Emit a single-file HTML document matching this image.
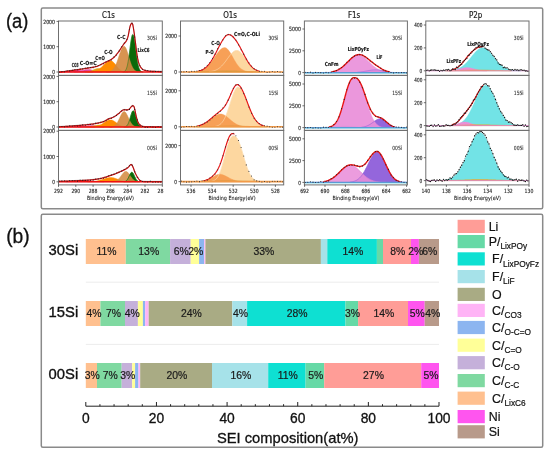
<!DOCTYPE html><html><head><meta charset="utf-8"><title>SEI XPS figure</title><style>html,body{margin:0;padding:0;background:#fff;width:550px;height:455px;overflow:hidden}svg{display:block;filter:blur(0.3px)}</style></head><body><svg width="550" height="455" viewBox="0 0 550 455"><defs><clipPath id="clip00"><rect x="58.5" y="21.0" width="103.8" height="54.4"/></clipPath><clipPath id="clip01"><rect x="58.5" y="75.4" width="103.8" height="55"/></clipPath><clipPath id="clip02"><rect x="58.5" y="130.4" width="103.8" height="54.5"/></clipPath><clipPath id="clip10"><rect x="180.5" y="21.0" width="103.2" height="54.4"/></clipPath><clipPath id="clip11"><rect x="180.5" y="75.4" width="103.2" height="55"/></clipPath><clipPath id="clip12"><rect x="180.5" y="130.4" width="103.2" height="54.5"/></clipPath><clipPath id="clip20"><rect x="304.4" y="21.0" width="103" height="54.4"/></clipPath><clipPath id="clip21"><rect x="304.4" y="75.4" width="103" height="55"/></clipPath><clipPath id="clip22"><rect x="304.4" y="130.4" width="103" height="54.5"/></clipPath><clipPath id="clip30"><rect x="425.8" y="21.0" width="103.2" height="54.4"/></clipPath><clipPath id="clip31"><rect x="425.8" y="75.4" width="103.2" height="55"/></clipPath><clipPath id="clip32"><rect x="425.8" y="130.4" width="103.2" height="54.5"/></clipPath></defs><rect width="550" height="455" fill="#fff"/><rect x="41.3" y="7.9" width="501.4" height="200.9" rx="1.5" fill="none" stroke="#8a8a8a" stroke-width="1.5"/>
<rect x="41.3" y="214.3" width="501.4" height="233" rx="1.5" fill="none" stroke="#8a8a8a" stroke-width="1.5"/>
<text x="5.9" y="27.9" font-family="Liberation Sans, DejaVu Sans, sans-serif" font-size="19.5" fill="#111" stroke="#111" stroke-width="0.3" textLength="22.4" lengthAdjust="spacingAndGlyphs">(a)</text>
<text x="6.2" y="243.4" font-family="Liberation Sans, DejaVu Sans, sans-serif" font-size="19.5" fill="#111" stroke="#111" stroke-width="0.3" textLength="23.5" lengthAdjust="spacingAndGlyphs">(b)</text>
<text x="108.5" y="17.8" text-anchor="middle" font-family="DejaVu Sans, Liberation Sans, sans-serif" font-size="8.0" fill="#1a1a1a" stroke="#1a1a1a" stroke-width="0.2" textLength="12.8" lengthAdjust="spacingAndGlyphs">C1s</text>
<g clip-path="url(#clip00)">
<path d="M61.01,72 L61.01,71.94 L61.51,71.93 L62.01,71.91 L62.51,71.89 L63.01,71.87 L63.51,71.84 L64.02,71.81 L64.52,71.77 L65.02,71.73 L65.52,71.68 L66.02,71.62 L66.52,71.56 L67.02,71.5 L67.53,71.43 L68.03,71.35 L68.53,71.26 L69.03,71.17 L69.53,71.08 L70.03,70.98 L70.53,70.88 L71.04,70.78 L71.54,70.68 L72.04,70.58 L72.54,70.48 L73.04,70.39 L73.54,70.31 L74.04,70.23 L74.55,70.16 L75.05,70.1 L75.55,70.06 L76.05,70.02 L76.55,70.01 L77.05,70 L77.56,70.01 L78.06,70.03 L78.56,70.07 L79.06,70.11 L79.56,70.17 L80.06,70.24 L80.56,70.32 L81.07,70.41 L81.57,70.5 L82.07,70.6 L82.57,70.7 L83.07,70.8 L83.57,70.9 L84.07,71 L84.58,71.1 L85.08,71.19 L85.58,71.28 L86.08,71.36 L86.58,71.44 L87.08,71.51 L87.58,71.58 L88.09,71.64 L88.59,71.69 L89.09,71.74 L89.59,71.78 L90.09,71.81 L90.59,71.85 L91.09,71.87 L91.6,71.9 L92.1,71.92 L92.6,71.93 L93.1,71.95 L93.1,72 Z" fill="#e0479e" fill-opacity="1" stroke="#e0479e" stroke-width="0.4"/>
<path d="M74.04,72 L74.04,71.95 L74.55,71.93 L75.05,71.91 L75.55,71.88 L76.05,71.85 L76.55,71.81 L77.05,71.76 L77.56,71.71 L78.06,71.64 L78.56,71.56 L79.06,71.47 L79.56,71.37 L80.06,71.26 L80.56,71.14 L81.07,71.01 L81.57,70.86 L82.07,70.71 L82.57,70.56 L83.07,70.4 L83.57,70.24 L84.07,70.09 L84.58,69.94 L85.08,69.81 L85.58,69.69 L86.08,69.58 L86.58,69.5 L87.08,69.44 L87.58,69.41 L88.09,69.4 L88.59,69.42 L89.09,69.46 L89.59,69.53 L90.09,69.62 L90.59,69.73 L91.09,69.85 L91.6,69.99 L92.1,70.14 L92.6,70.3 L93.1,70.45 L93.6,70.61 L94.1,70.77 L94.6,70.91 L95.11,71.05 L95.61,71.18 L96.11,71.3 L96.61,71.41 L97.11,71.51 L97.61,71.59 L98.11,71.66 L98.62,71.73 L99.12,71.78 L99.62,71.83 L100.12,71.86 L100.62,71.89 L101.12,71.92 L101.62,71.94 L101.62,72 Z" fill="#e0479e" fill-opacity="1" stroke="#e0479e" stroke-width="0.4"/>
<path d="M85.08,72 L85.08,71.94 L85.58,71.92 L86.08,71.9 L86.58,71.86 L87.08,71.82 L87.58,71.76 L88.09,71.69 L88.59,71.61 L89.09,71.51 L89.59,71.39 L90.09,71.25 L90.59,71.1 L91.09,70.92 L91.6,70.73 L92.1,70.52 L92.6,70.3 L93.1,70.07 L93.6,69.83 L94.1,69.59 L94.6,69.37 L95.11,69.15 L95.61,68.96 L96.11,68.8 L96.61,68.66 L97.11,68.57 L97.61,68.51 L98.11,68.5 L98.62,68.53 L99.12,68.61 L99.62,68.72 L100.12,68.87 L100.62,69.05 L101.12,69.25 L101.62,69.47 L102.13,69.7 L102.63,69.94 L103.13,70.17 L103.63,70.4 L104.13,70.62 L104.63,70.82 L105.13,71 L105.64,71.17 L106.14,71.32 L106.64,71.45 L107.14,71.56 L107.64,71.65 L108.14,71.72 L108.64,71.79 L109.15,71.84 L109.65,71.88 L110.15,71.91 L110.65,71.93 L110.65,72 Z" fill="#d9a21a" fill-opacity="1" stroke="#d9a21a" stroke-width="0.4"/>
<path d="M87.58,72 L87.58,71.95 L88.09,71.93 L88.59,71.92 L89.09,71.89 L89.59,71.87 L90.09,71.84 L90.59,71.8 L91.09,71.76 L91.6,71.71 L92.1,71.64 L92.6,71.57 L93.1,71.49 L93.6,71.39 L94.1,71.27 L94.6,71.14 L95.11,70.99 L95.61,70.82 L96.11,70.63 L96.61,70.42 L97.11,70.19 L97.61,69.92 L98.11,69.64 L98.62,69.33 L99.12,68.99 L99.62,68.62 L100.12,68.24 L100.62,67.83 L101.12,67.39 L101.62,66.94 L102.13,66.48 L102.63,66 L103.13,65.51 L103.63,65.02 L104.13,64.53 L104.63,64.05 L105.13,63.58 L105.64,63.12 L106.14,62.69 L106.64,62.29 L107.14,61.93 L107.64,61.6 L108.14,61.32 L108.64,61.09 L109.15,60.91 L109.65,60.78 L110.15,60.71 L110.65,60.7 L111.15,60.78 L111.65,60.95 L112.16,61.22 L112.66,61.57 L113.16,61.99 L113.66,62.48 L114.16,63.02 L114.66,63.6 L115.16,64.22 L115.67,64.85 L116.17,65.48 L116.67,66.11 L117.17,66.73 L117.67,67.32 L118.17,67.88 L118.67,68.41 L119.18,68.89 L119.68,69.33 L120.18,69.73 L120.68,70.09 L121.18,70.4 L121.68,70.68 L122.18,70.91 L122.69,71.11 L123.19,71.28 L123.69,71.43 L124.19,71.55 L124.69,71.64 L125.19,71.72 L125.69,71.78 L126.2,71.83 L126.7,71.87 L127.2,71.91 L127.7,71.93 L128.2,71.95 L128.2,72 Z" fill="#ff8c00" fill-opacity="1" stroke="#ff8c00" stroke-width="0.4"/>
<path d="M122.69,72 L122.69,71.91 L123.19,71.85 L123.69,71.73 L124.19,71.54 L124.69,71.25 L125.19,70.8 L125.69,70.14 L126.2,69.2 L126.7,67.9 L127.2,66.19 L127.7,64.01 L128.2,61.33 L128.7,58.18 L129.2,54.61 L129.71,50.78 L130.21,46.85 L130.71,43.09 L131.21,39.73 L131.71,37.05 L132.21,35.26 L132.71,34.52 L133.22,34.88 L133.72,36.33 L134.22,38.73 L134.72,41.88 L135.22,45.54 L135.72,49.44 L136.22,53.33 L136.73,57 L137.23,60.31 L137.73,63.15 L138.23,65.5 L138.73,67.37 L139.23,68.8 L139.73,69.85 L140.24,70.6 L140.74,71.11 L141.24,71.46 L141.74,71.68 L142.24,71.81 L142.74,71.9 L143.24,71.94 L143.24,72 Z" fill="#0a6a0a" fill-opacity="1" stroke="#0a6a0a" stroke-width="0.4"/>
<path d="M106.14,72 L106.14,71.93 L106.64,71.91 L107.14,71.87 L107.64,71.83 L108.14,71.77 L108.64,71.69 L109.15,71.59 L109.65,71.46 L110.15,71.3 L110.65,71.09 L111.15,70.84 L111.65,70.53 L112.16,70.16 L112.66,69.72 L113.16,69.19 L113.66,68.58 L114.16,67.86 L114.66,67.05 L115.16,66.13 L115.67,65.1 L116.17,63.97 L116.67,62.74 L117.17,61.43 L117.67,60.03 L118.17,58.58 L118.67,57.09 L119.18,55.59 L119.68,54.1 L120.18,52.66 L120.68,51.3 L121.18,50.05 L121.68,48.93 L122.18,47.99 L122.69,47.23 L123.19,46.69 L123.69,46.38 L124.19,46.3 L124.69,46.51 L125.19,47.02 L125.69,47.8 L126.2,48.83 L126.7,50.09 L127.2,51.52 L127.7,53.08 L128.2,54.73 L128.7,56.42 L129.2,58.11 L129.71,59.77 L130.21,61.35 L130.71,62.84 L131.21,64.22 L131.71,65.46 L132.21,66.57 L132.71,67.55 L133.22,68.39 L133.72,69.11 L134.22,69.71 L134.72,70.21 L135.22,70.62 L135.72,70.94 L136.22,71.2 L136.73,71.41 L137.23,71.56 L137.73,71.68 L138.23,71.77 L138.73,71.84 L139.23,71.89 L139.73,71.92 L140.24,71.95 L140.24,72 Z" fill="#d4883e" fill-opacity="0.9" stroke="#d4883e" stroke-width="0.4"/>
<path d="M124.19,71.54 L124.69,71.25 L125.19,70.8 L125.69,70.14 L126.2,69.2 L126.7,67.9 L127.2,66.19 L127.7,64.01 L128.2,61.33 L128.7,58.18 L129.2,54.61 L129.71,50.78 L130.21,46.85 L130.71,43.09 L131.21,39.73 L131.71,37.05 L132.21,35.26 L132.71,34.52 L133.22,34.88 L133.72,36.33 L134.22,38.73 L134.72,41.88 L135.22,45.54 L135.72,49.44 L136.22,53.33 L136.73,57 L137.23,60.31 L137.73,63.15 L138.23,65.5 L138.73,67.37 L139.23,68.8 L139.73,69.85 L140.24,70.6 L140.74,71.11 L141.24,71.46 L141.74,71.68" fill="none" stroke="#1a7a1a" stroke-width="0.6" stroke-opacity="0.8"/>
<path d="M58.5,72.5 L59,72.43 L59.5,72.35 L60,72.28 L60.51,72.2 L61.01,72.13 L61.51,72.05 L62.01,71.98 L62.51,71.9 L63.01,71.83 L63.51,71.75 L64.02,71.68 L64.52,71.61 L65.02,71.53 L65.52,71.46 L66.02,71.38 L66.52,71.31 L67.02,71.23 L67.53,71.16 L68.03,71.09 L68.53,71.01 L69.03,70.94 L69.53,70.87 L70.03,70.8 L70.53,70.72 L71.04,70.65 L71.54,70.58 L72.04,70.51 L72.54,70.44 L73.04,70.37 L73.54,70.31 L74.04,70.24 L74.55,70.17 L75.05,70.1 L75.55,70.03 L76.05,69.96 L76.55,69.89 L77.05,69.82 L77.56,69.75 L78.06,69.68 L78.56,69.61 L79.06,69.54 L79.56,69.47 L80.06,69.39 L80.56,69.32 L81.07,69.24 L81.57,69.16 L82.07,69.09 L82.57,69.01 L83.07,68.93 L83.57,68.86 L84.07,68.78 L84.58,68.7 L85.08,68.62 L85.58,68.54 L86.08,68.46 L86.58,68.38 L87.08,68.3 L87.58,68.21 L88.09,68.13 L88.59,68.04 L89.09,67.96 L89.59,67.87 L90.09,67.78 L90.59,67.7 L91.09,67.62 L91.6,67.54 L92.1,67.46 L92.6,67.38 L93.1,67.29 L93.6,67.2 L94.1,67.11 L94.6,67.01 L95.11,66.91 L95.61,66.79 L96.11,66.66 L96.61,66.52 L97.11,66.36 L97.61,66.18 L98.11,65.98 L98.62,65.75 L99.12,65.5 L99.62,65.25 L100.12,64.98 L100.62,64.71 L101.12,64.45 L101.62,64.19 L102.13,63.94 L102.63,63.69 L103.13,63.44 L103.63,63.18 L104.13,62.93 L104.63,62.67 L105.13,62.42 L105.64,62.17 L106.14,61.94 L106.64,61.71 L107.14,61.5 L107.64,61.29 L108.14,61.08 L108.64,60.87 L109.15,60.64 L109.65,60.39 L110.15,60.12 L110.65,59.82 L111.15,59.5 L111.65,59.17 L112.16,58.82 L112.66,58.45 L113.16,58.07 L113.66,57.67 L114.16,57.22 L114.66,56.71 L115.16,56.16 L115.67,55.57 L116.17,54.97 L116.67,54.37 L117.17,53.74 L117.67,53.11 L118.17,52.45 L118.67,51.77 L119.18,51.07 L119.68,50.33 L120.18,49.57 L120.68,48.79 L121.18,48.01 L121.68,47.24 L122.18,46.47 L122.69,45.72 L123.19,44.98 L123.69,44.26 L124.19,43.58 L124.69,43.01 L125.19,42.49 L125.69,41.91 L126.2,41.18 L126.7,40.22 L127.2,39.06 L127.7,37.66 L128.2,35.91 L128.7,33.35 L129.2,30.59 L129.71,27.82 L130.21,25.92 L130.71,24.59 L131.21,23.7 L131.71,23.31 L132.21,23.5 L132.71,24.44 L133.22,27 L133.72,30.02 L134.22,33.33 L134.72,37.11 L135.22,41.01 L135.72,44.92 L136.22,48.95 L136.73,52.9 L137.23,56.14 L137.73,58.95 L138.23,61.13 L138.73,62.92 L139.23,64.39 L139.73,65.57 L140.24,66.53 L140.74,67.34 L141.24,68.01 L141.74,68.57 L142.24,69.04 L142.74,69.42 L143.24,69.73 L143.75,69.99 L144.25,70.2 L144.75,70.38 L145.25,70.54 L145.75,70.69 L146.25,70.82 L146.76,70.94 L147.26,71.03 L147.76,71.11 L148.26,71.17 L148.76,71.22 L149.26,71.26 L149.76,71.29 L150.27,71.31 L150.77,71.34 L151.27,71.36 L151.77,71.38 L152.27,71.4 L152.77,71.42 L153.27,71.43 L153.78,71.45 L154.28,71.46 L154.78,71.47 L155.28,71.48 L155.78,71.49 L156.28,71.5 L156.78,71.51 L157.29,71.51 L157.79,71.52 L158.29,71.53 L158.79,71.54 L159.29,71.54 L159.79,71.55 L160.29,71.56 L160.8,71.57 L161.3,71.58 L161.8,71.59 L162.3,71.6" fill="none" stroke="#e81414" stroke-width="1.2" stroke-linejoin="round" stroke-linecap="round"/>
<line x1="58.5" y1="72" x2="162.3" y2="72" stroke="#ee1111" stroke-width="1.6"/>
<path d="M58.5,72.15 L59,72.08 L59.5,72 L60,71.93 L60.51,71.85 L61.01,71.78 L61.51,71.7 L62.01,71.63 L62.51,71.55 L63.01,71.48 L63.51,71.4 L64.02,71.33 L64.52,71.26 L65.02,71.18 L65.52,71.11 L66.02,71.03 L66.52,70.96 L67.02,70.88 L67.53,70.81 L68.03,70.74 L68.53,70.66 L69.03,70.59 L69.53,70.52 L70.03,70.45 L70.53,70.37 L71.04,70.3 L71.54,70.23 L72.04,70.16 L72.54,70.09 L73.04,70.02 L73.54,69.96 L74.04,69.89 L74.55,69.82 L75.05,69.75 L75.55,69.68 L76.05,69.61 L76.55,69.54 L77.05,69.47 L77.56,69.4 L78.06,69.33 L78.56,69.26 L79.06,69.19 L79.56,69.12 L80.06,69.04 L80.56,68.97 L81.07,68.89 L81.57,68.81 L82.07,68.74 L82.57,68.66 L83.07,68.58 L83.57,68.51 L84.07,68.43 L84.58,68.35 L85.08,68.27 L85.58,68.19 L86.08,68.11 L86.58,68.03 L87.08,67.95 L87.58,67.86 L88.09,67.78 L88.59,67.69 L89.09,67.61 L89.59,67.52 L90.09,67.43 L90.59,67.35 L91.09,67.27 L91.6,67.19 L92.1,67.11 L92.6,67.03 L93.1,66.94 L93.6,66.85 L94.1,66.76 L94.6,66.66 L95.11,66.56 L95.61,66.44 L96.11,66.31 L96.61,66.17 L97.11,66.01 L97.61,65.83 L98.11,65.63 L98.62,65.4 L99.12,65.15 L99.62,64.9 L100.12,64.63 L100.62,64.36 L101.12,64.1 L101.62,63.84 L102.13,63.59 L102.63,63.34 L103.13,63.09 L103.63,62.83 L104.13,62.58 L104.63,62.32 L105.13,62.07 L105.64,61.82 L106.14,61.59 L106.64,61.36 L107.14,61.15 L107.64,60.94 L108.14,60.73 L108.64,60.52 L109.15,60.29 L109.65,60.04 L110.15,59.77 L110.65,59.47 L111.15,59.15 L111.65,58.82 L112.16,58.47 L112.66,58.1 L113.16,57.72 L113.66,57.32 L114.16,56.87 L114.66,56.36 L115.16,55.81 L115.67,55.22 L116.17,54.62 L116.67,54.02 L117.17,53.39 L117.67,52.76 L118.17,52.1 L118.67,51.42 L119.18,50.72 L119.68,49.98 L120.18,49.22 L120.68,48.44 L121.18,47.66 L121.68,46.89 L122.18,46.12 L122.69,45.37 L123.19,44.63 L123.69,43.91 L124.19,43.23 L124.69,42.66 L125.19,42.14 L125.69,41.56 L126.2,40.83 L126.7,39.87 L127.2,38.71 L127.7,37.31 L128.2,35.56 L128.7,33 L129.2,30.24 L129.71,27.47 L130.21,25.57 L130.71,24.24 L131.21,23.35 L131.71,22.96 L132.21,23.15 L132.71,24.09 L133.22,26.65 L133.72,29.67 L134.22,32.98 L134.72,36.76 L135.22,40.66 L135.72,44.57 L136.22,48.6 L136.73,52.55 L137.23,55.79 L137.73,58.6 L138.23,60.78 L138.73,62.57 L139.23,64.04 L139.73,65.22 L140.24,66.18 L140.74,66.99 L141.24,67.66 L141.74,68.22 L142.24,68.69 L142.74,69.07 L143.24,69.38 L143.75,69.64 L144.25,69.85 L144.75,70.03 L145.25,70.19 L145.75,70.34 L146.25,70.47 L146.76,70.59 L147.26,70.68 L147.76,70.76 L148.26,70.82 L148.76,70.87 L149.26,70.91 L149.76,70.94 L150.27,70.96 L150.77,70.99 L151.27,71.01 L151.77,71.03 L152.27,71.05 L152.77,71.07 L153.27,71.08 L153.78,71.1 L154.28,71.11 L154.78,71.12 L155.28,71.13 L155.78,71.14 L156.28,71.15 L156.78,71.16 L157.29,71.16 L157.79,71.17 L158.29,71.18 L158.79,71.19 L159.29,71.19 L159.79,71.2 L160.29,71.21 L160.8,71.22 L161.3,71.23 L161.8,71.24 L162.3,71.25" fill="none" stroke="#3a0a0a" stroke-width="0.5" stroke-opacity="0.7"/>
<g fill="#222"><circle cx="59.3" cy="72.17" r="0.55"/><circle cx="61.9" cy="71.58" r="0.55"/><circle cx="64.5" cy="71.79" r="0.55"/><circle cx="67.1" cy="70.71" r="0.55"/><circle cx="69.7" cy="70.89" r="0.55"/><circle cx="72.3" cy="70.32" r="0.55"/><circle cx="74.9" cy="69.59" r="0.55"/><circle cx="77.5" cy="69.77" r="0.55"/><circle cx="80.1" cy="68.83" r="0.55"/><circle cx="82.7" cy="68.91" r="0.55"/><circle cx="85.3" cy="68.07" r="0.55"/><circle cx="87.9" cy="67.67" r="0.55"/><circle cx="90.5" cy="67.62" r="0.55"/><circle cx="93.1" cy="67.68" r="0.55"/><circle cx="95.7" cy="66.31" r="0.55"/><circle cx="98.3" cy="65.56" r="0.55"/><circle cx="100.9" cy="64.72" r="0.55"/><circle cx="103.5" cy="63.78" r="0.55"/><circle cx="106.1" cy="62.05" r="0.55"/><circle cx="108.7" cy="60.72" r="0.55"/><circle cx="111.3" cy="59.98" r="0.55"/><circle cx="113.9" cy="56.92" r="0.55"/><circle cx="116.5" cy="55" r="0.55"/><circle cx="119.1" cy="50.92" r="0.55"/><circle cx="121.7" cy="46.78" r="0.55"/><circle cx="124.3" cy="42.99" r="0.55"/><circle cx="126.9" cy="39.55" r="0.55"/><circle cx="129.5" cy="29.26" r="0.55"/><circle cx="132.1" cy="23.02" r="0.55"/><circle cx="134.7" cy="37.05" r="0.55"/><circle cx="137.3" cy="56.74" r="0.55"/><circle cx="139.9" cy="65.75" r="0.55"/><circle cx="142.5" cy="69.3" r="0.55"/><circle cx="145.1" cy="69.97" r="0.55"/><circle cx="147.7" cy="70.57" r="0.55"/><circle cx="150.3" cy="70.96" r="0.55"/><circle cx="152.9" cy="71.64" r="0.55"/><circle cx="155.5" cy="71.4" r="0.55"/><circle cx="158.1" cy="71.3" r="0.55"/><circle cx="160.7" cy="71.67" r="0.55"/></g>
</g>
<rect x="58.5" y="21.0" width="103.8" height="54.4" fill="none" stroke="#6f6f6f" stroke-width="1"/>
<line x1="56.5" y1="72" x2="58.5" y2="72" stroke="#333" stroke-width="0.7"/>
<text x="55" y="74.1" text-anchor="end" font-family="DejaVu Sans, Liberation Sans, sans-serif" font-size="5.7" fill="#2a2a2a" stroke="#2a2a2a" stroke-width="0.18" textLength="2.7" lengthAdjust="spacingAndGlyphs">0</text>
<line x1="56.5" y1="46.7" x2="58.5" y2="46.7" stroke="#333" stroke-width="0.7"/>
<text x="55" y="48.8" text-anchor="end" font-family="DejaVu Sans, Liberation Sans, sans-serif" font-size="5.7" fill="#2a2a2a" stroke="#2a2a2a" stroke-width="0.18" textLength="11.8" lengthAdjust="spacingAndGlyphs">1000</text>
<line x1="56.5" y1="21.4" x2="58.5" y2="21.4" stroke="#333" stroke-width="0.7"/>
<text x="55" y="23.5" text-anchor="end" font-family="DejaVu Sans, Liberation Sans, sans-serif" font-size="5.7" fill="#2a2a2a" stroke="#2a2a2a" stroke-width="0.18" textLength="11.8" lengthAdjust="spacingAndGlyphs">2000</text>
<text x="152" y="40.2" text-anchor="middle" font-family="DejaVu Sans, Liberation Sans, sans-serif" font-size="5.8" fill="#333" stroke="#333" stroke-width="0.12" textLength="9.8" lengthAdjust="spacingAndGlyphs">30Si</text>
<g clip-path="url(#clip01)">
<path d="M65.02,127 L65.02,126.95 L65.52,126.93 L66.02,126.92 L66.52,126.9 L67.02,126.88 L67.53,126.86 L68.03,126.84 L68.53,126.81 L69.03,126.77 L69.53,126.74 L70.03,126.7 L70.53,126.65 L71.04,126.61 L71.54,126.56 L72.04,126.5 L72.54,126.45 L73.04,126.39 L73.54,126.33 L74.04,126.27 L74.55,126.21 L75.05,126.15 L75.55,126.09 L76.05,126.03 L76.55,125.98 L77.05,125.94 L77.56,125.9 L78.06,125.86 L78.56,125.83 L79.06,125.81 L79.56,125.8 L80.06,125.8 L80.56,125.81 L81.07,125.82 L81.57,125.84 L82.07,125.87 L82.57,125.91 L83.07,125.95 L83.57,125.99 L84.07,126.05 L84.58,126.1 L85.08,126.16 L85.58,126.22 L86.08,126.28 L86.58,126.34 L87.08,126.4 L87.58,126.46 L88.09,126.52 L88.59,126.57 L89.09,126.62 L89.59,126.67 L90.09,126.71 L90.59,126.75 L91.09,126.78 L91.6,126.81 L92.1,126.84 L92.6,126.87 L93.1,126.89 L93.6,126.91 L94.1,126.92 L94.6,126.94 L95.11,126.95 L95.11,127 Z" fill="#e0479e" fill-opacity="1" stroke="#e0479e" stroke-width="0.4"/>
<path d="M78.06,127 L78.06,126.94 L78.56,126.93 L79.06,126.91 L79.56,126.88 L80.06,126.85 L80.56,126.82 L81.07,126.78 L81.57,126.73 L82.07,126.68 L82.57,126.61 L83.07,126.54 L83.57,126.47 L84.07,126.39 L84.58,126.3 L85.08,126.21 L85.58,126.11 L86.08,126.01 L86.58,125.92 L87.08,125.82 L87.58,125.73 L88.09,125.65 L88.59,125.58 L89.09,125.51 L89.59,125.46 L90.09,125.43 L90.59,125.41 L91.09,125.4 L91.6,125.41 L92.1,125.44 L92.6,125.48 L93.1,125.54 L93.6,125.6 L94.1,125.68 L94.6,125.77 L95.11,125.86 L95.61,125.95 L96.11,126.05 L96.61,126.15 L97.11,126.24 L97.61,126.33 L98.11,126.42 L98.62,126.5 L99.12,126.57 L99.62,126.64 L100.12,126.7 L100.62,126.75 L101.12,126.79 L101.62,126.83 L102.13,126.87 L102.63,126.89 L103.13,126.92 L103.63,126.93 L104.13,126.95 L104.13,127 Z" fill="#e0479e" fill-opacity="1" stroke="#e0479e" stroke-width="0.4"/>
<path d="M85.58,127 L85.58,126.95 L86.08,126.93 L86.58,126.91 L87.08,126.88 L87.58,126.85 L88.09,126.82 L88.59,126.77 L89.09,126.72 L89.59,126.66 L90.09,126.59 L90.59,126.51 L91.09,126.43 L91.6,126.33 L92.1,126.23 L92.6,126.12 L93.1,126 L93.6,125.88 L94.1,125.76 L94.6,125.64 L95.11,125.52 L95.61,125.41 L96.11,125.31 L96.61,125.22 L97.11,125.14 L97.61,125.08 L98.11,125.03 L98.62,125.01 L99.12,125 L99.62,125.02 L100.12,125.05 L100.62,125.1 L101.12,125.17 L101.62,125.26 L102.13,125.36 L102.63,125.46 L103.13,125.58 L103.63,125.7 L104.13,125.82 L104.63,125.94 L105.13,126.06 L105.64,126.17 L106.14,126.28 L106.64,126.38 L107.14,126.47 L107.64,126.55 L108.14,126.62 L108.64,126.69 L109.15,126.74 L109.65,126.79 L110.15,126.83 L110.65,126.87 L111.15,126.9 L111.65,126.92 L112.16,126.94 L112.16,127 Z" fill="#d9a21a" fill-opacity="1" stroke="#d9a21a" stroke-width="0.4"/>
<path d="M90.09,127 L90.09,126.95 L90.59,126.93 L91.09,126.92 L91.6,126.9 L92.1,126.87 L92.6,126.84 L93.1,126.8 L93.6,126.76 L94.1,126.71 L94.6,126.64 L95.11,126.57 L95.61,126.49 L96.11,126.39 L96.61,126.28 L97.11,126.15 L97.61,126.01 L98.11,125.84 L98.62,125.67 L99.12,125.47 L99.62,125.25 L100.12,125.02 L100.62,124.76 L101.12,124.49 L101.62,124.2 L102.13,123.9 L102.63,123.59 L103.13,123.27 L103.63,122.94 L104.13,122.61 L104.63,122.28 L105.13,121.95 L105.64,121.63 L106.14,121.33 L106.64,121.05 L107.14,120.79 L107.64,120.55 L108.14,120.35 L108.64,120.18 L109.15,120.05 L109.65,119.96 L110.15,119.91 L110.65,119.9 L111.15,119.94 L111.65,120.04 L112.16,120.18 L112.66,120.37 L113.16,120.61 L113.66,120.88 L114.16,121.18 L114.66,121.51 L115.16,121.86 L115.67,122.22 L116.17,122.59 L116.67,122.97 L117.17,123.33 L117.67,123.69 L118.17,124.04 L118.67,124.37 L119.18,124.68 L119.68,124.97 L120.18,125.24 L120.68,125.48 L121.18,125.7 L121.68,125.89 L122.18,126.07 L122.69,126.22 L123.19,126.35 L123.69,126.46 L124.19,126.56 L124.69,126.64 L125.19,126.71 L125.69,126.77 L126.2,126.82 L126.7,126.86 L127.2,126.89 L127.7,126.91 L128.2,126.93 L128.7,126.95 L128.7,127 Z" fill="#ff8c00" fill-opacity="1" stroke="#ff8c00" stroke-width="0.4"/>
<path d="M123.69,127 L123.69,126.95 L124.19,126.91 L124.69,126.84 L125.19,126.73 L125.69,126.55 L126.2,126.29 L126.7,125.91 L127.2,125.37 L127.7,124.65 L128.2,123.71 L128.7,122.54 L129.2,121.15 L129.71,119.56 L130.21,117.85 L130.71,116.1 L131.21,114.42 L131.71,112.93 L132.21,111.78 L132.71,111.04 L133.22,110.8 L133.72,111.07 L134.22,111.84 L134.72,113.02 L135.22,114.52 L135.72,116.21 L136.22,117.96 L136.73,119.67 L137.23,121.24 L137.73,122.62 L138.23,123.77 L138.73,124.7 L139.23,125.41 L139.73,125.94 L140.24,126.31 L140.74,126.57 L141.24,126.74 L141.74,126.85 L142.24,126.91 L142.24,127 Z" fill="#0a6a0a" fill-opacity="1" stroke="#0a6a0a" stroke-width="0.4"/>
<path d="M109.65,127 L109.65,126.95 L110.15,126.92 L110.65,126.88 L111.15,126.83 L111.65,126.77 L112.16,126.68 L112.66,126.55 L113.16,126.4 L113.66,126.19 L114.16,125.93 L114.66,125.61 L115.16,125.22 L115.67,124.75 L116.17,124.19 L116.67,123.54 L117.17,122.8 L117.67,121.96 L118.17,121.04 L118.67,120.05 L119.18,119.01 L119.68,117.93 L120.18,116.84 L120.68,115.78 L121.18,114.77 L121.68,113.85 L122.18,113.06 L122.69,112.41 L123.19,111.94 L123.69,111.67 L124.19,111.6 L124.69,111.74 L125.19,112.09 L125.69,112.62 L126.2,113.32 L126.7,114.17 L127.2,115.12 L127.7,116.15 L128.2,117.23 L128.7,118.32 L129.2,119.39 L129.71,120.42 L130.21,121.38 L130.71,122.27 L131.21,123.08 L131.71,123.79 L132.21,124.4 L132.71,124.93 L133.22,125.37 L133.72,125.74 L134.22,126.03 L134.72,126.27 L135.22,126.46 L135.72,126.6 L136.22,126.71 L136.73,126.79 L137.23,126.85 L137.73,126.9 L138.23,126.93 L138.23,127 Z" fill="#d4883e" fill-opacity="0.9" stroke="#d4883e" stroke-width="0.4"/>
<path d="M125.69,126.55 L126.2,126.29 L126.7,125.91 L127.2,125.37 L127.7,124.65 L128.2,123.71 L128.7,122.54 L129.2,121.15 L129.71,119.56 L130.21,117.85 L130.71,116.1 L131.21,114.42 L131.71,112.93 L132.21,111.78 L132.71,111.04 L133.22,110.8 L133.72,111.07 L134.22,111.84 L134.72,113.02 L135.22,114.52 L135.72,116.21 L136.22,117.96 L136.73,119.67 L137.23,121.24 L137.73,122.62 L138.23,123.77 L138.73,124.7 L139.23,125.41 L139.73,125.94 L140.24,126.31 L140.74,126.57" fill="none" stroke="#1a7a1a" stroke-width="0.7" stroke-opacity="0.9"/>
<path d="M58.5,126.9 L59,126.87 L59.5,126.83 L60,126.8 L60.51,126.77 L61.01,126.74 L61.51,126.71 L62.01,126.67 L62.51,126.64 L63.01,126.61 L63.51,126.58 L64.02,126.55 L64.52,126.52 L65.02,126.49 L65.52,126.45 L66.02,126.42 L66.52,126.39 L67.02,126.36 L67.53,126.33 L68.03,126.29 L68.53,126.26 L69.03,126.23 L69.53,126.2 L70.03,126.16 L70.53,126.13 L71.04,126.09 L71.54,126.06 L72.04,126.02 L72.54,125.99 L73.04,125.95 L73.54,125.91 L74.04,125.87 L74.55,125.84 L75.05,125.8 L75.55,125.76 L76.05,125.72 L76.55,125.68 L77.05,125.64 L77.56,125.6 L78.06,125.56 L78.56,125.52 L79.06,125.48 L79.56,125.43 L80.06,125.39 L80.56,125.35 L81.07,125.31 L81.57,125.27 L82.07,125.22 L82.57,125.18 L83.07,125.13 L83.57,125.09 L84.07,125.04 L84.58,124.99 L85.08,124.94 L85.58,124.89 L86.08,124.84 L86.58,124.79 L87.08,124.74 L87.58,124.68 L88.09,124.63 L88.59,124.57 L89.09,124.51 L89.59,124.45 L90.09,124.39 L90.59,124.33 L91.09,124.26 L91.6,124.19 L92.1,124.12 L92.6,124.05 L93.1,123.97 L93.6,123.9 L94.1,123.82 L94.6,123.74 L95.11,123.65 L95.61,123.57 L96.11,123.48 L96.61,123.39 L97.11,123.29 L97.61,123.2 L98.11,123.1 L98.62,122.99 L99.12,122.89 L99.62,122.78 L100.12,122.67 L100.62,122.55 L101.12,122.42 L101.62,122.27 L102.13,122.11 L102.63,121.94 L103.13,121.76 L103.63,121.56 L104.13,121.36 L104.63,121.14 L105.13,120.89 L105.64,120.6 L106.14,120.29 L106.64,119.97 L107.14,119.67 L107.64,119.38 L108.14,119.13 L108.64,118.91 L109.15,118.72 L109.65,118.54 L110.15,118.38 L110.65,118.22 L111.15,118.07 L111.65,117.9 L112.16,117.73 L112.66,117.53 L113.16,117.32 L113.66,117.07 L114.16,116.79 L114.66,116.49 L115.16,116.16 L115.67,115.81 L116.17,115.45 L116.67,115.07 L117.17,114.69 L117.67,114.31 L118.17,113.92 L118.67,113.52 L119.18,113.08 L119.68,112.62 L120.18,112.15 L120.68,111.7 L121.18,111.27 L121.68,110.88 L122.18,110.55 L122.69,110.27 L123.19,110.05 L123.69,109.89 L124.19,109.79 L124.69,109.76 L125.19,109.78 L125.69,109.83 L126.2,109.89 L126.7,109.92 L127.2,109.91 L127.7,109.84 L128.2,109.7 L128.7,109.47 L129.2,109.12 L129.71,108.63 L130.21,108.06 L130.71,107.46 L131.21,106.89 L131.71,106.38 L132.21,105.89 L132.71,105.7 L133.22,105.83 L133.72,106.26 L134.22,107.21 L134.72,109.29 L135.22,111.62 L135.72,114.08 L136.22,116.4 L136.73,118.3 L137.23,120.01 L137.73,121.5 L138.23,122.66 L138.73,123.53 L139.23,124.18 L139.73,124.69 L140.24,125.1 L140.74,125.47 L141.24,125.78 L141.74,126.04 L142.24,126.24 L142.74,126.4 L143.24,126.53 L143.75,126.63 L144.25,126.7 L144.75,126.77 L145.25,126.82 L145.75,126.86 L146.25,126.89 L146.76,126.92 L147.26,126.94 L147.76,126.95 L148.26,126.96 L148.76,126.97 L149.26,126.98 L149.76,126.99 L150.27,127.01 L150.77,127.02 L151.27,127.03 L151.77,127.04 L152.27,127.05 L152.77,127.05 L153.27,127.06 L153.78,127.06 L154.28,127.07 L154.78,127.07 L155.28,127.07 L155.78,127.08 L156.28,127.08 L156.78,127.08 L157.29,127.08 L157.79,127.08 L158.29,127.08 L158.79,127.08 L159.29,127.09 L159.79,127.09 L160.29,127.09 L160.8,127.09 L161.3,127.09 L161.8,127.1 L162.3,127.1" fill="none" stroke="#e81414" stroke-width="1.2" stroke-linejoin="round" stroke-linecap="round"/>
<line x1="58.5" y1="127" x2="162.3" y2="127" stroke="#ee1111" stroke-width="1.6"/>
<path d="M58.5,126.55 L59,126.52 L59.5,126.48 L60,126.45 L60.51,126.42 L61.01,126.39 L61.51,126.36 L62.01,126.32 L62.51,126.29 L63.01,126.26 L63.51,126.23 L64.02,126.2 L64.52,126.17 L65.02,126.14 L65.52,126.1 L66.02,126.07 L66.52,126.04 L67.02,126.01 L67.53,125.98 L68.03,125.94 L68.53,125.91 L69.03,125.88 L69.53,125.85 L70.03,125.81 L70.53,125.78 L71.04,125.74 L71.54,125.71 L72.04,125.67 L72.54,125.64 L73.04,125.6 L73.54,125.56 L74.04,125.52 L74.55,125.49 L75.05,125.45 L75.55,125.41 L76.05,125.37 L76.55,125.33 L77.05,125.29 L77.56,125.25 L78.06,125.21 L78.56,125.17 L79.06,125.13 L79.56,125.08 L80.06,125.04 L80.56,125 L81.07,124.96 L81.57,124.92 L82.07,124.87 L82.57,124.83 L83.07,124.78 L83.57,124.74 L84.07,124.69 L84.58,124.64 L85.08,124.59 L85.58,124.54 L86.08,124.49 L86.58,124.44 L87.08,124.39 L87.58,124.33 L88.09,124.28 L88.59,124.22 L89.09,124.16 L89.59,124.1 L90.09,124.04 L90.59,123.98 L91.09,123.91 L91.6,123.84 L92.1,123.77 L92.6,123.7 L93.1,123.62 L93.6,123.55 L94.1,123.47 L94.6,123.39 L95.11,123.3 L95.61,123.22 L96.11,123.13 L96.61,123.04 L97.11,122.94 L97.61,122.85 L98.11,122.75 L98.62,122.64 L99.12,122.54 L99.62,122.43 L100.12,122.32 L100.62,122.2 L101.12,122.07 L101.62,121.92 L102.13,121.76 L102.63,121.59 L103.13,121.41 L103.63,121.21 L104.13,121.01 L104.63,120.79 L105.13,120.54 L105.64,120.25 L106.14,119.94 L106.64,119.62 L107.14,119.32 L107.64,119.03 L108.14,118.78 L108.64,118.56 L109.15,118.37 L109.65,118.19 L110.15,118.03 L110.65,117.87 L111.15,117.72 L111.65,117.55 L112.16,117.38 L112.66,117.18 L113.16,116.97 L113.66,116.72 L114.16,116.44 L114.66,116.14 L115.16,115.81 L115.67,115.46 L116.17,115.1 L116.67,114.72 L117.17,114.34 L117.67,113.96 L118.17,113.57 L118.67,113.17 L119.18,112.73 L119.68,112.27 L120.18,111.8 L120.68,111.35 L121.18,110.92 L121.68,110.53 L122.18,110.2 L122.69,109.92 L123.19,109.7 L123.69,109.54 L124.19,109.44 L124.69,109.41 L125.19,109.43 L125.69,109.48 L126.2,109.54 L126.7,109.57 L127.2,109.56 L127.7,109.49 L128.2,109.35 L128.7,109.12 L129.2,108.77 L129.71,108.28 L130.21,107.71 L130.71,107.11 L131.21,106.54 L131.71,106.03 L132.21,105.54 L132.71,105.35 L133.22,105.48 L133.72,105.91 L134.22,106.86 L134.72,108.94 L135.22,111.27 L135.72,113.73 L136.22,116.05 L136.73,117.95 L137.23,119.66 L137.73,121.15 L138.23,122.31 L138.73,123.18 L139.23,123.83 L139.73,124.34 L140.24,124.75 L140.74,125.12 L141.24,125.43 L141.74,125.69 L142.24,125.89 L142.74,126.05 L143.24,126.18 L143.75,126.28 L144.25,126.35 L144.75,126.42 L145.25,126.47 L145.75,126.51 L146.25,126.54 L146.76,126.57 L147.26,126.59 L147.76,126.6 L148.26,126.61 L148.76,126.62 L149.26,126.63 L149.76,126.64 L150.27,126.66 L150.77,126.67 L151.27,126.68 L151.77,126.69 L152.27,126.7 L152.77,126.7 L153.27,126.71 L153.78,126.71 L154.28,126.72 L154.78,126.72 L155.28,126.72 L155.78,126.73 L156.28,126.73 L156.78,126.73 L157.29,126.73 L157.79,126.73 L158.29,126.73 L158.79,126.73 L159.29,126.74 L159.79,126.74 L160.29,126.74 L160.8,126.74 L161.3,126.74 L161.8,126.75 L162.3,126.75" fill="none" stroke="#3a0a0a" stroke-width="0.5" stroke-opacity="0.7"/>
<g fill="#222"><circle cx="59.3" cy="126.79" r="0.55"/><circle cx="61.9" cy="126.44" r="0.55"/><circle cx="64.5" cy="126.87" r="0.55"/><circle cx="67.1" cy="126.59" r="0.55"/><circle cx="69.7" cy="125.88" r="0.55"/><circle cx="72.3" cy="126.09" r="0.55"/><circle cx="74.9" cy="125.84" r="0.55"/><circle cx="77.5" cy="126.05" r="0.55"/><circle cx="80.1" cy="125.67" r="0.55"/><circle cx="82.7" cy="124.91" r="0.55"/><circle cx="85.3" cy="125.5" r="0.55"/><circle cx="87.9" cy="124.19" r="0.55"/><circle cx="90.5" cy="124.24" r="0.55"/><circle cx="93.1" cy="124.28" r="0.55"/><circle cx="95.7" cy="123.13" r="0.55"/><circle cx="98.3" cy="123.05" r="0.55"/><circle cx="100.9" cy="121.93" r="0.55"/><circle cx="103.5" cy="121.82" r="0.55"/><circle cx="106.1" cy="120.63" r="0.55"/><circle cx="108.7" cy="118.98" r="0.55"/><circle cx="111.3" cy="118.47" r="0.55"/><circle cx="113.9" cy="116.72" r="0.55"/><circle cx="116.5" cy="115.44" r="0.55"/><circle cx="119.1" cy="113.26" r="0.55"/><circle cx="121.7" cy="110.97" r="0.55"/><circle cx="124.3" cy="109.72" r="0.55"/><circle cx="126.9" cy="110.33" r="0.55"/><circle cx="129.5" cy="109.38" r="0.55"/><circle cx="132.1" cy="105.95" r="0.55"/><circle cx="134.7" cy="109.39" r="0.55"/><circle cx="137.3" cy="119.72" r="0.55"/><circle cx="139.9" cy="125.08" r="0.55"/><circle cx="142.5" cy="126.51" r="0.55"/><circle cx="145.1" cy="127.4" r="0.55"/><circle cx="147.7" cy="127.34" r="0.55"/><circle cx="150.3" cy="126.75" r="0.55"/><circle cx="152.9" cy="126.92" r="0.55"/><circle cx="155.5" cy="127.28" r="0.55"/><circle cx="158.1" cy="126.51" r="0.55"/><circle cx="160.7" cy="127.04" r="0.55"/></g>
</g>
<rect x="58.5" y="75.4" width="103.8" height="55" fill="none" stroke="#6f6f6f" stroke-width="1"/>
<line x1="56.5" y1="127" x2="58.5" y2="127" stroke="#333" stroke-width="0.7"/>
<text x="55" y="129.1" text-anchor="end" font-family="DejaVu Sans, Liberation Sans, sans-serif" font-size="5.7" fill="#2a2a2a" stroke="#2a2a2a" stroke-width="0.18" textLength="2.7" lengthAdjust="spacingAndGlyphs">0</text>
<line x1="56.5" y1="101.7" x2="58.5" y2="101.7" stroke="#333" stroke-width="0.7"/>
<text x="55" y="103.8" text-anchor="end" font-family="DejaVu Sans, Liberation Sans, sans-serif" font-size="5.7" fill="#2a2a2a" stroke="#2a2a2a" stroke-width="0.18" textLength="11.8" lengthAdjust="spacingAndGlyphs">1000</text>
<line x1="56.5" y1="76.4" x2="58.5" y2="76.4" stroke="#333" stroke-width="0.7"/>
<text x="55" y="78.5" text-anchor="end" font-family="DejaVu Sans, Liberation Sans, sans-serif" font-size="5.7" fill="#2a2a2a" stroke="#2a2a2a" stroke-width="0.18" textLength="11.8" lengthAdjust="spacingAndGlyphs">2000</text>
<text x="152" y="94.6" text-anchor="middle" font-family="DejaVu Sans, Liberation Sans, sans-serif" font-size="5.8" fill="#333" stroke="#333" stroke-width="0.12" textLength="9.8" lengthAdjust="spacingAndGlyphs">15Si</text>
<g clip-path="url(#clip02)">
<path d="M65.52,181.8 L65.52,181.75 L66.02,181.74 L66.52,181.73 L67.02,181.72 L67.53,181.71 L68.03,181.69 L68.53,181.68 L69.03,181.66 L69.53,181.65 L70.03,181.63 L70.53,181.6 L71.04,181.58 L71.54,181.56 L72.04,181.53 L72.54,181.5 L73.04,181.47 L73.54,181.44 L74.04,181.41 L74.55,181.37 L75.05,181.34 L75.55,181.3 L76.05,181.27 L76.55,181.23 L77.05,181.19 L77.56,181.15 L78.06,181.11 L78.56,181.08 L79.06,181.04 L79.56,181.01 L80.06,180.97 L80.56,180.94 L81.07,180.91 L81.57,180.89 L82.07,180.86 L82.57,180.85 L83.07,180.83 L83.57,180.82 L84.07,180.81 L84.58,180.8 L85.08,180.8 L85.58,180.8 L86.08,180.81 L86.58,180.82 L87.08,180.83 L87.58,180.85 L88.09,180.87 L88.59,180.9 L89.09,180.92 L89.59,180.95 L90.09,180.98 L90.59,181.02 L91.09,181.05 L91.6,181.09 L92.1,181.13 L92.6,181.16 L93.1,181.2 L93.6,181.24 L94.1,181.28 L94.6,181.31 L95.11,181.35 L95.61,181.38 L96.11,181.42 L96.61,181.45 L97.11,181.48 L97.61,181.51 L98.11,181.54 L98.62,181.57 L99.12,181.59 L99.62,181.61 L100.12,181.63 L100.62,181.65 L101.12,181.67 L101.62,181.68 L102.13,181.7 L102.63,181.71 L103.13,181.72 L103.63,181.73 L104.13,181.74 L104.13,181.8 Z" fill="#e0479e" fill-opacity="1" stroke="#e0479e" stroke-width="0.4"/>
<path d="M87.58,181.8 L87.58,181.74 L88.09,181.73 L88.59,181.72 L89.09,181.7 L89.59,181.68 L90.09,181.66 L90.59,181.63 L91.09,181.61 L91.6,181.57 L92.1,181.54 L92.6,181.49 L93.1,181.45 L93.6,181.4 L94.1,181.34 L94.6,181.27 L95.11,181.2 L95.61,181.12 L96.11,181.04 L96.61,180.95 L97.11,180.85 L97.61,180.74 L98.11,180.62 L98.62,180.5 L99.12,180.37 L99.62,180.24 L100.12,180.09 L100.62,179.95 L101.12,179.79 L101.62,179.64 L102.13,179.48 L102.63,179.31 L103.13,179.15 L103.63,178.99 L104.13,178.83 L104.63,178.67 L105.13,178.51 L105.64,178.37 L106.14,178.23 L106.64,178.09 L107.14,177.97 L107.64,177.86 L108.14,177.77 L108.64,177.68 L109.15,177.61 L109.65,177.56 L110.15,177.52 L110.65,177.5 L111.15,177.5 L111.65,177.52 L112.16,177.57 L112.66,177.64 L113.16,177.73 L113.66,177.85 L114.16,177.98 L114.66,178.13 L115.16,178.3 L115.67,178.48 L116.17,178.66 L116.67,178.86 L117.17,179.06 L117.67,179.26 L118.17,179.46 L118.67,179.66 L119.18,179.85 L119.68,180.04 L120.18,180.21 L120.68,180.38 L121.18,180.54 L121.68,180.69 L122.18,180.82 L122.69,180.95 L123.19,181.06 L123.69,181.16 L124.19,181.25 L124.69,181.33 L125.19,181.4 L125.69,181.47 L126.2,181.52 L126.7,181.57 L127.2,181.61 L127.7,181.64 L128.2,181.67 L128.7,181.69 L129.2,181.71 L129.71,181.73 L130.21,181.75 L130.21,181.8 Z" fill="#ff8c00" fill-opacity="1" stroke="#ff8c00" stroke-width="0.4"/>
<path d="M123.69,181.8 L123.69,181.73 L124.19,181.67 L124.69,181.57 L125.19,181.42 L125.69,181.2 L126.2,180.87 L126.7,180.42 L127.2,179.82 L127.7,179.06 L128.2,178.15 L128.7,177.13 L129.2,176.03 L129.71,174.93 L130.21,173.93 L130.71,173.1 L131.21,172.54 L131.71,172.31 L132.21,172.42 L132.71,172.87 L133.22,173.61 L133.72,174.56 L134.22,175.64 L134.72,176.74 L135.22,177.8 L135.72,178.76 L136.22,179.57 L136.73,180.22 L137.23,180.72 L137.73,181.09 L138.23,181.35 L138.73,181.53 L139.23,181.64 L139.73,181.71 L139.73,181.8 Z" fill="#0a6a0a" fill-opacity="1" stroke="#0a6a0a" stroke-width="0.4"/>
<path d="M111.65,181.8 L111.65,181.73 L112.16,181.7 L112.66,181.66 L113.16,181.61 L113.66,181.54 L114.16,181.45 L114.66,181.34 L115.16,181.2 L115.67,181.02 L116.17,180.8 L116.67,180.53 L117.17,180.22 L117.67,179.85 L118.17,179.42 L118.67,178.94 L119.18,178.4 L119.68,177.8 L120.18,177.17 L120.68,176.49 L121.18,175.8 L121.68,175.1 L122.18,174.4 L122.69,173.74 L123.19,173.13 L123.69,172.58 L124.19,172.12 L124.69,171.77 L125.19,171.53 L125.69,171.41 L126.2,171.43 L126.7,171.59 L127.2,171.89 L127.7,172.31 L128.2,172.85 L128.7,173.48 L129.2,174.17 L129.71,174.9 L130.21,175.65 L130.71,176.4 L131.21,177.12 L131.71,177.81 L132.21,178.44 L132.71,179.01 L133.22,179.52 L133.72,179.96 L134.22,180.34 L134.72,180.65 L135.22,180.91 L135.72,181.13 L136.22,181.29 L136.73,181.42 L137.23,181.53 L137.73,181.6 L138.23,181.66 L138.73,181.7 L139.23,181.73 L139.23,181.8 Z" fill="#d4883e" fill-opacity="0.85" stroke="#d4883e" stroke-width="0.4"/>
<path d="M125.19,181.42 L125.69,181.2 L126.2,180.87 L126.7,180.42 L127.2,179.82 L127.7,179.06 L128.2,178.15 L128.7,177.13 L129.2,176.03 L129.71,174.93 L130.21,173.93 L130.71,173.1 L131.21,172.54 L131.71,172.31 L132.21,172.42 L132.71,172.87 L133.22,173.61 L133.72,174.56 L134.22,175.64 L134.72,176.74 L135.22,177.8 L135.72,178.76 L136.22,179.57 L136.73,180.22 L137.23,180.72 L137.73,181.09 L138.23,181.35" fill="none" stroke="#1a7a1a" stroke-width="0.8" stroke-opacity="1"/>
<path d="M58.5,181.5 L59,181.48 L59.5,181.46 L60,181.44 L60.51,181.42 L61.01,181.4 L61.51,181.37 L62.01,181.35 L62.51,181.33 L63.01,181.31 L63.51,181.29 L64.02,181.27 L64.52,181.25 L65.02,181.23 L65.52,181.21 L66.02,181.19 L66.52,181.17 L67.02,181.15 L67.53,181.13 L68.03,181.11 L68.53,181.09 L69.03,181.07 L69.53,181.04 L70.03,181.02 L70.53,181 L71.04,180.98 L71.54,180.96 L72.04,180.94 L72.54,180.91 L73.04,180.89 L73.54,180.87 L74.04,180.84 L74.55,180.82 L75.05,180.8 L75.55,180.77 L76.05,180.75 L76.55,180.73 L77.05,180.71 L77.56,180.68 L78.06,180.66 L78.56,180.64 L79.06,180.62 L79.56,180.6 L80.06,180.58 L80.56,180.56 L81.07,180.53 L81.57,180.51 L82.07,180.49 L82.57,180.46 L83.07,180.44 L83.57,180.42 L84.07,180.39 L84.58,180.36 L85.08,180.34 L85.58,180.31 L86.08,180.28 L86.58,180.25 L87.08,180.22 L87.58,180.18 L88.09,180.15 L88.59,180.11 L89.09,180.07 L89.59,180.03 L90.09,179.99 L90.59,179.95 L91.09,179.9 L91.6,179.86 L92.1,179.81 L92.6,179.75 L93.1,179.7 L93.6,179.64 L94.1,179.58 L94.6,179.52 L95.11,179.46 L95.61,179.39 L96.11,179.32 L96.61,179.25 L97.11,179.18 L97.61,179.1 L98.11,179.02 L98.62,178.94 L99.12,178.85 L99.62,178.77 L100.12,178.68 L100.62,178.57 L101.12,178.46 L101.62,178.33 L102.13,178.19 L102.63,178.04 L103.13,177.88 L103.63,177.73 L104.13,177.57 L104.63,177.41 L105.13,177.26 L105.64,177.11 L106.14,176.95 L106.64,176.79 L107.14,176.63 L107.64,176.47 L108.14,176.31 L108.64,176.15 L109.15,175.98 L109.65,175.82 L110.15,175.65 L110.65,175.49 L111.15,175.33 L111.65,175.16 L112.16,175 L112.66,174.84 L113.16,174.67 L113.66,174.49 L114.16,174.32 L114.66,174.13 L115.16,173.94 L115.67,173.73 L116.17,173.52 L116.67,173.31 L117.17,173.09 L117.67,172.86 L118.17,172.63 L118.67,172.4 L119.18,172.17 L119.68,171.95 L120.18,171.72 L120.68,171.5 L121.18,171.28 L121.68,171.06 L122.18,170.84 L122.69,170.61 L123.19,170.39 L123.69,170.15 L124.19,169.91 L124.69,169.66 L125.19,169.4 L125.69,169.13 L126.2,168.85 L126.7,168.54 L127.2,168.21 L127.7,167.84 L128.2,167.42 L128.7,166.87 L129.2,166.24 L129.71,165.61 L130.21,165.07 L130.71,164.69 L131.21,164.57 L131.71,164.85 L132.21,165.49 L132.71,166.44 L133.22,167.67 L133.72,169.07 L134.22,170.5 L134.72,171.84 L135.22,172.98 L135.72,174.05 L136.22,175.06 L136.73,176.02 L137.23,176.9 L137.73,177.7 L138.23,178.42 L138.73,179.06 L139.23,179.62 L139.73,180.11 L140.24,180.52 L140.74,180.86 L141.24,181.11 L141.74,181.3 L142.24,181.42 L142.74,181.51 L143.24,181.55 L143.75,181.58 L144.25,181.59 L144.75,181.59 L145.25,181.61 L145.75,181.62 L146.25,181.64 L146.76,181.65 L147.26,181.66 L147.76,181.67 L148.26,181.68 L148.76,181.68 L149.26,181.69 L149.76,181.7 L150.27,181.7 L150.77,181.7 L151.27,181.71 L151.77,181.71 L152.27,181.71 L152.77,181.71 L153.27,181.71 L153.78,181.71 L154.28,181.71 L154.78,181.71 L155.28,181.71 L155.78,181.7 L156.28,181.7 L156.78,181.7 L157.29,181.7 L157.79,181.7 L158.29,181.7 L158.79,181.7 L159.29,181.69 L159.79,181.69 L160.29,181.69 L160.8,181.69 L161.3,181.7 L161.8,181.7 L162.3,181.7" fill="none" stroke="#e81414" stroke-width="1.2" stroke-linejoin="round" stroke-linecap="round"/>
<line x1="58.5" y1="181.8" x2="162.3" y2="181.8" stroke="#ee1111" stroke-width="1.6"/>
<path d="M58.5,181.15 L59,181.13 L59.5,181.11 L60,181.09 L60.51,181.07 L61.01,181.05 L61.51,181.02 L62.01,181 L62.51,180.98 L63.01,180.96 L63.51,180.94 L64.02,180.92 L64.52,180.9 L65.02,180.88 L65.52,180.86 L66.02,180.84 L66.52,180.82 L67.02,180.8 L67.53,180.78 L68.03,180.76 L68.53,180.74 L69.03,180.72 L69.53,180.69 L70.03,180.67 L70.53,180.65 L71.04,180.63 L71.54,180.61 L72.04,180.59 L72.54,180.56 L73.04,180.54 L73.54,180.52 L74.04,180.49 L74.55,180.47 L75.05,180.45 L75.55,180.42 L76.05,180.4 L76.55,180.38 L77.05,180.36 L77.56,180.33 L78.06,180.31 L78.56,180.29 L79.06,180.27 L79.56,180.25 L80.06,180.23 L80.56,180.21 L81.07,180.18 L81.57,180.16 L82.07,180.14 L82.57,180.11 L83.07,180.09 L83.57,180.07 L84.07,180.04 L84.58,180.01 L85.08,179.99 L85.58,179.96 L86.08,179.93 L86.58,179.9 L87.08,179.87 L87.58,179.83 L88.09,179.8 L88.59,179.76 L89.09,179.72 L89.59,179.68 L90.09,179.64 L90.59,179.6 L91.09,179.55 L91.6,179.51 L92.1,179.46 L92.6,179.4 L93.1,179.35 L93.6,179.29 L94.1,179.23 L94.6,179.17 L95.11,179.11 L95.61,179.04 L96.11,178.97 L96.61,178.9 L97.11,178.83 L97.61,178.75 L98.11,178.67 L98.62,178.59 L99.12,178.5 L99.62,178.42 L100.12,178.33 L100.62,178.22 L101.12,178.11 L101.62,177.98 L102.13,177.84 L102.63,177.69 L103.13,177.53 L103.63,177.38 L104.13,177.22 L104.63,177.06 L105.13,176.91 L105.64,176.76 L106.14,176.6 L106.64,176.44 L107.14,176.28 L107.64,176.12 L108.14,175.96 L108.64,175.8 L109.15,175.63 L109.65,175.47 L110.15,175.3 L110.65,175.14 L111.15,174.98 L111.65,174.81 L112.16,174.65 L112.66,174.49 L113.16,174.32 L113.66,174.14 L114.16,173.97 L114.66,173.78 L115.16,173.59 L115.67,173.38 L116.17,173.17 L116.67,172.96 L117.17,172.74 L117.67,172.51 L118.17,172.28 L118.67,172.05 L119.18,171.82 L119.68,171.6 L120.18,171.37 L120.68,171.15 L121.18,170.93 L121.68,170.71 L122.18,170.49 L122.69,170.26 L123.19,170.04 L123.69,169.8 L124.19,169.56 L124.69,169.31 L125.19,169.05 L125.69,168.78 L126.2,168.5 L126.7,168.19 L127.2,167.86 L127.7,167.49 L128.2,167.07 L128.7,166.52 L129.2,165.89 L129.71,165.26 L130.21,164.72 L130.71,164.34 L131.21,164.22 L131.71,164.5 L132.21,165.14 L132.71,166.09 L133.22,167.32 L133.72,168.72 L134.22,170.15 L134.72,171.49 L135.22,172.63 L135.72,173.7 L136.22,174.71 L136.73,175.67 L137.23,176.55 L137.73,177.35 L138.23,178.07 L138.73,178.71 L139.23,179.27 L139.73,179.76 L140.24,180.17 L140.74,180.51 L141.24,180.76 L141.74,180.95 L142.24,181.07 L142.74,181.16 L143.24,181.2 L143.75,181.23 L144.25,181.24 L144.75,181.24 L145.25,181.26 L145.75,181.27 L146.25,181.29 L146.76,181.3 L147.26,181.31 L147.76,181.32 L148.26,181.33 L148.76,181.33 L149.26,181.34 L149.76,181.35 L150.27,181.35 L150.77,181.35 L151.27,181.36 L151.77,181.36 L152.27,181.36 L152.77,181.36 L153.27,181.36 L153.78,181.36 L154.28,181.36 L154.78,181.36 L155.28,181.36 L155.78,181.35 L156.28,181.35 L156.78,181.35 L157.29,181.35 L157.79,181.35 L158.29,181.35 L158.79,181.35 L159.29,181.34 L159.79,181.34 L160.29,181.34 L160.8,181.34 L161.3,181.35 L161.8,181.35 L162.3,181.35" fill="none" stroke="#3a0a0a" stroke-width="0.5" stroke-opacity="0.7"/>
<g fill="#222"><circle cx="59.3" cy="181.07" r="0.55"/><circle cx="61.9" cy="180.9" r="0.55"/><circle cx="64.5" cy="180.72" r="0.55"/><circle cx="67.1" cy="181.47" r="0.55"/><circle cx="69.7" cy="180.59" r="0.55"/><circle cx="72.3" cy="180.62" r="0.55"/><circle cx="74.9" cy="180.67" r="0.55"/><circle cx="77.5" cy="181.13" r="0.55"/><circle cx="80.1" cy="180.07" r="0.55"/><circle cx="82.7" cy="180.4" r="0.55"/><circle cx="85.3" cy="180.38" r="0.55"/><circle cx="87.9" cy="180.62" r="0.55"/><circle cx="90.5" cy="180.34" r="0.55"/><circle cx="93.1" cy="180.13" r="0.55"/><circle cx="95.7" cy="179.11" r="0.55"/><circle cx="98.3" cy="178.89" r="0.55"/><circle cx="100.9" cy="178.34" r="0.55"/><circle cx="103.5" cy="178.23" r="0.55"/><circle cx="106.1" cy="177.51" r="0.55"/><circle cx="108.7" cy="175.71" r="0.55"/><circle cx="111.3" cy="174.89" r="0.55"/><circle cx="113.9" cy="174.09" r="0.55"/><circle cx="116.5" cy="173.06" r="0.55"/><circle cx="119.1" cy="172.19" r="0.55"/><circle cx="121.7" cy="171.16" r="0.55"/><circle cx="124.3" cy="169.57" r="0.55"/><circle cx="126.9" cy="167.82" r="0.55"/><circle cx="129.5" cy="165.77" r="0.55"/><circle cx="132.1" cy="165.16" r="0.55"/><circle cx="134.7" cy="171.87" r="0.55"/><circle cx="137.3" cy="177.56" r="0.55"/><circle cx="139.9" cy="180.49" r="0.55"/><circle cx="142.5" cy="181.49" r="0.55"/><circle cx="145.1" cy="181.74" r="0.55"/><circle cx="147.7" cy="181.88" r="0.55"/><circle cx="150.3" cy="181.16" r="0.55"/><circle cx="152.9" cy="182.19" r="0.55"/><circle cx="155.5" cy="182.04" r="0.55"/><circle cx="158.1" cy="182.15" r="0.55"/><circle cx="160.7" cy="182.05" r="0.55"/></g>
</g>
<rect x="58.5" y="130.4" width="103.8" height="54.5" fill="none" stroke="#6f6f6f" stroke-width="1"/>
<line x1="56.5" y1="181.8" x2="58.5" y2="181.8" stroke="#333" stroke-width="0.7"/>
<text x="55" y="183.9" text-anchor="end" font-family="DejaVu Sans, Liberation Sans, sans-serif" font-size="5.7" fill="#2a2a2a" stroke="#2a2a2a" stroke-width="0.18" textLength="2.7" lengthAdjust="spacingAndGlyphs">0</text>
<line x1="56.5" y1="156.5" x2="58.5" y2="156.5" stroke="#333" stroke-width="0.7"/>
<text x="55" y="158.6" text-anchor="end" font-family="DejaVu Sans, Liberation Sans, sans-serif" font-size="5.7" fill="#2a2a2a" stroke="#2a2a2a" stroke-width="0.18" textLength="11.8" lengthAdjust="spacingAndGlyphs">1000</text>
<line x1="56.5" y1="131.2" x2="58.5" y2="131.2" stroke="#333" stroke-width="0.7"/>
<text x="55" y="133.3" text-anchor="end" font-family="DejaVu Sans, Liberation Sans, sans-serif" font-size="5.7" fill="#2a2a2a" stroke="#2a2a2a" stroke-width="0.18" textLength="11.8" lengthAdjust="spacingAndGlyphs">2000</text>
<text x="152" y="149.6" text-anchor="middle" font-family="DejaVu Sans, Liberation Sans, sans-serif" font-size="5.8" fill="#333" stroke="#333" stroke-width="0.12" textLength="9.8" lengthAdjust="spacingAndGlyphs">00Si</text>
<line x1="58.5" y1="184.9" x2="58.5" y2="186.9" stroke="#333" stroke-width="0.7"/>
<text x="58.5" y="192.8" text-anchor="middle" font-family="DejaVu Sans, Liberation Sans, sans-serif" font-size="5.8" fill="#2a2a2a" stroke="#2a2a2a" stroke-width="0.15" textLength="8.8" lengthAdjust="spacingAndGlyphs">292</text>
<line x1="75.8" y1="184.9" x2="75.8" y2="186.9" stroke="#333" stroke-width="0.7"/>
<text x="75.8" y="192.8" text-anchor="middle" font-family="DejaVu Sans, Liberation Sans, sans-serif" font-size="5.8" fill="#2a2a2a" stroke="#2a2a2a" stroke-width="0.15" textLength="8.8" lengthAdjust="spacingAndGlyphs">290</text>
<line x1="93.1" y1="184.9" x2="93.1" y2="186.9" stroke="#333" stroke-width="0.7"/>
<text x="93.1" y="192.8" text-anchor="middle" font-family="DejaVu Sans, Liberation Sans, sans-serif" font-size="5.8" fill="#2a2a2a" stroke="#2a2a2a" stroke-width="0.15" textLength="8.8" lengthAdjust="spacingAndGlyphs">288</text>
<line x1="110.4" y1="184.9" x2="110.4" y2="186.9" stroke="#333" stroke-width="0.7"/>
<text x="110.4" y="192.8" text-anchor="middle" font-family="DejaVu Sans, Liberation Sans, sans-serif" font-size="5.8" fill="#2a2a2a" stroke="#2a2a2a" stroke-width="0.15" textLength="8.8" lengthAdjust="spacingAndGlyphs">286</text>
<line x1="127.7" y1="184.9" x2="127.7" y2="186.9" stroke="#333" stroke-width="0.7"/>
<text x="127.7" y="192.8" text-anchor="middle" font-family="DejaVu Sans, Liberation Sans, sans-serif" font-size="5.8" fill="#2a2a2a" stroke="#2a2a2a" stroke-width="0.15" textLength="8.8" lengthAdjust="spacingAndGlyphs">284</text>
<line x1="145.0" y1="184.9" x2="145.0" y2="186.9" stroke="#333" stroke-width="0.7"/>
<text x="145" y="192.8" text-anchor="middle" font-family="DejaVu Sans, Liberation Sans, sans-serif" font-size="5.8" fill="#2a2a2a" stroke="#2a2a2a" stroke-width="0.15" textLength="8.8" lengthAdjust="spacingAndGlyphs">282</text>
<line x1="162.3" y1="184.9" x2="162.3" y2="186.9" stroke="#333" stroke-width="0.7"/>
<text x="157.4" y="192.8" text-anchor="start" font-family="DejaVu Sans, Liberation Sans, sans-serif" font-size="5.8" fill="#2a2a2a" stroke="#2a2a2a" stroke-width="0.15" textLength="6.0" lengthAdjust="spacingAndGlyphs">28</text>
<text x="110.4" y="199.5" text-anchor="middle" font-family="DejaVu Sans, Liberation Sans, sans-serif" font-size="5.6" fill="#222" stroke="#222" stroke-width="0.1" textLength="47" lengthAdjust="spacingAndGlyphs">Binding Energy(eV)</text>
<text x="230.1" y="17.8" text-anchor="middle" font-family="DejaVu Sans, Liberation Sans, sans-serif" font-size="8.0" fill="#1a1a1a" stroke="#1a1a1a" stroke-width="0.2" textLength="13.9" lengthAdjust="spacingAndGlyphs">O1s</text>
<g clip-path="url(#clip10)">
<path d="M204.05,72 L204.05,71.94 L204.55,71.93 L205.05,71.92 L205.55,71.9 L206.05,71.89 L206.55,71.86 L207.05,71.84 L207.55,71.81 L208.05,71.78 L208.55,71.74 L209.06,71.7 L209.56,71.65 L210.06,71.59 L210.56,71.53 L211.06,71.45 L211.56,71.37 L212.06,71.28 L212.56,71.17 L213.06,71.05 L213.56,70.92 L214.07,70.77 L214.57,70.61 L215.07,70.43 L215.57,70.23 L216.07,70.01 L216.57,69.77 L217.07,69.51 L217.57,69.23 L218.07,68.92 L218.57,68.59 L219.07,68.23 L219.58,67.84 L220.08,67.43 L220.58,67 L221.08,66.53 L221.58,66.04 L222.08,65.53 L222.58,64.99 L223.08,64.42 L223.58,63.83 L224.08,63.22 L224.59,62.59 L225.09,61.95 L225.59,61.29 L226.09,60.61 L226.59,59.93 L227.09,59.25 L227.59,58.56 L228.09,57.87 L228.59,57.2 L229.09,56.53 L229.6,55.87 L230.1,55.24 L230.6,54.63 L231.1,54.04 L231.6,53.49 L232.1,52.98 L232.6,52.5 L233.1,52.07 L233.6,51.68 L234.1,51.35 L234.6,51.07 L235.11,50.84 L235.61,50.67 L236.11,50.56 L236.61,50.5 L237.11,50.51 L237.61,50.59 L238.11,50.74 L238.61,50.96 L239.11,51.25 L239.61,51.6 L240.12,52.01 L240.62,52.47 L241.12,52.99 L241.62,53.56 L242.12,54.17 L242.62,54.81 L243.12,55.49 L243.62,56.19 L244.12,56.91 L244.62,57.65 L245.13,58.4 L245.63,59.15 L246.13,59.9 L246.63,60.64 L247.13,61.37 L247.63,62.09 L248.13,62.79 L248.63,63.47 L249.13,64.13 L249.63,64.76 L250.13,65.36 L250.64,65.93 L251.14,66.47 L251.64,66.98 L252.14,67.46 L252.64,67.9 L253.14,68.32 L253.64,68.7 L254.14,69.05 L254.64,69.38 L255.14,69.67 L255.65,69.94 L256.15,70.19 L256.65,70.41 L257.15,70.61 L257.65,70.78 L258.15,70.94 L258.65,71.08 L259.15,71.21 L259.65,71.32 L260.15,71.41 L260.66,71.5 L261.16,71.57 L261.66,71.64 L262.16,71.69 L262.66,71.74 L263.16,71.78 L263.66,71.82 L264.16,71.85 L264.66,71.87 L265.16,71.89 L265.67,71.91 L266.17,71.93 L266.67,71.94 L266.67,72 Z" fill="#fdd7a0" fill-opacity="1" stroke="#fdd7a0" stroke-width="0.4"/>
<path d="M189.52,72 L189.52,71.95 L190.02,71.94 L190.52,71.93 L191.02,71.91 L191.52,71.9 L192.02,71.88 L192.52,71.86 L193.02,71.83 L193.53,71.8 L194.03,71.77 L194.53,71.73 L195.03,71.69 L195.53,71.64 L196.03,71.59 L196.53,71.53 L197.03,71.45 L197.53,71.37 L198.03,71.28 L198.53,71.18 L199.04,71.07 L199.54,70.94 L200.04,70.81 L200.54,70.65 L201.04,70.48 L201.54,70.29 L202.04,70.08 L202.54,69.86 L203.04,69.61 L203.54,69.34 L204.05,69.05 L204.55,68.73 L205.05,68.39 L205.55,68.03 L206.05,67.63 L206.55,67.21 L207.05,66.77 L207.55,66.29 L208.05,65.79 L208.55,65.27 L209.06,64.71 L209.56,64.13 L210.06,63.52 L210.56,62.9 L211.06,62.24 L211.56,61.57 L212.06,60.88 L212.56,60.18 L213.06,59.46 L213.56,58.73 L214.07,57.99 L214.57,57.25 L215.07,56.51 L215.57,55.77 L216.07,55.04 L216.57,54.32 L217.07,53.62 L217.57,52.94 L218.07,52.28 L218.57,51.65 L219.07,51.05 L219.58,50.49 L220.08,49.97 L220.58,49.5 L221.08,49.07 L221.58,48.69 L222.08,48.36 L222.58,48.09 L223.08,47.88 L223.58,47.73 L224.08,47.63 L224.59,47.6 L225.09,47.64 L225.59,47.78 L226.09,48 L226.59,48.31 L227.09,48.7 L227.59,49.17 L228.09,49.72 L228.59,50.33 L229.09,51 L229.6,51.73 L230.1,52.51 L230.6,53.33 L231.1,54.18 L231.6,55.05 L232.1,55.94 L232.6,56.84 L233.1,57.75 L233.6,58.65 L234.1,59.53 L234.6,60.41 L235.11,61.26 L235.61,62.09 L236.11,62.89 L236.61,63.65 L237.11,64.38 L237.61,65.07 L238.11,65.72 L238.61,66.33 L239.11,66.91 L239.61,67.44 L240.12,67.93 L240.62,68.38 L241.12,68.79 L241.62,69.17 L242.12,69.51 L242.62,69.82 L243.12,70.1 L243.62,70.34 L244.12,70.57 L244.62,70.76 L245.13,70.94 L245.63,71.09 L246.13,71.22 L246.63,71.34 L247.13,71.44 L247.63,71.53 L248.13,71.6 L248.63,71.67 L249.13,71.72 L249.63,71.77 L250.13,71.81 L250.64,71.84 L251.14,71.87 L251.64,71.89 L252.14,71.91 L252.64,71.93 L253.14,71.94 L253.14,72 Z" fill="#f79d52" fill-opacity="0.97" stroke="#f79d52" stroke-width="0.4"/>
<path d="M194.53,72 L194.53,71.95 L195.03,71.94 L195.53,71.94 L196.03,71.93 L196.53,71.93 L197.03,71.92 L197.53,71.92 L198.03,71.91 L198.53,71.9 L199.04,71.89 L199.54,71.89 L200.04,71.88 L200.54,71.87 L201.04,71.86 L201.54,71.85 L202.04,71.84 L202.54,71.83 L203.04,71.82 L203.54,71.8 L204.05,71.79 L204.55,71.78 L205.05,71.77 L205.55,71.75 L206.05,71.74 L206.55,71.72 L207.05,71.71 L207.55,71.69 L208.05,71.67 L208.55,71.66 L209.06,71.64 L209.56,71.62 L210.06,71.6 L210.56,71.59 L211.06,71.57 L211.56,71.55 L212.06,71.53 L212.56,71.51 L213.06,71.49 L213.56,71.47 L214.07,71.45 L214.57,71.43 L215.07,71.41 L215.57,71.39 L216.07,71.37 L216.57,71.36 L217.07,71.34 L217.57,71.32 L218.07,71.3 L218.57,71.28 L219.07,71.27 L219.58,71.25 L220.08,71.23 L220.58,71.22 L221.08,71.2 L221.58,71.19 L222.08,71.18 L222.58,71.16 L223.08,71.15 L223.58,71.14 L224.08,71.13 L224.59,71.13 L225.09,71.12 L225.59,71.11 L226.09,71.11 L226.59,71.1 L227.09,71.1 L227.59,71.1 L228.09,71.1 L228.59,71.1 L229.09,71.1 L229.6,71.11 L230.1,71.11 L230.6,71.12 L231.1,71.12 L231.6,71.13 L232.1,71.14 L232.6,71.15 L233.1,71.16 L233.6,71.17 L234.1,71.18 L234.6,71.19 L235.11,71.21 L235.61,71.22 L236.11,71.24 L236.61,71.26 L237.11,71.27 L237.61,71.29 L238.11,71.31 L238.61,71.32 L239.11,71.34 L239.61,71.36 L240.12,71.38 L240.62,71.4 L241.12,71.42 L241.62,71.44 L242.12,71.46 L242.62,71.48 L243.12,71.5 L243.62,71.52 L244.12,71.54 L244.62,71.56 L245.13,71.57 L245.63,71.59 L246.13,71.61 L246.63,71.63 L247.13,71.65 L247.63,71.66 L248.13,71.68 L248.63,71.7 L249.13,71.71 L249.63,71.73 L250.13,71.74 L250.64,71.76 L251.14,71.77 L251.64,71.78 L252.14,71.8 L252.64,71.81 L253.14,71.82 L253.64,71.83 L254.14,71.84 L254.64,71.85 L255.14,71.86 L255.65,71.87 L256.15,71.88 L256.65,71.89 L257.15,71.9 L257.65,71.9 L258.15,71.91 L258.65,71.92 L259.15,71.92 L259.65,71.93 L260.15,71.94 L260.66,71.94 L261.16,71.95 L261.66,71.95 L261.66,72 Z" fill="#9a9a20" fill-opacity="1" stroke="#9a9a20" stroke-width="0.4"/>
<path d="M209.06,71.7 L209.56,71.65 L210.06,71.59 L210.56,71.53 L211.06,71.45 L211.56,71.37 L212.06,71.28 L212.56,71.17 L213.06,71.05 L213.56,70.92 L214.07,70.77 L214.57,70.61 L215.07,70.43 L215.57,70.23 L216.07,70.01 L216.57,69.77 L217.07,69.51 L217.57,69.23 L218.07,68.92 L218.57,68.59 L219.07,68.23 L219.58,67.84 L220.08,67.43 L220.58,67 L221.08,66.53 L221.58,66.04 L222.08,65.53 L222.58,64.99 L223.08,64.42 L223.58,63.83 L224.08,63.22 L224.59,62.59 L225.09,61.95 L225.59,61.29 L226.09,60.61 L226.59,59.93 L227.09,59.25 L227.59,58.56 L228.09,57.87 L228.59,57.2 L229.09,56.53 L229.6,55.87 L230.1,55.24 L230.6,54.63 L231.1,54.04 L231.6,53.49 L232.1,52.98 L232.6,52.5 L233.1,52.07 L233.6,51.68 L234.1,51.35 L234.6,51.07 L235.11,50.84 L235.61,50.67 L236.11,50.56 L236.61,50.5 L237.11,50.51 L237.61,50.59 L238.11,50.74 L238.61,50.96 L239.11,51.25 L239.61,51.6 L240.12,52.01 L240.62,52.47 L241.12,52.99 L241.62,53.56 L242.12,54.17 L242.62,54.81 L243.12,55.49 L243.62,56.19 L244.12,56.91 L244.62,57.65 L245.13,58.4 L245.63,59.15 L246.13,59.9 L246.63,60.64 L247.13,61.37 L247.63,62.09 L248.13,62.79 L248.63,63.47 L249.13,64.13 L249.63,64.76 L250.13,65.36 L250.64,65.93 L251.14,66.47 L251.64,66.98 L252.14,67.46 L252.64,67.9 L253.14,68.32 L253.64,68.7 L254.14,69.05 L254.64,69.38 L255.14,69.67 L255.65,69.94 L256.15,70.19 L256.65,70.41 L257.15,70.61 L257.65,70.78 L258.15,70.94 L258.65,71.08 L259.15,71.21 L259.65,71.32 L260.15,71.41 L260.66,71.5 L261.16,71.57 L261.66,71.64 L262.16,71.69" fill="none" stroke="#fde0b8" stroke-width="0.7" stroke-opacity="0.9"/>
<path d="M198.03,71.19 L198.53,71.08 L199.04,70.96 L199.54,70.82 L200.04,70.67 L200.54,70.5 L201.04,70.32 L201.54,70.12 L202.04,69.9 L202.54,69.65 L203.04,69.39 L203.54,69.1 L204.05,68.78 L204.55,68.44 L205.05,68.08 L205.55,67.68 L206.05,67.26 L206.55,66.8 L207.05,66.31 L207.55,65.8 L208.05,65.25 L208.55,64.66 L209.06,64.05 L209.56,63.4 L210.06,62.72 L210.56,62.01 L211.06,61.26 L211.56,60.49 L212.06,59.69 L212.56,58.86 L213.06,58 L213.56,57.12 L214.07,56.22 L214.57,55.29 L215.07,54.35 L215.57,53.4 L216.07,52.43 L216.57,51.45 L217.07,50.47 L217.57,49.49 L218.07,48.5 L218.57,47.52 L219.07,46.55 L219.58,45.59 L220.08,44.64 L220.58,43.71 L221.08,42.8 L221.58,41.92 L222.08,41.07 L222.58,40.24 L223.08,39.45 L223.58,38.7 L224.08,37.99 L224.59,37.32 L225.09,36.71 L225.59,36.18 L226.09,35.72 L226.59,35.35 L227.09,35.05 L227.59,34.83 L228.09,34.69 L228.59,34.62 L229.09,34.63 L229.6,34.71 L230.1,34.86 L230.6,35.07 L231.1,35.34 L231.6,35.67 L232.1,36.05 L232.6,36.49 L233.1,36.97 L233.6,37.5 L234.1,38.07 L234.6,38.67 L235.11,39.31 L235.61,39.98 L236.11,40.68 L236.61,41.41 L237.11,42.16 L237.61,42.95 L238.11,43.77 L238.61,44.62 L239.11,45.5 L239.61,46.39 L240.12,47.31 L240.62,48.25 L241.12,49.2 L241.62,50.16 L242.12,51.13 L242.62,52.11 L243.12,53.08 L243.62,54.05 L244.12,55.02 L244.62,55.97 L245.13,56.91 L245.63,57.83 L246.13,58.73 L246.63,59.61 L247.13,60.46 L247.63,61.28 L248.13,62.08 L248.63,62.84 L249.13,63.56 L249.63,64.25 L250.13,64.91 L250.64,65.53 L251.14,66.11 L251.64,66.66 L252.14,67.17 L252.64,67.64 L253.14,68.08 L253.64,68.48 L254.14,68.86 L254.64,69.2 L255.14,69.51 L255.65,69.79 L256.15,70.05 L256.65,70.28 L257.15,70.49 L257.65,70.68 L258.15,70.85 L258.65,71 L259.15,71.13" fill="none" stroke="#e81414" stroke-width="1.15" stroke-linejoin="round" stroke-linecap="round"/>
<line x1="180.5" y1="72" x2="283.7" y2="72" stroke="#f29a48" stroke-width="1.6"/>
<g fill="#333"><circle cx="181.3" cy="71.87" r="0.55"/><circle cx="183.9" cy="71.87" r="0.55"/><circle cx="186.5" cy="71.5" r="0.55"/><circle cx="189.1" cy="72.1" r="0.55"/><circle cx="191.7" cy="71.33" r="0.55"/><circle cx="194.3" cy="71.18" r="0.55"/><circle cx="196.9" cy="71.04" r="0.55"/><circle cx="199.5" cy="70.43" r="0.55"/><circle cx="202.1" cy="69.68" r="0.55"/><circle cx="204.7" cy="67.8" r="0.55"/><circle cx="207.3" cy="65.46" r="0.55"/><circle cx="209.9" cy="62.52" r="0.55"/><circle cx="212.5" cy="58.48" r="0.55"/><circle cx="215.1" cy="54.13" r="0.55"/><circle cx="217.7" cy="48.66" r="0.55"/><circle cx="220.3" cy="44.67" r="0.55"/><circle cx="222.9" cy="39.87" r="0.55"/><circle cx="225.5" cy="35.84" r="0.55"/><circle cx="228.1" cy="34.39" r="0.55"/><circle cx="230.7" cy="34.94" r="0.55"/><circle cx="233.3" cy="37.01" r="0.55"/><circle cx="235.9" cy="39.94" r="0.55"/><circle cx="238.5" cy="44.85" r="0.55"/><circle cx="241.1" cy="49.76" r="0.55"/><circle cx="243.7" cy="54.16" r="0.55"/><circle cx="246.3" cy="59.02" r="0.55"/><circle cx="248.9" cy="62.73" r="0.55"/><circle cx="251.5" cy="66.03" r="0.55"/><circle cx="254.1" cy="68.64" r="0.55"/><circle cx="256.7" cy="70.02" r="0.55"/><circle cx="259.3" cy="71.56" r="0.55"/><circle cx="261.9" cy="71.21" r="0.55"/><circle cx="264.5" cy="71.26" r="0.55"/><circle cx="267.1" cy="72.47" r="0.55"/><circle cx="269.7" cy="72.01" r="0.55"/><circle cx="272.3" cy="71.56" r="0.55"/><circle cx="274.9" cy="72.05" r="0.55"/><circle cx="277.5" cy="71.43" r="0.55"/><circle cx="280.1" cy="72.03" r="0.55"/><circle cx="282.7" cy="72.57" r="0.55"/></g>
</g>
<rect x="180.5" y="21.0" width="103.2" height="54.4" fill="none" stroke="#6f6f6f" stroke-width="1"/>
<line x1="178.5" y1="72" x2="180.5" y2="72" stroke="#333" stroke-width="0.7"/>
<text x="177" y="74.1" text-anchor="end" font-family="DejaVu Sans, Liberation Sans, sans-serif" font-size="5.7" fill="#2a2a2a" stroke="#2a2a2a" stroke-width="0.18" textLength="2.7" lengthAdjust="spacingAndGlyphs">0</text>
<line x1="178.5" y1="36" x2="180.5" y2="36" stroke="#333" stroke-width="0.7"/>
<text x="177" y="38.1" text-anchor="end" font-family="DejaVu Sans, Liberation Sans, sans-serif" font-size="5.7" fill="#2a2a2a" stroke="#2a2a2a" stroke-width="0.18" textLength="11.8" lengthAdjust="spacingAndGlyphs">2000</text>
<text x="273.4" y="40.2" text-anchor="middle" font-family="DejaVu Sans, Liberation Sans, sans-serif" font-size="5.8" fill="#333" stroke="#333" stroke-width="0.12" textLength="9.8" lengthAdjust="spacingAndGlyphs">30Si</text>
<g clip-path="url(#clip11)">
<path d="M210.56,126.8 L210.56,126.74 L211.06,126.73 L211.56,126.71 L212.06,126.68 L212.56,126.65 L213.06,126.62 L213.56,126.57 L214.07,126.52 L214.57,126.46 L215.07,126.38 L215.57,126.29 L216.07,126.18 L216.57,126.06 L217.07,125.91 L217.57,125.73 L218.07,125.53 L218.57,125.29 L219.07,125.02 L219.58,124.7 L220.08,124.35 L220.58,123.94 L221.08,123.48 L221.58,122.96 L222.08,122.38 L222.58,121.74 L223.08,121.03 L223.58,120.25 L224.08,119.39 L224.59,118.46 L225.09,117.45 L225.59,116.37 L226.09,115.2 L226.59,113.97 L227.09,112.67 L227.59,111.3 L228.09,109.87 L228.59,108.39 L229.09,106.87 L229.6,105.32 L230.1,103.74 L230.6,102.16 L231.1,100.58 L231.6,99.02 L232.1,97.5 L232.6,96.03 L233.1,94.63 L233.6,93.3 L234.1,92.08 L234.6,90.96 L235.11,89.97 L235.61,89.12 L236.11,88.41 L236.61,87.86 L237.11,87.47 L237.61,87.25 L238.11,87.2 L238.61,87.29 L239.11,87.48 L239.61,87.79 L240.12,88.21 L240.62,88.74 L241.12,89.36 L241.62,90.09 L242.12,90.9 L242.62,91.8 L243.12,92.77 L243.62,93.81 L244.12,94.92 L244.62,96.07 L245.13,97.27 L245.63,98.51 L246.13,99.77 L246.63,101.05 L247.13,102.34 L247.63,103.63 L248.13,104.92 L248.63,106.2 L249.13,107.46 L249.63,108.69 L250.13,109.9 L250.64,111.07 L251.14,112.2 L251.64,113.29 L252.14,114.33 L252.64,115.33 L253.14,116.28 L253.64,117.17 L254.14,118.02 L254.64,118.82 L255.14,119.56 L255.65,120.25 L256.15,120.9 L256.65,121.5 L257.15,122.05 L257.65,122.55 L258.15,123.01 L258.65,123.44 L259.15,123.82 L259.65,124.17 L260.15,124.48 L260.66,124.76 L261.16,125.02 L261.66,125.24 L262.16,125.44 L262.66,125.62 L263.16,125.78 L263.66,125.92 L264.16,126.04 L264.66,126.15 L265.16,126.24 L265.67,126.33 L266.17,126.4 L266.67,126.46 L267.17,126.51 L267.67,126.56 L268.17,126.59 L268.67,126.63 L269.17,126.66 L269.67,126.68 L270.17,126.7 L270.67,126.72 L271.18,126.73 L271.68,126.74 L271.68,126.8 Z" fill="#fdd7a0" fill-opacity="1" stroke="#fdd7a0" stroke-width="0.4"/>
<path d="M188.52,126.8 L188.52,126.74 L189.02,126.73 L189.52,126.72 L190.02,126.71 L190.52,126.69 L191.02,126.67 L191.52,126.65 L192.02,126.63 L192.52,126.6 L193.02,126.57 L193.53,126.53 L194.03,126.49 L194.53,126.44 L195.03,126.39 L195.53,126.33 L196.03,126.27 L196.53,126.2 L197.03,126.11 L197.53,126.02 L198.03,125.92 L198.53,125.81 L199.04,125.69 L199.54,125.56 L200.04,125.42 L200.54,125.26 L201.04,125.09 L201.54,124.9 L202.04,124.71 L202.54,124.49 L203.04,124.27 L203.54,124.02 L204.05,123.76 L204.55,123.49 L205.05,123.2 L205.55,122.9 L206.05,122.58 L206.55,122.25 L207.05,121.9 L207.55,121.55 L208.05,121.18 L208.55,120.8 L209.06,120.42 L209.56,120.03 L210.06,119.63 L210.56,119.23 L211.06,118.83 L211.56,118.43 L212.06,118.03 L212.56,117.64 L213.06,117.26 L213.56,116.89 L214.07,116.53 L214.57,116.18 L215.07,115.86 L215.57,115.55 L216.07,115.27 L216.57,115.01 L217.07,114.78 L217.57,114.57 L218.07,114.39 L218.57,114.25 L219.07,114.14 L219.58,114.06 L220.08,114.01 L220.58,114 L221.08,114.03 L221.58,114.09 L222.08,114.2 L222.58,114.34 L223.08,114.52 L223.58,114.73 L224.08,114.98 L224.59,115.25 L225.09,115.56 L225.59,115.89 L226.09,116.24 L226.59,116.62 L227.09,117.01 L227.59,117.42 L228.09,117.83 L228.59,118.26 L229.09,118.69 L229.6,119.12 L230.1,119.55 L230.6,119.98 L231.1,120.4 L231.6,120.82 L232.1,121.22 L232.6,121.62 L233.1,122 L233.6,122.36 L234.1,122.72 L234.6,123.05 L235.11,123.37 L235.61,123.67 L236.11,123.95 L236.61,124.22 L237.11,124.47 L237.61,124.7 L238.11,124.91 L238.61,125.11 L239.11,125.29 L239.61,125.46 L240.12,125.61 L240.62,125.75 L241.12,125.87 L241.62,125.98 L242.12,126.09 L242.62,126.18 L243.12,126.26 L243.62,126.33 L244.12,126.39 L244.62,126.45 L245.13,126.5 L245.63,126.54 L246.13,126.58 L246.63,126.61 L247.13,126.64 L247.63,126.66 L248.13,126.69 L248.63,126.7 L249.13,126.72 L249.63,126.73 L250.13,126.74 L250.13,126.8 Z" fill="#f79d52" fill-opacity="0.97" stroke="#f79d52" stroke-width="0.4"/>
<path d="M196.53,126.8 L196.53,126.75 L197.03,126.74 L197.53,126.74 L198.03,126.74 L198.53,126.73 L199.04,126.73 L199.54,126.72 L200.04,126.72 L200.54,126.71 L201.04,126.71 L201.54,126.7 L202.04,126.7 L202.54,126.69 L203.04,126.68 L203.54,126.68 L204.05,126.67 L204.55,126.66 L205.05,126.65 L205.55,126.65 L206.05,126.64 L206.55,126.63 L207.05,126.62 L207.55,126.61 L208.05,126.6 L208.55,126.59 L209.06,126.59 L209.56,126.58 L210.06,126.57 L210.56,126.56 L211.06,126.55 L211.56,126.53 L212.06,126.52 L212.56,126.51 L213.06,126.5 L213.56,126.49 L214.07,126.48 L214.57,126.47 L215.07,126.46 L215.57,126.45 L216.07,126.43 L216.57,126.42 L217.07,126.41 L217.57,126.4 L218.07,126.39 L218.57,126.38 L219.07,126.37 L219.58,126.36 L220.08,126.35 L220.58,126.33 L221.08,126.32 L221.58,126.31 L222.08,126.3 L222.58,126.3 L223.08,126.29 L223.58,126.28 L224.08,126.27 L224.59,126.26 L225.09,126.25 L225.59,126.25 L226.09,126.24 L226.59,126.23 L227.09,126.23 L227.59,126.22 L228.09,126.22 L228.59,126.21 L229.09,126.21 L229.6,126.21 L230.1,126.2 L230.6,126.2 L231.1,126.2 L231.6,126.2 L232.1,126.2 L232.6,126.2 L233.1,126.2 L233.6,126.2 L234.1,126.21 L234.6,126.21 L235.11,126.21 L235.61,126.22 L236.11,126.22 L236.61,126.22 L237.11,126.23 L237.61,126.24 L238.11,126.24 L238.61,126.25 L239.11,126.26 L239.61,126.26 L240.12,126.27 L240.62,126.28 L241.12,126.29 L241.62,126.3 L242.12,126.31 L242.62,126.32 L243.12,126.33 L243.62,126.34 L244.12,126.35 L244.62,126.36 L245.13,126.37 L245.63,126.38 L246.13,126.39 L246.63,126.4 L247.13,126.42 L247.63,126.43 L248.13,126.44 L248.63,126.45 L249.13,126.46 L249.63,126.47 L250.13,126.48 L250.64,126.5 L251.14,126.51 L251.64,126.52 L252.14,126.53 L252.64,126.54 L253.14,126.55 L253.64,126.56 L254.14,126.57 L254.64,126.58 L255.14,126.59 L255.65,126.6 L256.15,126.61 L256.65,126.62 L257.15,126.63 L257.65,126.63 L258.15,126.64 L258.65,126.65 L259.15,126.66 L259.65,126.67 L260.15,126.67 L260.66,126.68 L261.16,126.69 L261.66,126.69 L262.16,126.7 L262.66,126.7 L263.16,126.71 L263.66,126.72 L264.16,126.72 L264.66,126.73 L265.16,126.73 L265.67,126.73 L266.17,126.74 L266.67,126.74 L267.17,126.75 L267.17,126.8 Z" fill="#9a9a20" fill-opacity="1" stroke="#9a9a20" stroke-width="0.4"/>
<path d="M214.57,126.46 L215.07,126.38 L215.57,126.29 L216.07,126.18 L216.57,126.06 L217.07,125.91 L217.57,125.73 L218.07,125.53 L218.57,125.29 L219.07,125.02 L219.58,124.7 L220.08,124.35 L220.58,123.94 L221.08,123.48 L221.58,122.96 L222.08,122.38 L222.58,121.74 L223.08,121.03 L223.58,120.25 L224.08,119.39 L224.59,118.46 L225.09,117.45 L225.59,116.37 L226.09,115.2 L226.59,113.97 L227.09,112.67 L227.59,111.3 L228.09,109.87 L228.59,108.39 L229.09,106.87 L229.6,105.32 L230.1,103.74 L230.6,102.16 L231.1,100.58 L231.6,99.02 L232.1,97.5 L232.6,96.03 L233.1,94.63 L233.6,93.3 L234.1,92.08 L234.6,90.96 L235.11,89.97 L235.61,89.12 L236.11,88.41 L236.61,87.86 L237.11,87.47 L237.61,87.25 L238.11,87.2 L238.61,87.29 L239.11,87.48 L239.61,87.79 L240.12,88.21 L240.62,88.74 L241.12,89.36 L241.62,90.09 L242.12,90.9 L242.62,91.8 L243.12,92.77 L243.62,93.81 L244.12,94.92 L244.62,96.07 L245.13,97.27 L245.63,98.51 L246.13,99.77 L246.63,101.05 L247.13,102.34 L247.63,103.63 L248.13,104.92 L248.63,106.2 L249.13,107.46 L249.63,108.69 L250.13,109.9 L250.64,111.07 L251.14,112.2 L251.64,113.29 L252.14,114.33 L252.64,115.33 L253.14,116.28 L253.64,117.17 L254.14,118.02 L254.64,118.82 L255.14,119.56 L255.65,120.25 L256.15,120.9 L256.65,121.5 L257.15,122.05 L257.65,122.55 L258.15,123.01 L258.65,123.44 L259.15,123.82 L259.65,124.17 L260.15,124.48 L260.66,124.76 L261.16,125.02 L261.66,125.24 L262.16,125.44 L262.66,125.62 L263.16,125.78 L263.66,125.92 L264.16,126.04 L264.66,126.15 L265.16,126.24 L265.67,126.33 L266.17,126.4 L266.67,126.46" fill="none" stroke="#fde0b8" stroke-width="0.7" stroke-opacity="0.9"/>
<path d="M197.53,125.97 L198.03,125.86 L198.53,125.75 L199.04,125.62 L199.54,125.48 L200.04,125.33 L200.54,125.17 L201.04,125 L201.54,124.81 L202.04,124.6 L202.54,124.38 L203.04,124.15 L203.54,123.9 L204.05,123.63 L204.55,123.35 L205.05,123.05 L205.55,122.74 L206.05,122.41 L206.55,122.07 L207.05,121.72 L207.55,121.35 L208.05,120.97 L208.55,120.58 L209.06,120.18 L209.56,119.77 L210.06,119.35 L210.56,118.93 L211.06,118.5 L211.56,118.07 L212.06,117.64 L212.56,117.21 L213.06,116.78 L213.56,116.35 L214.07,115.93 L214.57,115.51 L215.07,115.1 L215.57,114.69 L216.07,114.29 L216.57,113.89 L217.07,113.49 L217.57,113.1 L218.07,112.71 L218.57,112.32 L219.07,111.92 L219.58,111.52 L220.08,111.1 L220.58,110.67 L221.08,110.23 L221.58,109.77 L222.08,109.29 L222.58,108.78 L223.08,108.23 L223.58,107.66 L224.08,107.04 L224.59,106.37 L225.09,105.66 L225.59,104.9 L226.09,104.09 L226.59,103.22 L227.09,102.3 L227.59,101.34 L228.09,100.32 L228.59,99.26 L229.09,98.17 L229.6,97.04 L230.1,95.9 L230.6,94.74 L231.1,93.58 L231.6,92.44 L232.1,91.32 L232.6,90.25 L233.1,89.23 L233.6,88.27 L234.1,87.4 L234.6,86.62 L235.11,85.95 L235.61,85.4 L236.11,84.98 L236.61,84.7 L237.11,84.57 L237.61,84.59 L238.11,84.76 L238.61,85.05 L239.11,85.43 L239.61,85.91 L240.12,86.49 L240.62,87.16 L241.12,87.93 L241.62,88.77 L242.12,89.69 L242.62,90.69 L243.12,91.76 L243.62,92.88 L244.12,94.06 L244.62,95.28 L245.13,96.54 L245.63,97.83 L246.13,99.14 L246.63,100.47 L247.13,101.8 L247.63,103.13 L248.13,104.45 L248.63,105.75 L249.13,107.04 L249.63,108.3 L250.13,109.52 L250.64,110.71 L251.14,111.87 L251.64,112.97 L252.14,114.03 L252.64,115.05 L253.14,116.01 L253.64,116.92 L254.14,117.78 L254.64,118.59 L255.14,119.34 L255.65,120.05 L256.15,120.7 L256.65,121.31 L257.15,121.87 L257.65,122.38 L258.15,122.85 L258.65,123.28 L259.15,123.68 L259.65,124.03 L260.15,124.35 L260.66,124.64 L261.16,124.9 L261.66,125.13 L262.16,125.34 L262.66,125.53 L263.16,125.69 L263.66,125.84 L264.16,125.96" fill="none" stroke="#e81414" stroke-width="1.15" stroke-linejoin="round" stroke-linecap="round"/>
<line x1="180.5" y1="126.8" x2="283.7" y2="126.8" stroke="#f29a48" stroke-width="1.6"/>
<g fill="#333"><circle cx="181.3" cy="127.23" r="0.55"/><circle cx="183.9" cy="127.02" r="0.55"/><circle cx="186.5" cy="126.48" r="0.55"/><circle cx="189.1" cy="126.56" r="0.55"/><circle cx="191.7" cy="126.22" r="0.55"/><circle cx="194.3" cy="126.76" r="0.55"/><circle cx="196.9" cy="126.12" r="0.55"/><circle cx="199.5" cy="125.83" r="0.55"/><circle cx="202.1" cy="124.37" r="0.55"/><circle cx="204.7" cy="122.93" r="0.55"/><circle cx="207.3" cy="121.91" r="0.55"/><circle cx="209.9" cy="120.06" r="0.55"/><circle cx="212.5" cy="117.69" r="0.55"/><circle cx="215.1" cy="115.44" r="0.55"/><circle cx="217.7" cy="113.38" r="0.55"/><circle cx="220.3" cy="111.2" r="0.55"/><circle cx="222.9" cy="108.11" r="0.55"/><circle cx="225.5" cy="105.06" r="0.55"/><circle cx="228.1" cy="100.13" r="0.55"/><circle cx="230.7" cy="93.94" r="0.55"/><circle cx="233.3" cy="88.27" r="0.55"/><circle cx="235.9" cy="84.88" r="0.55"/><circle cx="238.5" cy="84.68" r="0.55"/><circle cx="241.1" cy="88.13" r="0.55"/><circle cx="243.7" cy="93.61" r="0.55"/><circle cx="246.3" cy="99.53" r="0.55"/><circle cx="248.9" cy="106.97" r="0.55"/><circle cx="251.5" cy="113.26" r="0.55"/><circle cx="254.1" cy="118.25" r="0.55"/><circle cx="256.7" cy="121.21" r="0.55"/><circle cx="259.3" cy="123.45" r="0.55"/><circle cx="261.9" cy="124.91" r="0.55"/><circle cx="264.5" cy="125.68" r="0.55"/><circle cx="267.1" cy="126.09" r="0.55"/><circle cx="269.7" cy="126.79" r="0.55"/><circle cx="272.3" cy="127.21" r="0.55"/><circle cx="274.9" cy="127.18" r="0.55"/><circle cx="277.5" cy="126.76" r="0.55"/><circle cx="280.1" cy="126.98" r="0.55"/><circle cx="282.7" cy="127.16" r="0.55"/></g>
</g>
<rect x="180.5" y="75.4" width="103.2" height="55" fill="none" stroke="#6f6f6f" stroke-width="1"/>
<line x1="178.5" y1="126.8" x2="180.5" y2="126.8" stroke="#333" stroke-width="0.7"/>
<text x="177" y="128.9" text-anchor="end" font-family="DejaVu Sans, Liberation Sans, sans-serif" font-size="5.7" fill="#2a2a2a" stroke="#2a2a2a" stroke-width="0.18" textLength="2.7" lengthAdjust="spacingAndGlyphs">0</text>
<line x1="178.5" y1="90.8" x2="180.5" y2="90.8" stroke="#333" stroke-width="0.7"/>
<text x="177" y="92.9" text-anchor="end" font-family="DejaVu Sans, Liberation Sans, sans-serif" font-size="5.7" fill="#2a2a2a" stroke="#2a2a2a" stroke-width="0.18" textLength="11.8" lengthAdjust="spacingAndGlyphs">2000</text>
<text x="273.4" y="94.6" text-anchor="middle" font-family="DejaVu Sans, Liberation Sans, sans-serif" font-size="5.8" fill="#333" stroke="#333" stroke-width="0.12" textLength="9.8" lengthAdjust="spacingAndGlyphs">15Si</text>
<g clip-path="url(#clip12)">
<path d="M208.55,181.6 L208.55,181.53 L209.06,181.51 L209.56,181.48 L210.06,181.44 L210.56,181.39 L211.06,181.33 L211.56,181.25 L212.06,181.15 L212.56,181.02 L213.06,180.87 L213.56,180.68 L214.07,180.45 L214.57,180.18 L215.07,179.85 L215.57,179.47 L216.07,179.02 L216.57,178.49 L217.07,177.88 L217.57,177.19 L218.07,176.4 L218.57,175.51 L219.07,174.52 L219.58,173.42 L220.08,172.21 L220.58,170.89 L221.08,169.46 L221.58,167.93 L222.08,166.31 L222.58,164.6 L223.08,162.81 L223.58,160.95 L224.08,159.05 L224.59,157.11 L225.09,155.16 L225.59,153.22 L226.09,151.3 L226.59,149.42 L227.09,147.62 L227.59,145.89 L228.09,144.27 L228.59,142.77 L229.09,141.4 L229.6,140.18 L230.1,139.11 L230.6,138.21 L231.1,137.46 L231.6,136.88 L232.1,136.46 L232.6,136.18 L233.1,136.04 L233.6,136 L234.1,136.03 L234.6,136.14 L235.11,136.34 L235.61,136.67 L236.11,137.11 L236.61,137.67 L237.11,138.36 L237.61,139.18 L238.11,140.12 L238.61,141.18 L239.11,142.36 L239.61,143.64 L240.12,145.03 L240.62,146.49 L241.12,148.04 L241.62,149.64 L242.12,151.3 L242.62,152.99 L243.12,154.7 L243.62,156.42 L244.12,158.13 L244.62,159.83 L245.13,161.5 L245.63,163.12 L246.13,164.69 L246.63,166.2 L247.13,167.65 L247.63,169.01 L248.13,170.3 L248.63,171.51 L249.13,172.64 L249.63,173.68 L250.13,174.63 L250.64,175.5 L251.14,176.29 L251.64,177 L252.14,177.64 L252.64,178.21 L253.14,178.71 L253.64,179.15 L254.14,179.53 L254.64,179.87 L255.14,180.16 L255.65,180.4 L256.15,180.61 L256.65,180.79 L257.15,180.94 L257.65,181.07 L258.15,181.17 L258.65,181.25 L259.15,181.33 L259.65,181.38 L260.15,181.43 L260.66,181.47 L261.16,181.5 L261.66,181.52 L262.16,181.54 L262.16,181.6 Z" fill="#fdd7a0" fill-opacity="1" stroke="#fdd7a0" stroke-width="0.4"/>
<path d="M196.53,181.6 L196.53,181.54 L197.03,181.53 L197.53,181.51 L198.03,181.49 L198.53,181.47 L199.04,181.44 L199.54,181.41 L200.04,181.37 L200.54,181.33 L201.04,181.28 L201.54,181.22 L202.04,181.16 L202.54,181.08 L203.04,181 L203.54,180.9 L204.05,180.8 L204.55,180.68 L205.05,180.55 L205.55,180.4 L206.05,180.24 L206.55,180.07 L207.05,179.88 L207.55,179.68 L208.05,179.46 L208.55,179.23 L209.06,178.98 L209.56,178.73 L210.06,178.46 L210.56,178.18 L211.06,177.9 L211.56,177.61 L212.06,177.31 L212.56,177.02 L213.06,176.72 L213.56,176.43 L214.07,176.15 L214.57,175.88 L215.07,175.62 L215.57,175.37 L216.07,175.15 L216.57,174.95 L217.07,174.77 L217.57,174.62 L218.07,174.49 L218.57,174.4 L219.07,174.33 L219.58,174.3 L220.08,174.3 L220.58,174.33 L221.08,174.39 L221.58,174.48 L222.08,174.59 L222.58,174.73 L223.08,174.89 L223.58,175.07 L224.08,175.28 L224.59,175.5 L225.09,175.73 L225.59,175.98 L226.09,176.24 L226.59,176.51 L227.09,176.78 L227.59,177.06 L228.09,177.33 L228.59,177.61 L229.09,177.88 L229.6,178.15 L230.1,178.41 L230.6,178.66 L231.1,178.91 L231.6,179.14 L232.1,179.36 L232.6,179.57 L233.1,179.77 L233.6,179.95 L234.1,180.12 L234.6,180.28 L235.11,180.43 L235.61,180.56 L236.11,180.69 L236.61,180.8 L237.11,180.9 L237.61,180.99 L238.11,181.07 L238.61,181.14 L239.11,181.2 L239.61,181.26 L240.12,181.31 L240.62,181.35 L241.12,181.39 L241.62,181.42 L242.12,181.45 L242.62,181.48 L243.12,181.5 L243.62,181.51 L244.12,181.53 L244.62,181.54 L244.62,181.6 Z" fill="#f79d52" fill-opacity="0.97" stroke="#f79d52" stroke-width="0.4"/>
<path d="M194.53,181.6 L194.53,181.55 L195.03,181.54 L195.53,181.54 L196.03,181.54 L196.53,181.53 L197.03,181.53 L197.53,181.52 L198.03,181.52 L198.53,181.51 L199.04,181.51 L199.54,181.5 L200.04,181.5 L200.54,181.49 L201.04,181.48 L201.54,181.48 L202.04,181.47 L202.54,181.46 L203.04,181.45 L203.54,181.45 L204.05,181.44 L204.55,181.43 L205.05,181.42 L205.55,181.41 L206.05,181.4 L206.55,181.4 L207.05,181.39 L207.55,181.38 L208.05,181.37 L208.55,181.36 L209.06,181.35 L209.56,181.33 L210.06,181.32 L210.56,181.31 L211.06,181.3 L211.56,181.29 L212.06,181.28 L212.56,181.27 L213.06,181.26 L213.56,181.25 L214.07,181.23 L214.57,181.22 L215.07,181.21 L215.57,181.2 L216.07,181.19 L216.57,181.18 L217.07,181.17 L217.57,181.16 L218.07,181.15 L218.57,181.14 L219.07,181.12 L219.58,181.11 L220.08,181.1 L220.58,181.1 L221.08,181.09 L221.58,181.08 L222.08,181.07 L222.58,181.06 L223.08,181.05 L223.58,181.05 L224.08,181.04 L224.59,181.03 L225.09,181.03 L225.59,181.02 L226.09,181.02 L226.59,181.01 L227.09,181.01 L227.59,181.01 L228.09,181 L228.59,181 L229.09,181 L229.6,181 L230.1,181 L230.6,181 L231.1,181 L231.6,181 L232.1,181.01 L232.6,181.01 L233.1,181.01 L233.6,181.02 L234.1,181.02 L234.6,181.02 L235.11,181.03 L235.61,181.04 L236.11,181.04 L236.61,181.05 L237.11,181.06 L237.61,181.06 L238.11,181.07 L238.61,181.08 L239.11,181.09 L239.61,181.1 L240.12,181.11 L240.62,181.12 L241.12,181.13 L241.62,181.14 L242.12,181.15 L242.62,181.16 L243.12,181.17 L243.62,181.18 L244.12,181.19 L244.62,181.2 L245.13,181.22 L245.63,181.23 L246.13,181.24 L246.63,181.25 L247.13,181.26 L247.63,181.27 L248.13,181.28 L248.63,181.3 L249.13,181.31 L249.63,181.32 L250.13,181.33 L250.64,181.34 L251.14,181.35 L251.64,181.36 L252.14,181.37 L252.64,181.38 L253.14,181.39 L253.64,181.4 L254.14,181.41 L254.64,181.42 L255.14,181.43 L255.65,181.43 L256.15,181.44 L256.65,181.45 L257.15,181.46 L257.65,181.47 L258.15,181.47 L258.65,181.48 L259.15,181.49 L259.65,181.49 L260.15,181.5 L260.66,181.5 L261.16,181.51 L261.66,181.52 L262.16,181.52 L262.66,181.53 L263.16,181.53 L263.66,181.53 L264.16,181.54 L264.66,181.54 L265.16,181.55 L265.67,181.55 L265.67,181.6 Z" fill="#9a9a20" fill-opacity="1" stroke="#9a9a20" stroke-width="0.4"/>
<path d="M211.56,181.25 L212.06,181.15 L212.56,181.02 L213.06,180.87 L213.56,180.68 L214.07,180.45 L214.57,180.18 L215.07,179.85 L215.57,179.47 L216.07,179.02 L216.57,178.49 L217.07,177.88 L217.57,177.19 L218.07,176.4 L218.57,175.51 L219.07,174.52 L219.58,173.42 L220.08,172.21 L220.58,170.89 L221.08,169.46 L221.58,167.93 L222.08,166.31 L222.58,164.6 L223.08,162.81 L223.58,160.95 L224.08,159.05 L224.59,157.11 L225.09,155.16 L225.59,153.22 L226.09,151.3 L226.59,149.42 L227.09,147.62 L227.59,145.89 L228.09,144.27 L228.59,142.77 L229.09,141.4 L229.6,140.18 L230.1,139.11 L230.6,138.21 L231.1,137.46 L231.6,136.88 L232.1,136.46 L232.6,136.18 L233.1,136.04 L233.6,136 L234.1,136.03 L234.6,136.14 L235.11,136.34 L235.61,136.67 L236.11,137.11 L236.61,137.67 L237.11,138.36 L237.61,139.18 L238.11,140.12 L238.61,141.18 L239.11,142.36 L239.61,143.64 L240.12,145.03 L240.62,146.49 L241.12,148.04 L241.62,149.64 L242.12,151.3 L242.62,152.99 L243.12,154.7 L243.62,156.42 L244.12,158.13 L244.62,159.83 L245.13,161.5 L245.63,163.12 L246.13,164.69 L246.63,166.2 L247.13,167.65 L247.63,169.01 L248.13,170.3 L248.63,171.51 L249.13,172.64 L249.63,173.68 L250.13,174.63 L250.64,175.5 L251.14,176.29 L251.64,177 L252.14,177.64 L252.64,178.21 L253.14,178.71 L253.64,179.15 L254.14,179.53 L254.64,179.87 L255.14,180.16 L255.65,180.4 L256.15,180.61 L256.65,180.79 L257.15,180.94 L257.65,181.07 L258.15,181.17 L258.65,181.25" fill="none" stroke="#fde0b8" stroke-width="0.7" stroke-opacity="0.9"/>
<path d="M203.54,180.75 L204.05,180.63 L204.55,180.5 L205.05,180.36 L205.55,180.2 L206.05,180.03 L206.55,179.84 L207.05,179.64 L207.55,179.42 L208.05,179.18 L208.55,178.92 L209.06,178.64 L209.56,178.34 L210.06,178.02 L210.56,177.69 L211.06,177.33 L211.56,176.95 L212.06,176.54 L212.56,176.11 L213.06,175.65 L213.56,175.16 L214.07,174.64 L214.57,174.08 L215.07,173.48 L215.57,172.84 L216.07,172.15 L216.57,171.41 L217.07,170.62 L217.57,169.76 L218.07,168.84 L218.57,167.84 L219.07,166.78 L219.58,165.64 L220.08,164.42 L220.58,163.12 L221.08,161.74 L221.58,160.29 L222.08,158.77 L222.58,157.19 L223.08,155.55 L223.58,153.87 L224.08,152.16 L224.59,150.44 L225.09,148.72 L225.59,147.02 L226.09,145.36 L226.59,143.75 L227.09,142.21 L227.59,140.76 L228.09,139.41 L228.59,138.18 L229.09,137.09 L229.6,136.13 L230.1,135.33 L230.6,134.67 L231.1,134.17 L231.6,133.82 L232.1,133.62 L232.6,133.56 L233.1,133.62 L233.6,133.77 L234.1,133.97" fill="none" stroke="#e81414" stroke-width="1.15" stroke-linejoin="round" stroke-linecap="round"/>
<line x1="180.5" y1="181.6" x2="283.7" y2="181.6" stroke="#f29a48" stroke-width="1.6"/>
<g fill="#333"><circle cx="181.3" cy="181.1" r="0.55"/><circle cx="183.9" cy="181.78" r="0.55"/><circle cx="186.5" cy="182.08" r="0.55"/><circle cx="189.1" cy="181.91" r="0.55"/><circle cx="191.7" cy="181.86" r="0.55"/><circle cx="194.3" cy="181.5" r="0.55"/><circle cx="196.9" cy="181.07" r="0.55"/><circle cx="199.5" cy="181.66" r="0.55"/><circle cx="202.1" cy="180.82" r="0.55"/><circle cx="204.7" cy="180.82" r="0.55"/><circle cx="207.3" cy="180.1" r="0.55"/><circle cx="209.9" cy="178" r="0.55"/><circle cx="212.5" cy="176.04" r="0.55"/><circle cx="215.1" cy="173.98" r="0.55"/><circle cx="217.7" cy="169.8" r="0.55"/><circle cx="220.3" cy="163.45" r="0.55"/><circle cx="222.9" cy="155.7" r="0.55"/><circle cx="225.5" cy="146.9" r="0.55"/><circle cx="228.1" cy="139.88" r="0.55"/><circle cx="230.7" cy="134.92" r="0.55"/><circle cx="233.3" cy="133.24" r="0.55"/><circle cx="235.9" cy="135.78" r="0.55"/><circle cx="238.5" cy="140.51" r="0.55"/><circle cx="241.1" cy="147.49" r="0.55"/><circle cx="243.7" cy="156.01" r="0.55"/><circle cx="246.3" cy="164.89" r="0.55"/><circle cx="248.9" cy="171.37" r="0.55"/><circle cx="251.5" cy="175.99" r="0.55"/><circle cx="254.1" cy="179.87" r="0.55"/><circle cx="256.7" cy="180.84" r="0.55"/><circle cx="259.3" cy="181.26" r="0.55"/><circle cx="261.9" cy="181.97" r="0.55"/><circle cx="264.5" cy="181.45" r="0.55"/><circle cx="267.1" cy="182" r="0.55"/><circle cx="269.7" cy="181.96" r="0.55"/><circle cx="272.3" cy="181.23" r="0.55"/><circle cx="274.9" cy="181.29" r="0.55"/><circle cx="277.5" cy="181.34" r="0.55"/><circle cx="280.1" cy="181.28" r="0.55"/><circle cx="282.7" cy="181.7" r="0.55"/></g>
</g>
<rect x="180.5" y="130.4" width="103.2" height="54.5" fill="none" stroke="#6f6f6f" stroke-width="1"/>
<line x1="178.5" y1="181.6" x2="180.5" y2="181.6" stroke="#333" stroke-width="0.7"/>
<text x="177" y="183.7" text-anchor="end" font-family="DejaVu Sans, Liberation Sans, sans-serif" font-size="5.7" fill="#2a2a2a" stroke="#2a2a2a" stroke-width="0.18" textLength="2.7" lengthAdjust="spacingAndGlyphs">0</text>
<line x1="178.5" y1="145.6" x2="180.5" y2="145.6" stroke="#333" stroke-width="0.7"/>
<text x="177" y="147.7" text-anchor="end" font-family="DejaVu Sans, Liberation Sans, sans-serif" font-size="5.7" fill="#2a2a2a" stroke="#2a2a2a" stroke-width="0.18" textLength="11.8" lengthAdjust="spacingAndGlyphs">2000</text>
<text x="273.4" y="149.6" text-anchor="middle" font-family="DejaVu Sans, Liberation Sans, sans-serif" font-size="5.8" fill="#333" stroke="#333" stroke-width="0.12" textLength="9.8" lengthAdjust="spacingAndGlyphs">00Si</text>
<line x1="191.0" y1="184.9" x2="191.0" y2="186.9" stroke="#333" stroke-width="0.7"/>
<text x="191" y="192.8" text-anchor="middle" font-family="DejaVu Sans, Liberation Sans, sans-serif" font-size="5.8" fill="#2a2a2a" stroke="#2a2a2a" stroke-width="0.15" textLength="8.8" lengthAdjust="spacingAndGlyphs">536</text>
<line x1="212.1" y1="184.9" x2="212.1" y2="186.9" stroke="#333" stroke-width="0.7"/>
<text x="212.1" y="192.8" text-anchor="middle" font-family="DejaVu Sans, Liberation Sans, sans-serif" font-size="5.8" fill="#2a2a2a" stroke="#2a2a2a" stroke-width="0.15" textLength="8.8" lengthAdjust="spacingAndGlyphs">534</text>
<line x1="233.2" y1="184.9" x2="233.2" y2="186.9" stroke="#333" stroke-width="0.7"/>
<text x="233.2" y="192.8" text-anchor="middle" font-family="DejaVu Sans, Liberation Sans, sans-serif" font-size="5.8" fill="#2a2a2a" stroke="#2a2a2a" stroke-width="0.15" textLength="8.8" lengthAdjust="spacingAndGlyphs">532</text>
<line x1="254.3" y1="184.9" x2="254.3" y2="186.9" stroke="#333" stroke-width="0.7"/>
<text x="254.3" y="192.8" text-anchor="middle" font-family="DejaVu Sans, Liberation Sans, sans-serif" font-size="5.8" fill="#2a2a2a" stroke="#2a2a2a" stroke-width="0.15" textLength="8.8" lengthAdjust="spacingAndGlyphs">530</text>
<line x1="275.4" y1="184.9" x2="275.4" y2="186.9" stroke="#333" stroke-width="0.7"/>
<text x="275.4" y="192.8" text-anchor="middle" font-family="DejaVu Sans, Liberation Sans, sans-serif" font-size="5.8" fill="#2a2a2a" stroke="#2a2a2a" stroke-width="0.15" textLength="8.8" lengthAdjust="spacingAndGlyphs">528</text>
<text x="232.1" y="199.5" text-anchor="middle" font-family="DejaVu Sans, Liberation Sans, sans-serif" font-size="5.6" fill="#222" stroke="#222" stroke-width="0.1" textLength="47" lengthAdjust="spacingAndGlyphs">Binding Energy(eV)</text>
<text x="354.05" y="17.8" text-anchor="middle" font-family="DejaVu Sans, Liberation Sans, sans-serif" font-size="8.0" fill="#1a1a1a" stroke="#1a1a1a" stroke-width="0.2" textLength="12.3" lengthAdjust="spacingAndGlyphs">F1s</text>
<g clip-path="url(#clip20)">
<path d="M350.9,72.6 L350.9,72.54 L351.4,72.53 L351.9,72.52 L352.4,72.51 L352.9,72.5 L353.4,72.48 L353.9,72.46 L354.4,72.44 L354.9,72.42 L355.4,72.4 L355.9,72.37 L356.4,72.34 L356.9,72.31 L357.4,72.27 L357.9,72.23 L358.4,72.19 L358.9,72.14 L359.4,72.09 L359.9,72.03 L360.4,71.98 L360.9,71.91 L361.4,71.85 L361.9,71.78 L362.4,71.71 L362.9,71.63 L363.4,71.55 L363.9,71.47 L364.4,71.38 L364.9,71.29 L365.4,71.2 L365.9,71.11 L366.4,71.01 L366.9,70.92 L367.4,70.83 L367.9,70.73 L368.4,70.64 L368.9,70.55 L369.4,70.46 L369.9,70.37 L370.4,70.29 L370.9,70.22 L371.4,70.14 L371.9,70.08 L372.4,70.02 L372.9,69.96 L373.4,69.91 L373.9,69.88 L374.4,69.84 L374.9,69.82 L375.4,69.81 L375.9,69.8 L376.4,69.8 L376.9,69.82 L377.4,69.86 L377.9,69.9 L378.4,69.96 L378.9,70.03 L379.4,70.11 L379.9,70.2 L380.4,70.3 L380.9,70.41 L381.4,70.52 L381.9,70.64 L382.4,70.76 L382.9,70.88 L383.4,71 L383.9,71.12 L384.4,71.24 L384.9,71.35 L385.4,71.46 L385.9,71.57 L386.4,71.67 L386.9,71.77 L387.4,71.86 L387.9,71.94 L388.4,72.02 L388.9,72.09 L389.4,72.15 L389.9,72.21 L390.4,72.26 L390.9,72.31 L391.4,72.35 L391.9,72.39 L392.4,72.42 L392.9,72.45 L393.4,72.47 L393.9,72.49 L394.4,72.51 L394.9,72.53 L395.4,72.54 L395.4,72.6 Z" fill="#9466dc" fill-opacity="1" stroke="#9466dc" stroke-width="0.4"/>
<path d="M322.4,72.6 L322.4,72.54 L322.9,72.54 L323.4,72.52 L323.9,72.51 L324.4,72.5 L324.9,72.48 L325.4,72.46 L325.9,72.44 L326.4,72.42 L326.9,72.39 L327.4,72.36 L327.9,72.32 L328.4,72.28 L328.9,72.23 L329.4,72.18 L329.9,72.13 L330.4,72.06 L330.9,71.99 L331.4,71.91 L331.9,71.83 L332.4,71.73 L332.9,71.63 L333.4,71.51 L333.9,71.38 L334.4,71.24 L334.9,71.09 L335.4,70.93 L335.9,70.75 L336.4,70.56 L336.9,70.35 L337.4,70.13 L337.9,69.89 L338.4,69.63 L338.9,69.36 L339.4,69.07 L339.9,68.76 L340.4,68.44 L340.9,68.1 L341.4,67.74 L341.9,67.36 L342.4,66.97 L342.9,66.56 L343.4,66.13 L343.9,65.69 L344.4,65.24 L344.9,64.78 L345.4,64.3 L345.9,63.82 L346.4,63.33 L346.9,62.83 L347.4,62.33 L347.9,61.82 L348.4,61.32 L348.9,60.82 L349.4,60.33 L349.9,59.84 L350.4,59.36 L350.9,58.9 L351.4,58.45 L351.9,58.02 L352.4,57.61 L352.9,57.22 L353.4,56.85 L353.9,56.52 L354.4,56.21 L354.9,55.93 L355.4,55.69 L355.9,55.48 L356.4,55.31 L356.9,55.18 L357.4,55.08 L357.9,55.02 L358.4,55 L358.9,55.02 L359.4,55.08 L359.9,55.17 L360.4,55.3 L360.9,55.47 L361.4,55.67 L361.9,55.9 L362.4,56.17 L362.9,56.46 L363.4,56.79 L363.9,57.14 L364.4,57.52 L364.9,57.92 L365.4,58.33 L365.9,58.77 L366.4,59.22 L366.9,59.69 L367.4,60.16 L367.9,60.65 L368.4,61.14 L368.9,61.63 L369.4,62.12 L369.9,62.62 L370.4,63.11 L370.9,63.59 L371.4,64.07 L371.9,64.54 L372.4,65 L372.9,65.45 L373.4,65.89 L373.9,66.32 L374.4,66.73 L374.9,67.12 L375.4,67.5 L375.9,67.86 L376.4,68.21 L376.9,68.54 L377.4,68.86 L377.9,69.15 L378.4,69.43 L378.9,69.7 L379.4,69.94 L379.9,70.17 L380.4,70.39 L380.9,70.59 L381.4,70.78 L381.9,70.95 L382.4,71.11 L382.9,71.26 L383.4,71.39 L383.9,71.52 L384.4,71.63 L384.9,71.73 L385.4,71.83 L385.9,71.91 L386.4,71.99 L386.9,72.06 L387.4,72.12 L387.9,72.18 L388.4,72.23 L388.9,72.27 L389.4,72.31 L389.9,72.35 L390.4,72.38 L390.9,72.41 L391.4,72.43 L391.9,72.46 L392.4,72.48 L392.9,72.49 L393.4,72.51 L393.9,72.52 L394.4,72.53 L394.9,72.54 L394.9,72.6 Z" fill="#e98ed9" fill-opacity="0.9" stroke="#e98ed9" stroke-width="0.4"/>
<path d="M357.4,72.27 L357.9,72.23 L358.4,72.19 L358.9,72.14 L359.4,72.09 L359.9,72.03 L360.4,71.98 L360.9,71.91 L361.4,71.85 L361.9,71.78 L362.4,71.71 L362.9,71.63 L363.4,71.55 L363.9,71.47 L364.4,71.38 L364.9,71.29 L365.4,71.2 L365.9,71.11 L366.4,71.01 L366.9,70.92 L367.4,70.83 L367.9,70.73 L368.4,70.64 L368.9,70.55 L369.4,70.46 L369.9,70.37 L370.4,70.29 L370.9,70.22 L371.4,70.14 L371.9,70.08 L372.4,70.02 L372.9,69.96 L373.4,69.91 L373.9,69.88 L374.4,69.84 L374.9,69.82 L375.4,69.81 L375.9,69.8 L376.4,69.8 L376.9,69.82 L377.4,69.86 L377.9,69.9 L378.4,69.96 L378.9,70.03 L379.4,70.11 L379.9,70.2 L380.4,70.3 L380.9,70.41 L381.4,70.52 L381.9,70.64 L382.4,70.76 L382.9,70.88 L383.4,71 L383.9,71.12 L384.4,71.24 L384.9,71.35 L385.4,71.46 L385.9,71.57 L386.4,71.67 L386.9,71.77 L387.4,71.86 L387.9,71.94 L388.4,72.02 L388.9,72.09 L389.4,72.15 L389.9,72.21 L390.4,72.26" fill="none" stroke="#9a70dd" stroke-width="0.7" stroke-opacity="0.9"/>
<path d="M331.9,71.83 L332.4,71.73 L332.9,71.63 L333.4,71.51 L333.9,71.38 L334.4,71.24 L334.9,71.09 L335.4,70.93 L335.9,70.75 L336.4,70.56 L336.9,70.35 L337.4,70.13 L337.9,69.89 L338.4,69.63 L338.9,69.36 L339.4,69.07 L339.9,68.76 L340.4,68.44 L340.9,68.09 L341.4,67.73 L341.9,67.36 L342.4,66.96 L342.9,66.55 L343.4,66.13 L343.9,65.69 L344.4,65.24 L344.9,64.77 L345.4,64.29 L345.9,63.81 L346.4,63.31 L346.9,62.81 L347.4,62.31 L347.9,61.8 L348.4,61.3 L348.9,60.79 L349.4,60.29 L349.9,59.8 L350.4,59.31 L350.9,58.84 L351.4,58.38 L351.9,57.94 L352.4,57.52 L352.9,57.11 L353.4,56.73 L353.9,56.38 L354.4,56.05 L354.9,55.75 L355.4,55.49 L355.9,55.25 L356.4,55.05 L356.9,54.88 L357.4,54.75 L357.9,54.65 L358.4,54.59 L358.9,54.56 L359.4,54.56 L359.9,54.6 L360.4,54.68 L360.9,54.78 L361.4,54.91 L361.9,55.08 L362.4,55.27 L362.9,55.49 L363.4,55.74 L363.9,56.01 L364.4,56.3 L364.9,56.61 L365.4,56.94 L365.9,57.28 L366.4,57.64 L366.9,58.01 L367.4,58.39 L367.9,58.78 L368.4,59.18 L368.9,59.58 L369.4,59.98 L369.9,60.39 L370.4,60.8 L370.9,61.21 L371.4,61.61 L371.9,62.02 L372.4,62.42 L372.9,62.81 L373.4,63.21 L373.9,63.59 L374.4,63.97 L374.9,64.34 L375.4,64.71 L375.9,65.06 L376.4,65.42 L376.9,65.76 L377.4,66.11 L377.9,66.45 L378.4,66.79 L378.9,67.13 L379.4,67.45 L379.9,67.78 L380.4,68.09 L380.9,68.4 L381.4,68.7 L381.9,68.99 L382.4,69.27 L382.9,69.53 L383.4,69.79 L383.9,70.04 L384.4,70.27 L384.9,70.48 L385.4,70.69 L385.9,70.88 L386.4,71.06 L386.9,71.23 L387.4,71.38 L387.9,71.52 L388.4,71.65 L388.9,71.76 L389.4,71.87" fill="none" stroke="#e81414" stroke-width="1.4" stroke-linejoin="round" stroke-linecap="round"/>
<line x1="304.4" y1="73.5" x2="407.4" y2="73.5" stroke="#a8e6f0" stroke-width="0.9"/>
<line x1="304.4" y1="72.6" x2="407.4" y2="72.6" stroke="#5b9bd5" stroke-width="1.2"/>
<g fill="#222"><circle cx="305.2" cy="72.31" r="0.55"/><circle cx="307.8" cy="72.5" r="0.55"/><circle cx="310.4" cy="72.16" r="0.55"/><circle cx="313" cy="73.09" r="0.55"/><circle cx="315.6" cy="72.42" r="0.55"/><circle cx="318.2" cy="72.54" r="0.55"/><circle cx="320.8" cy="72.67" r="0.55"/><circle cx="323.4" cy="73.01" r="0.55"/><circle cx="326" cy="72.34" r="0.55"/><circle cx="328.6" cy="72.76" r="0.55"/><circle cx="331.2" cy="71.95" r="0.55"/><circle cx="333.8" cy="71.45" r="0.55"/><circle cx="336.4" cy="70.59" r="0.55"/><circle cx="339" cy="68.72" r="0.55"/><circle cx="341.6" cy="67.51" r="0.55"/><circle cx="344.2" cy="65.04" r="0.55"/><circle cx="346.8" cy="62.32" r="0.55"/><circle cx="349.4" cy="60.65" r="0.55"/><circle cx="352" cy="57.46" r="0.55"/><circle cx="354.6" cy="55.9" r="0.55"/><circle cx="357.2" cy="55.07" r="0.55"/><circle cx="359.8" cy="54.66" r="0.55"/><circle cx="362.4" cy="55.06" r="0.55"/><circle cx="365" cy="56.69" r="0.55"/><circle cx="367.6" cy="58.61" r="0.55"/><circle cx="370.2" cy="60.98" r="0.55"/><circle cx="372.8" cy="62.26" r="0.55"/><circle cx="375.4" cy="64.78" r="0.55"/><circle cx="378" cy="66.22" r="0.55"/><circle cx="380.6" cy="67.95" r="0.55"/><circle cx="383.2" cy="70.02" r="0.55"/><circle cx="385.8" cy="70.85" r="0.55"/><circle cx="388.4" cy="71.72" r="0.55"/><circle cx="391" cy="72.45" r="0.55"/><circle cx="393.6" cy="72.89" r="0.55"/><circle cx="396.2" cy="72.45" r="0.55"/><circle cx="398.8" cy="72.71" r="0.55"/><circle cx="401.4" cy="72.6" r="0.55"/><circle cx="404" cy="72.61" r="0.55"/><circle cx="406.6" cy="72.83" r="0.55"/></g>
</g>
<rect x="304.4" y="21.0" width="103" height="54.4" fill="none" stroke="#6f6f6f" stroke-width="1"/>
<line x1="302.4" y1="72.6" x2="304.4" y2="72.6" stroke="#333" stroke-width="0.7"/>
<text x="300.9" y="74.7" text-anchor="end" font-family="DejaVu Sans, Liberation Sans, sans-serif" font-size="5.7" fill="#2a2a2a" stroke="#2a2a2a" stroke-width="0.18" textLength="2.7" lengthAdjust="spacingAndGlyphs">0</text>
<line x1="302.4" y1="50.8" x2="304.4" y2="50.8" stroke="#333" stroke-width="0.7"/>
<text x="300.9" y="52.9" text-anchor="end" font-family="DejaVu Sans, Liberation Sans, sans-serif" font-size="5.7" fill="#2a2a2a" stroke="#2a2a2a" stroke-width="0.18" textLength="11.8" lengthAdjust="spacingAndGlyphs">2500</text>
<line x1="302.4" y1="29" x2="304.4" y2="29" stroke="#333" stroke-width="0.7"/>
<text x="300.9" y="31.1" text-anchor="end" font-family="DejaVu Sans, Liberation Sans, sans-serif" font-size="5.7" fill="#2a2a2a" stroke="#2a2a2a" stroke-width="0.18" textLength="11.8" lengthAdjust="spacingAndGlyphs">5000</text>
<text x="397.1" y="40.2" text-anchor="middle" font-family="DejaVu Sans, Liberation Sans, sans-serif" font-size="5.8" fill="#333" stroke="#333" stroke-width="0.12" textLength="9.8" lengthAdjust="spacingAndGlyphs">30Si</text>
<g clip-path="url(#clip21)">
<path d="M318.9,127.6 L318.9,127.55 L319.4,127.54 L319.9,127.53 L320.4,127.52 L320.9,127.51 L321.4,127.5 L321.9,127.49 L322.4,127.48 L322.9,127.46 L323.4,127.44 L323.9,127.43 L324.4,127.41 L324.9,127.39 L325.4,127.37 L325.9,127.34 L326.4,127.32 L326.9,127.29 L327.4,127.26 L327.9,127.23 L328.4,127.2 L328.9,127.16 L329.4,127.13 L329.9,127.09 L330.4,127.05 L330.9,127.01 L331.4,126.97 L331.9,126.92 L332.4,126.88 L332.9,126.83 L333.4,126.78 L333.9,126.74 L334.4,126.69 L334.9,126.64 L335.4,126.59 L335.9,126.54 L336.4,126.49 L336.9,126.45 L337.4,126.4 L337.9,126.36 L338.4,126.31 L338.9,126.27 L339.4,126.23 L339.9,126.2 L340.4,126.16 L340.9,126.13 L341.4,126.1 L341.9,126.08 L342.4,126.05 L342.9,126.03 L343.4,126.02 L343.9,126.01 L344.4,126 L344.9,126 L345.4,126 L345.9,126.01 L346.4,126.02 L346.9,126.03 L347.4,126.05 L347.9,126.07 L348.4,126.09 L348.9,126.12 L349.4,126.15 L349.9,126.18 L350.4,126.22 L350.9,126.26 L351.4,126.3 L351.9,126.34 L352.4,126.38 L352.9,126.43 L353.4,126.48 L353.9,126.52 L354.4,126.57 L354.9,126.62 L355.4,126.67 L355.9,126.72 L356.4,126.76 L356.9,126.81 L357.4,126.86 L357.9,126.9 L358.4,126.95 L358.9,126.99 L359.4,127.03 L359.9,127.07 L360.4,127.11 L360.9,127.15 L361.4,127.18 L361.9,127.22 L362.4,127.25 L362.9,127.28 L363.4,127.31 L363.9,127.33 L364.4,127.36 L364.9,127.38 L365.4,127.4 L365.9,127.42 L366.4,127.44 L366.9,127.45 L367.4,127.47 L367.9,127.48 L368.4,127.5 L368.9,127.51 L369.4,127.52 L369.9,127.53 L370.4,127.54 L370.9,127.54 L370.9,127.6 Z" fill="#62b8e8" fill-opacity="1" stroke="#62b8e8" stroke-width="0.4"/>
<path d="M356.9,127.6 L356.9,127.55 L357.4,127.53 L357.9,127.52 L358.4,127.5 L358.9,127.48 L359.4,127.45 L359.9,127.42 L360.4,127.38 L360.9,127.34 L361.4,127.29 L361.9,127.23 L362.4,127.16 L362.9,127.08 L363.4,126.99 L363.9,126.89 L364.4,126.77 L364.9,126.65 L365.4,126.5 L365.9,126.34 L366.4,126.17 L366.9,125.97 L367.4,125.76 L367.9,125.53 L368.4,125.29 L368.9,125.02 L369.4,124.74 L369.9,124.45 L370.4,124.13 L370.9,123.81 L371.4,123.47 L371.9,123.12 L372.4,122.77 L372.9,122.41 L373.4,122.05 L373.9,121.69 L374.4,121.33 L374.9,120.99 L375.4,120.66 L375.9,120.35 L376.4,120.05 L376.9,119.78 L377.4,119.54 L377.9,119.33 L378.4,119.15 L378.9,119 L379.4,118.9 L379.9,118.83 L380.4,118.8 L380.9,118.82 L381.4,118.89 L381.9,119.02 L382.4,119.2 L382.9,119.44 L383.4,119.71 L383.9,120.03 L384.4,120.38 L384.9,120.76 L385.4,121.16 L385.9,121.58 L386.4,122 L386.9,122.43 L387.4,122.86 L387.9,123.28 L388.4,123.69 L388.9,124.09 L389.4,124.46 L389.9,124.81 L390.4,125.14 L390.9,125.44 L391.4,125.72 L391.9,125.98 L392.4,126.21 L392.9,126.41 L393.4,126.59 L393.9,126.75 L394.4,126.89 L394.9,127.01 L395.4,127.11 L395.9,127.2 L396.4,127.27 L396.9,127.33 L397.4,127.39 L397.9,127.43 L398.4,127.46 L398.9,127.49 L399.4,127.52 L399.9,127.53 L400.4,127.55 L400.4,127.6 Z" fill="#9466dc" fill-opacity="1" stroke="#9466dc" stroke-width="0.4"/>
<path d="M326.4,127.6 L326.4,127.55 L326.9,127.53 L327.4,127.5 L327.9,127.48 L328.4,127.44 L328.9,127.39 L329.4,127.33 L329.9,127.25 L330.4,127.16 L330.9,127.05 L331.4,126.91 L331.9,126.74 L332.4,126.54 L332.9,126.3 L333.4,126.02 L333.9,125.69 L334.4,125.3 L334.9,124.85 L335.4,124.33 L335.9,123.74 L336.4,123.07 L336.9,122.32 L337.4,121.48 L337.9,120.55 L338.4,119.52 L338.9,118.39 L339.4,117.17 L339.9,115.85 L340.4,114.43 L340.9,112.93 L341.4,111.34 L341.9,109.68 L342.4,107.94 L342.9,106.16 L343.4,104.32 L343.9,102.46 L344.4,100.58 L344.9,98.69 L345.4,96.82 L345.9,94.98 L346.4,93.18 L346.9,91.45 L347.4,89.78 L347.9,88.21 L348.4,86.74 L348.9,85.37 L349.4,84.13 L349.9,83.01 L350.4,82.03 L350.9,81.18 L351.4,80.46 L351.9,79.88 L352.4,79.42 L352.9,79.09 L353.4,78.87 L353.9,78.75 L354.4,78.7 L354.9,78.7 L355.4,78.75 L355.9,78.85 L356.4,79.02 L356.9,79.27 L357.4,79.61 L357.9,80.04 L358.4,80.57 L358.9,81.2 L359.4,81.93 L359.9,82.76 L360.4,83.69 L360.9,84.71 L361.4,85.83 L361.9,87.04 L362.4,88.32 L362.9,89.68 L363.4,91.11 L363.9,92.59 L364.4,94.12 L364.9,95.69 L365.4,97.29 L365.9,98.91 L366.4,100.54 L366.9,102.17 L367.4,103.78 L367.9,105.38 L368.4,106.94 L368.9,108.47 L369.4,109.95 L369.9,111.38 L370.4,112.76 L370.9,114.07 L371.4,115.32 L371.9,116.49 L372.4,117.6 L372.9,118.63 L373.4,119.59 L373.9,120.48 L374.4,121.3 L374.9,122.05 L375.4,122.73 L375.9,123.35 L376.4,123.9 L376.9,124.4 L377.4,124.84 L377.9,125.23 L378.4,125.58 L378.9,125.88 L379.4,126.15 L379.9,126.38 L380.4,126.58 L380.9,126.75 L381.4,126.89 L381.9,127.02 L382.4,127.12 L382.9,127.21 L383.4,127.28 L383.9,127.34 L384.4,127.39 L384.9,127.43 L385.4,127.47 L385.9,127.5 L386.4,127.52 L386.9,127.54 L387.4,127.55 L387.4,127.6 Z" fill="#e98ed9" fill-opacity="0.92" stroke="#e98ed9" stroke-width="0.4"/>
<path d="M361.4,127.29 L361.9,127.23 L362.4,127.16 L362.9,127.08 L363.4,126.99 L363.9,126.89 L364.4,126.77 L364.9,126.65 L365.4,126.5 L365.9,126.34 L366.4,126.17 L366.9,125.97 L367.4,125.76 L367.9,125.53 L368.4,125.29 L368.9,125.02 L369.4,124.74 L369.9,124.45 L370.4,124.13 L370.9,123.81 L371.4,123.47 L371.9,123.12 L372.4,122.77 L372.9,122.41 L373.4,122.05 L373.9,121.69 L374.4,121.33 L374.9,120.99 L375.4,120.66 L375.9,120.35 L376.4,120.05 L376.9,119.78 L377.4,119.54 L377.9,119.33 L378.4,119.15 L378.9,119 L379.4,118.9 L379.9,118.83 L380.4,118.8 L380.9,118.82 L381.4,118.89 L381.9,119.02 L382.4,119.2 L382.9,119.44 L383.4,119.71 L383.9,120.03 L384.4,120.38 L384.9,120.76 L385.4,121.16 L385.9,121.58 L386.4,122 L386.9,122.43 L387.4,122.86 L387.9,123.28 L388.4,123.69 L388.9,124.09 L389.4,124.46 L389.9,124.81 L390.4,125.14 L390.9,125.44 L391.4,125.72 L391.9,125.98 L392.4,126.21 L392.9,126.41 L393.4,126.59 L393.9,126.75 L394.4,126.89 L394.9,127.01 L395.4,127.11 L395.9,127.2 L396.4,127.27" fill="none" stroke="#8a5cd6" stroke-width="0.6" stroke-opacity="0.9"/>
<path d="M329.4,126.86 L329.9,126.74 L330.4,126.61 L330.9,126.46 L331.4,126.28 L331.9,126.07 L332.4,125.82 L332.9,125.53 L333.4,125.2 L333.9,124.82 L334.4,124.39 L334.9,123.89 L335.4,123.32 L335.9,122.69 L336.4,121.97 L336.9,121.17 L337.4,120.28 L337.9,119.3 L338.4,118.23 L338.9,117.06 L339.4,115.8 L339.9,114.44 L340.4,112.99 L340.9,111.46 L341.4,109.84 L341.9,108.15 L342.4,106.4 L342.9,104.59 L343.4,102.74 L343.9,100.87 L344.4,98.98 L344.9,97.09 L345.4,95.22 L345.9,93.39 L346.4,91.6 L346.9,89.87 L347.4,88.23 L347.9,86.68 L348.4,85.23 L348.9,83.89 L349.4,82.68 L349.9,81.59 L350.4,80.64 L350.9,79.83 L351.4,79.16 L351.9,78.61 L352.4,78.2 L352.9,77.91 L353.4,77.74 L353.9,77.66 L354.4,77.66 L354.9,77.7 L355.4,77.79 L355.9,77.93 L356.4,78.14 L356.9,78.43 L357.4,78.8 L357.9,79.26 L358.4,79.82 L358.9,80.47 L359.4,81.21 L359.9,82.05 L360.4,82.98 L360.9,84 L361.4,85.1 L361.9,86.28 L362.4,87.53 L362.9,88.84 L363.4,90.2 L363.9,91.61 L364.4,93.05 L364.9,94.52 L365.4,96 L365.9,97.48 L366.4,98.95 L366.9,100.4 L367.4,101.82 L367.9,103.2 L368.4,104.53 L368.9,105.8 L369.4,107.01 L369.9,108.16 L370.4,109.23 L370.9,110.22 L371.4,111.14 L371.9,111.97 L372.4,112.73 L372.9,113.41 L373.4,114.01 L373.9,114.55 L374.4,115.01 L374.9,115.42 L375.4,115.77 L375.9,116.08 L376.4,116.34 L376.9,116.57 L377.4,116.77 L377.9,116.95 L378.4,117.12 L378.9,117.28 L379.4,117.44 L379.9,117.61 L380.4,117.78 L380.9,117.96 L381.4,118.18 L381.9,118.44 L382.4,118.72 L382.9,119.04 L383.4,119.39 L383.9,119.77 L384.4,120.17 L384.9,120.59 L385.4,121.03 L385.9,121.47 L386.4,121.92 L386.9,122.37 L387.4,122.81 L387.9,123.24 L388.4,123.66 L388.9,124.06 L389.4,124.44 L389.9,124.8 L390.4,125.13 L390.9,125.44 L391.4,125.72 L391.9,125.97 L392.4,126.2 L392.9,126.41 L393.4,126.59 L393.9,126.75 L394.4,126.89" fill="none" stroke="#e81414" stroke-width="1.4" stroke-linejoin="round" stroke-linecap="round"/>
<line x1="304.4" y1="128.5" x2="407.4" y2="128.5" stroke="#a8e6f0" stroke-width="0.9"/>
<line x1="304.4" y1="127.6" x2="407.4" y2="127.6" stroke="#5b9bd5" stroke-width="1.2"/>
<g fill="#222"><circle cx="305.2" cy="127.54" r="0.55"/><circle cx="307.8" cy="127.64" r="0.55"/><circle cx="310.4" cy="127.57" r="0.55"/><circle cx="313" cy="128.12" r="0.55"/><circle cx="315.6" cy="127.82" r="0.55"/><circle cx="318.2" cy="128.01" r="0.55"/><circle cx="320.8" cy="128.04" r="0.55"/><circle cx="323.4" cy="127.15" r="0.55"/><circle cx="326" cy="127.37" r="0.55"/><circle cx="328.6" cy="127.53" r="0.55"/><circle cx="331.2" cy="126.76" r="0.55"/><circle cx="333.8" cy="124.47" r="0.55"/><circle cx="336.4" cy="121.52" r="0.55"/><circle cx="339" cy="116.75" r="0.55"/><circle cx="341.6" cy="108.66" r="0.55"/><circle cx="344.2" cy="99.42" r="0.55"/><circle cx="346.8" cy="89.7" r="0.55"/><circle cx="349.4" cy="82.88" r="0.55"/><circle cx="352" cy="78.86" r="0.55"/><circle cx="354.6" cy="78.15" r="0.55"/><circle cx="357.2" cy="78.22" r="0.55"/><circle cx="359.8" cy="82.13" r="0.55"/><circle cx="362.4" cy="87.72" r="0.55"/><circle cx="365" cy="94.39" r="0.55"/><circle cx="367.6" cy="102.83" r="0.55"/><circle cx="370.2" cy="109.37" r="0.55"/><circle cx="372.8" cy="112.94" r="0.55"/><circle cx="375.4" cy="116.32" r="0.55"/><circle cx="378" cy="116.87" r="0.55"/><circle cx="380.6" cy="117.83" r="0.55"/><circle cx="383.2" cy="119.84" r="0.55"/><circle cx="385.8" cy="121.78" r="0.55"/><circle cx="388.4" cy="123.26" r="0.55"/><circle cx="391" cy="125.41" r="0.55"/><circle cx="393.6" cy="126.67" r="0.55"/><circle cx="396.2" cy="127.05" r="0.55"/><circle cx="398.8" cy="127.12" r="0.55"/><circle cx="401.4" cy="127.35" r="0.55"/><circle cx="404" cy="127.86" r="0.55"/><circle cx="406.6" cy="127.02" r="0.55"/></g>
</g>
<rect x="304.4" y="75.4" width="103" height="55" fill="none" stroke="#6f6f6f" stroke-width="1"/>
<line x1="302.4" y1="127.6" x2="304.4" y2="127.6" stroke="#333" stroke-width="0.7"/>
<text x="300.9" y="129.7" text-anchor="end" font-family="DejaVu Sans, Liberation Sans, sans-serif" font-size="5.7" fill="#2a2a2a" stroke="#2a2a2a" stroke-width="0.18" textLength="2.7" lengthAdjust="spacingAndGlyphs">0</text>
<line x1="302.4" y1="105.8" x2="304.4" y2="105.8" stroke="#333" stroke-width="0.7"/>
<text x="300.9" y="107.9" text-anchor="end" font-family="DejaVu Sans, Liberation Sans, sans-serif" font-size="5.7" fill="#2a2a2a" stroke="#2a2a2a" stroke-width="0.18" textLength="11.8" lengthAdjust="spacingAndGlyphs">2500</text>
<line x1="302.4" y1="84" x2="304.4" y2="84" stroke="#333" stroke-width="0.7"/>
<text x="300.9" y="86.1" text-anchor="end" font-family="DejaVu Sans, Liberation Sans, sans-serif" font-size="5.7" fill="#2a2a2a" stroke="#2a2a2a" stroke-width="0.18" textLength="11.8" lengthAdjust="spacingAndGlyphs">5000</text>
<text x="397.1" y="94.6" text-anchor="middle" font-family="DejaVu Sans, Liberation Sans, sans-serif" font-size="5.8" fill="#333" stroke="#333" stroke-width="0.12" textLength="9.8" lengthAdjust="spacingAndGlyphs">15Si</text>
<g clip-path="url(#clip22)">
<path d="M345.4,182.4 L345.4,182.34 L345.9,182.33 L346.4,182.31 L346.9,182.3 L347.4,182.27 L347.9,182.25 L348.4,182.22 L348.9,182.18 L349.4,182.14 L349.9,182.1 L350.4,182.04 L350.9,181.98 L351.4,181.9 L351.9,181.82 L352.4,181.72 L352.9,181.61 L353.4,181.48 L353.9,181.34 L354.4,181.18 L354.9,180.99 L355.4,180.79 L355.9,180.56 L356.4,180.3 L356.9,180.02 L357.4,179.71 L357.9,179.36 L358.4,178.98 L358.9,178.57 L359.4,178.11 L359.9,177.62 L360.4,177.09 L360.9,176.52 L361.4,175.91 L361.9,175.26 L362.4,174.56 L362.9,173.82 L363.4,173.05 L363.9,172.23 L364.4,171.38 L364.9,170.49 L365.4,169.57 L365.9,168.62 L366.4,167.65 L366.9,166.66 L367.4,165.65 L367.9,164.63 L368.4,163.61 L368.9,162.6 L369.4,161.59 L369.9,160.59 L370.4,159.62 L370.9,158.68 L371.4,157.78 L371.9,156.92 L372.4,156.12 L372.9,155.37 L373.4,154.68 L373.9,154.07 L374.4,153.53 L374.9,153.07 L375.4,152.7 L375.9,152.41 L376.4,152.22 L376.9,152.12 L377.4,152.11 L377.9,152.21 L378.4,152.41 L378.9,152.71 L379.4,153.12 L379.9,153.63 L380.4,154.22 L380.9,154.9 L381.4,155.66 L381.9,156.49 L382.4,157.38 L382.9,158.33 L383.4,159.32 L383.9,160.36 L384.4,161.42 L384.9,162.49 L385.4,163.58 L385.9,164.68 L386.4,165.77 L386.9,166.84 L387.4,167.9 L387.9,168.94 L388.4,169.94 L388.9,170.91 L389.4,171.85 L389.9,172.74 L390.4,173.59 L390.9,174.39 L391.4,175.14 L391.9,175.85 L392.4,176.51 L392.9,177.12 L393.4,177.68 L393.9,178.2 L394.4,178.68 L394.9,179.11 L395.4,179.5 L395.9,179.86 L396.4,180.18 L396.9,180.46 L397.4,180.72 L397.9,180.95 L398.4,181.15 L398.9,181.32 L399.4,181.48 L399.9,181.61 L400.4,181.73 L400.9,181.83 L401.4,181.92 L401.9,182 L402.4,182.06 L402.9,182.12 L403.4,182.17 L403.9,182.21 L404.4,182.24 L404.9,182.27 L405.4,182.29 L405.9,182.31 L406.4,182.33 L406.9,182.34 L406.9,182.4 Z" fill="#9466dc" fill-opacity="1" stroke="#9466dc" stroke-width="0.4"/>
<path d="M314.4,182.4 L314.4,182.35 L314.9,182.34 L315.4,182.33 L315.9,182.32 L316.4,182.3 L316.9,182.29 L317.4,182.27 L317.9,182.25 L318.4,182.22 L318.9,182.2 L319.4,182.17 L319.9,182.13 L320.4,182.09 L320.9,182.05 L321.4,182 L321.9,181.94 L322.4,181.88 L322.9,181.81 L323.4,181.74 L323.9,181.65 L324.4,181.56 L324.9,181.46 L325.4,181.34 L325.9,181.22 L326.4,181.08 L326.9,180.93 L327.4,180.77 L327.9,180.6 L328.4,180.41 L328.9,180.2 L329.4,179.98 L329.9,179.75 L330.4,179.49 L330.9,179.22 L331.4,178.94 L331.9,178.63 L332.4,178.31 L332.9,177.97 L333.4,177.62 L333.9,177.25 L334.4,176.86 L334.9,176.45 L335.4,176.03 L335.9,175.6 L336.4,175.15 L336.9,174.69 L337.4,174.22 L337.9,173.74 L338.4,173.25 L338.9,172.76 L339.4,172.27 L339.9,171.77 L340.4,171.27 L340.9,170.78 L341.4,170.29 L341.9,169.82 L342.4,169.35 L342.9,168.89 L343.4,168.45 L343.9,168.03 L344.4,167.63 L344.9,167.26 L345.4,166.91 L345.9,166.58 L346.4,166.29 L346.9,166.03 L347.4,165.8 L347.9,165.61 L348.4,165.45 L348.9,165.33 L349.4,165.25 L349.9,165.21 L350.4,165.2 L350.9,165.24 L351.4,165.31 L351.9,165.42 L352.4,165.57 L352.9,165.76 L353.4,165.98 L353.9,166.24 L354.4,166.52 L354.9,166.84 L355.4,167.19 L355.9,167.56 L356.4,167.95 L356.9,168.37 L357.4,168.8 L357.9,169.26 L358.4,169.72 L358.9,170.2 L359.4,170.68 L359.9,171.17 L360.4,171.67 L360.9,172.17 L361.4,172.66 L361.9,173.15 L362.4,173.64 L362.9,174.12 L363.4,174.6 L363.9,175.06 L364.4,175.51 L364.9,175.94 L365.4,176.37 L365.9,176.78 L366.4,177.17 L366.9,177.54 L367.4,177.9 L367.9,178.25 L368.4,178.57 L368.9,178.88 L369.4,179.17 L369.9,179.44 L370.4,179.7 L370.9,179.94 L371.4,180.16 L371.9,180.37 L372.4,180.56 L372.9,180.74 L373.4,180.9 L373.9,181.05 L374.4,181.19 L374.9,181.32 L375.4,181.43 L375.9,181.54 L376.4,181.64 L376.9,181.72 L377.4,181.8 L377.9,181.87 L378.4,181.93 L378.9,181.99 L379.4,182.04 L379.9,182.09 L380.4,182.13 L380.9,182.16 L381.4,182.19 L381.9,182.22 L382.4,182.24 L382.9,182.27 L383.4,182.28 L383.9,182.3 L384.4,182.31 L384.9,182.33 L385.4,182.34 L385.9,182.35 L385.9,182.4 Z" fill="#e98ed9" fill-opacity="0.88" stroke="#e98ed9" stroke-width="0.4"/>
<path d="M349.9,182.1 L350.4,182.04 L350.9,181.98 L351.4,181.9 L351.9,181.82 L352.4,181.72 L352.9,181.61 L353.4,181.48 L353.9,181.34 L354.4,181.18 L354.9,180.99 L355.4,180.79 L355.9,180.56 L356.4,180.3 L356.9,180.02 L357.4,179.71 L357.9,179.36 L358.4,178.98 L358.9,178.57 L359.4,178.11 L359.9,177.62 L360.4,177.09 L360.9,176.52 L361.4,175.91 L361.9,175.26 L362.4,174.56 L362.9,173.82 L363.4,173.05 L363.9,172.23 L364.4,171.38 L364.9,170.49 L365.4,169.57 L365.9,168.62 L366.4,167.65 L366.9,166.66 L367.4,165.65 L367.9,164.63 L368.4,163.61 L368.9,162.6 L369.4,161.59 L369.9,160.59 L370.4,159.62 L370.9,158.68 L371.4,157.78 L371.9,156.92 L372.4,156.12 L372.9,155.37 L373.4,154.68 L373.9,154.07 L374.4,153.53 L374.9,153.07 L375.4,152.7 L375.9,152.41 L376.4,152.22 L376.9,152.12 L377.4,152.11 L377.9,152.21 L378.4,152.41 L378.9,152.71 L379.4,153.12 L379.9,153.63 L380.4,154.22 L380.9,154.9 L381.4,155.66 L381.9,156.49 L382.4,157.38 L382.9,158.33 L383.4,159.32 L383.9,160.36 L384.4,161.42 L384.9,162.49 L385.4,163.58 L385.9,164.68 L386.4,165.77 L386.9,166.84 L387.4,167.9 L387.9,168.94 L388.4,169.94 L388.9,170.91 L389.4,171.85 L389.9,172.74 L390.4,173.59 L390.9,174.39 L391.4,175.14 L391.9,175.85 L392.4,176.51 L392.9,177.12 L393.4,177.68 L393.9,178.2 L394.4,178.68 L394.9,179.11 L395.4,179.5 L395.9,179.86 L396.4,180.18 L396.9,180.46 L397.4,180.72 L397.9,180.95 L398.4,181.15 L398.9,181.32 L399.4,181.48 L399.9,181.61 L400.4,181.73 L400.9,181.83 L401.4,181.92 L401.9,182 L402.4,182.06" fill="none" stroke="#8a5cd6" stroke-width="0.6" stroke-opacity="0.9"/>
<path d="M320.4,182.09 L320.9,182.05 L321.4,182 L321.9,181.94 L322.4,181.88 L322.9,181.81 L323.4,181.74 L323.9,181.65 L324.4,181.56 L324.9,181.46 L325.4,181.34 L325.9,181.22 L326.4,181.08 L326.9,180.93 L327.4,180.77 L327.9,180.6 L328.4,180.41 L328.9,180.2 L329.4,179.98 L329.9,179.75 L330.4,179.49 L330.9,179.22 L331.4,178.94 L331.9,178.63 L332.4,178.31 L332.9,177.97 L333.4,177.62 L333.9,177.25 L334.4,176.86 L334.9,176.45 L335.4,176.03 L335.9,175.6 L336.4,175.15 L336.9,174.69 L337.4,174.22 L337.9,173.74 L338.4,173.25 L338.9,172.76 L339.4,172.27 L339.9,171.77 L340.4,171.27 L340.9,170.78 L341.4,170.29 L341.9,169.82 L342.4,169.35 L342.9,168.89 L343.4,168.45 L343.9,168.03 L344.4,167.63 L344.9,167.26 L345.4,166.91 L345.9,166.58 L346.4,166.29 L346.9,166.03 L347.4,165.8 L347.9,165.61 L348.4,165.45 L348.9,165.33 L349.4,165.25 L349.9,165.21 L350.4,165.2 L350.9,165.24 L351.4,165.31 L351.9,165.42 L352.4,165.57 L352.9,165.76 L353.4,165.98 L353.9,166.24 L354.4,166.52 L354.9,166.84 L355.4,167.19 L355.9,167.56 L356.4,167.95 L356.9,168.37 L357.4,168.8 L357.9,169.26 L358.4,169.72 L358.9,170.2 L359.4,170.68 L359.9,171.17 L360.4,171.67 L360.9,172.17 L361.4,172.66 L361.9,173.15 L362.4,173.64 L362.9,174.12 L363.4,174.6 L363.9,175.06 L364.4,175.51 L364.9,175.94 L365.4,176.37 L365.9,176.78 L366.4,177.17 L366.9,177.54 L367.4,177.9 L367.9,178.25 L368.4,178.57 L368.9,178.88 L369.4,179.17 L369.9,179.44 L370.4,179.7 L370.9,179.94 L371.4,180.16 L371.9,180.37 L372.4,180.56 L372.9,180.74 L373.4,180.9 L373.9,181.05 L374.4,181.19 L374.9,181.32 L375.4,181.43 L375.9,181.54 L376.4,181.64 L376.9,181.72 L377.4,181.8 L377.9,181.87 L378.4,181.93 L378.9,181.99 L379.4,182.04 L379.9,182.09" fill="none" stroke="#d77fd0" stroke-width="0.6" stroke-opacity="0.8"/>
<path d="M323.9,181.65 L324.4,181.56 L324.9,181.46 L325.4,181.34 L325.9,181.22 L326.4,181.08 L326.9,180.93 L327.4,180.77 L327.9,180.6 L328.4,180.41 L328.9,180.2 L329.4,179.98 L329.9,179.75 L330.4,179.49 L330.9,179.22 L331.4,178.94 L331.9,178.63 L332.4,178.31 L332.9,177.97 L333.4,177.62 L333.9,177.24 L334.4,176.86 L334.9,176.45 L335.4,176.03 L335.9,175.6 L336.4,175.15 L336.9,174.69 L337.4,174.22 L337.9,173.74 L338.4,173.25 L338.9,172.76 L339.4,172.26 L339.9,171.76 L340.4,171.27 L340.9,170.77 L341.4,170.28 L341.9,169.8 L342.4,169.33 L342.9,168.87 L343.4,168.43 L343.9,168 L344.4,167.59 L344.9,167.21 L345.4,166.85 L345.9,166.51 L346.4,166.2 L346.9,165.92 L347.4,165.67 L347.9,165.46 L348.4,165.27 L348.9,165.12 L349.4,164.99 L349.9,164.9 L350.4,164.84 L350.9,164.81 L351.4,164.81 L351.9,164.84 L352.4,164.89 L352.9,164.97 L353.4,165.06 L353.9,165.17 L354.4,165.3 L354.9,165.43 L355.4,165.57 L355.9,165.71 L356.4,165.85 L356.9,165.99 L357.4,166.11 L357.9,166.22 L358.4,166.3 L358.9,166.36 L359.4,166.4 L359.9,166.4 L360.4,166.36 L360.9,166.29 L361.4,166.17 L361.9,166.01 L362.4,165.8 L362.9,165.55 L363.4,165.24 L363.9,164.89 L364.4,164.49 L364.9,164.04 L365.4,163.54 L365.9,163 L366.4,162.42 L366.9,161.8 L367.4,161.16 L367.9,160.48 L368.4,159.78 L368.9,159.07 L369.4,158.35 L369.9,157.63 L370.4,156.92 L370.9,156.22 L371.4,155.54 L371.9,154.89 L372.4,154.28 L372.9,153.71 L373.4,153.19 L373.9,152.72 L374.4,152.32 L374.9,151.99 L375.4,151.73 L375.9,151.55 L376.4,151.45 L376.9,151.44 L377.4,151.51 L377.9,151.68 L378.4,151.94 L378.9,152.3 L379.4,152.76 L379.9,153.31 L380.4,153.95 L380.9,154.66 L381.4,155.45 L381.9,156.31 L382.4,157.23 L382.9,158.2 L383.4,159.21 L383.9,160.26 L384.4,161.33 L384.9,162.42 L385.4,163.52 L385.9,164.63 L386.4,165.72 L386.9,166.81 L387.4,167.87 L387.9,168.91 L388.4,169.92 L388.9,170.89 L389.4,171.83 L389.9,172.72 L390.4,173.57 L390.9,174.38 L391.4,175.13 L391.9,175.84 L392.4,176.5 L392.9,177.11 L393.4,177.68 L393.9,178.2 L394.4,178.67 L394.9,179.11 L395.4,179.5 L395.9,179.86 L396.4,180.18 L396.9,180.46 L397.4,180.72 L397.9,180.94 L398.4,181.15 L398.9,181.32 L399.4,181.48 L399.9,181.61" fill="none" stroke="#e81414" stroke-width="1.4" stroke-linejoin="round" stroke-linecap="round"/>
<line x1="304.4" y1="183.3" x2="407.4" y2="183.3" stroke="#a8e6f0" stroke-width="0.9"/>
<line x1="304.4" y1="182.4" x2="407.4" y2="182.4" stroke="#5b9bd5" stroke-width="1.2"/>
<g fill="#222"><circle cx="305.2" cy="182.46" r="0.55"/><circle cx="307.8" cy="182.32" r="0.55"/><circle cx="310.4" cy="181.81" r="0.55"/><circle cx="313" cy="182.17" r="0.55"/><circle cx="315.6" cy="182.47" r="0.55"/><circle cx="318.2" cy="182.25" r="0.55"/><circle cx="320.8" cy="181.54" r="0.55"/><circle cx="323.4" cy="182.32" r="0.55"/><circle cx="326" cy="181.54" r="0.55"/><circle cx="328.6" cy="180.89" r="0.55"/><circle cx="331.2" cy="178.58" r="0.55"/><circle cx="333.8" cy="177.04" r="0.55"/><circle cx="336.4" cy="174.59" r="0.55"/><circle cx="339" cy="172.99" r="0.55"/><circle cx="341.6" cy="169.81" r="0.55"/><circle cx="344.2" cy="167.31" r="0.55"/><circle cx="346.8" cy="165.88" r="0.55"/><circle cx="349.4" cy="165.49" r="0.55"/><circle cx="352" cy="165.23" r="0.55"/><circle cx="354.6" cy="165.06" r="0.55"/><circle cx="357.2" cy="165.64" r="0.55"/><circle cx="359.8" cy="166.9" r="0.55"/><circle cx="362.4" cy="165.89" r="0.55"/><circle cx="365" cy="164.18" r="0.55"/><circle cx="367.6" cy="160.4" r="0.55"/><circle cx="370.2" cy="156.67" r="0.55"/><circle cx="372.8" cy="154.04" r="0.55"/><circle cx="375.4" cy="151.64" r="0.55"/><circle cx="378" cy="151.21" r="0.55"/><circle cx="380.6" cy="154.75" r="0.55"/><circle cx="383.2" cy="158.96" r="0.55"/><circle cx="385.8" cy="164.77" r="0.55"/><circle cx="388.4" cy="169.42" r="0.55"/><circle cx="391" cy="174.96" r="0.55"/><circle cx="393.6" cy="177.37" r="0.55"/><circle cx="396.2" cy="180.49" r="0.55"/><circle cx="398.8" cy="181.23" r="0.55"/><circle cx="401.4" cy="181.73" r="0.55"/><circle cx="404" cy="182.28" r="0.55"/><circle cx="406.6" cy="182.85" r="0.55"/></g>
</g>
<rect x="304.4" y="130.4" width="103" height="54.5" fill="none" stroke="#6f6f6f" stroke-width="1"/>
<line x1="302.4" y1="182.4" x2="304.4" y2="182.4" stroke="#333" stroke-width="0.7"/>
<text x="300.9" y="184.5" text-anchor="end" font-family="DejaVu Sans, Liberation Sans, sans-serif" font-size="5.7" fill="#2a2a2a" stroke="#2a2a2a" stroke-width="0.18" textLength="2.7" lengthAdjust="spacingAndGlyphs">0</text>
<line x1="302.4" y1="160.6" x2="304.4" y2="160.6" stroke="#333" stroke-width="0.7"/>
<text x="300.9" y="162.7" text-anchor="end" font-family="DejaVu Sans, Liberation Sans, sans-serif" font-size="5.7" fill="#2a2a2a" stroke="#2a2a2a" stroke-width="0.18" textLength="11.8" lengthAdjust="spacingAndGlyphs">2500</text>
<line x1="302.4" y1="138.8" x2="304.4" y2="138.8" stroke="#333" stroke-width="0.7"/>
<text x="300.9" y="140.9" text-anchor="end" font-family="DejaVu Sans, Liberation Sans, sans-serif" font-size="5.7" fill="#2a2a2a" stroke="#2a2a2a" stroke-width="0.18" textLength="11.8" lengthAdjust="spacingAndGlyphs">5000</text>
<text x="397.1" y="149.6" text-anchor="middle" font-family="DejaVu Sans, Liberation Sans, sans-serif" font-size="5.8" fill="#333" stroke="#333" stroke-width="0.12" textLength="9.8" lengthAdjust="spacingAndGlyphs">00Si</text>
<line x1="304.6" y1="184.9" x2="304.6" y2="186.9" stroke="#333" stroke-width="0.7"/>
<text x="304.6" y="192.8" text-anchor="middle" font-family="DejaVu Sans, Liberation Sans, sans-serif" font-size="5.8" fill="#2a2a2a" stroke="#2a2a2a" stroke-width="0.15" textLength="8.8" lengthAdjust="spacingAndGlyphs">692</text>
<line x1="325.0" y1="184.9" x2="325.0" y2="186.9" stroke="#333" stroke-width="0.7"/>
<text x="325" y="192.8" text-anchor="middle" font-family="DejaVu Sans, Liberation Sans, sans-serif" font-size="5.8" fill="#2a2a2a" stroke="#2a2a2a" stroke-width="0.15" textLength="8.8" lengthAdjust="spacingAndGlyphs">690</text>
<line x1="345.4" y1="184.9" x2="345.4" y2="186.9" stroke="#333" stroke-width="0.7"/>
<text x="345.4" y="192.8" text-anchor="middle" font-family="DejaVu Sans, Liberation Sans, sans-serif" font-size="5.8" fill="#2a2a2a" stroke="#2a2a2a" stroke-width="0.15" textLength="8.8" lengthAdjust="spacingAndGlyphs">688</text>
<line x1="365.8" y1="184.9" x2="365.8" y2="186.9" stroke="#333" stroke-width="0.7"/>
<text x="365.8" y="192.8" text-anchor="middle" font-family="DejaVu Sans, Liberation Sans, sans-serif" font-size="5.8" fill="#2a2a2a" stroke="#2a2a2a" stroke-width="0.15" textLength="8.8" lengthAdjust="spacingAndGlyphs">686</text>
<line x1="386.2" y1="184.9" x2="386.2" y2="186.9" stroke="#333" stroke-width="0.7"/>
<text x="386.2" y="192.8" text-anchor="middle" font-family="DejaVu Sans, Liberation Sans, sans-serif" font-size="5.8" fill="#2a2a2a" stroke="#2a2a2a" stroke-width="0.15" textLength="8.8" lengthAdjust="spacingAndGlyphs">684</text>
<line x1="406.6" y1="184.9" x2="406.6" y2="186.9" stroke="#333" stroke-width="0.7"/>
<text x="406.6" y="192.8" text-anchor="middle" font-family="DejaVu Sans, Liberation Sans, sans-serif" font-size="5.8" fill="#2a2a2a" stroke="#2a2a2a" stroke-width="0.15" textLength="8.8" lengthAdjust="spacingAndGlyphs">682</text>
<text x="355.9" y="199.5" text-anchor="middle" font-family="DejaVu Sans, Liberation Sans, sans-serif" font-size="5.6" fill="#222" stroke="#222" stroke-width="0.1" textLength="47" lengthAdjust="spacingAndGlyphs">Binding Energy(eV)</text>
<text x="475.7" y="17.8" text-anchor="middle" font-family="DejaVu Sans, Liberation Sans, sans-serif" font-size="8.0" fill="#1a1a1a" stroke="#1a1a1a" stroke-width="0.2" textLength="13.4" lengthAdjust="spacingAndGlyphs">P2p</text>
<g clip-path="url(#clip30)">
<path d="M443.83,70.8 L443.83,70.74 L444.34,70.73 L444.84,70.72 L445.34,70.71 L445.84,70.69 L446.34,70.68 L446.84,70.66 L447.34,70.64 L447.84,70.61 L448.34,70.59 L448.84,70.55 L449.35,70.52 L449.85,70.48 L450.35,70.44 L450.85,70.39 L451.35,70.33 L451.85,70.27 L452.35,70.2 L452.85,70.12 L453.35,70.04 L453.85,69.95 L454.36,69.84 L454.86,69.73 L455.36,69.61 L455.86,69.47 L456.36,69.32 L456.86,69.16 L457.36,68.98 L457.86,68.79 L458.36,68.59 L458.86,68.37 L459.37,68.13 L459.87,67.87 L460.37,67.59 L460.87,67.3 L461.37,66.99 L461.87,66.65 L462.37,66.3 L462.87,65.92 L463.37,65.53 L463.87,65.12 L464.37,64.68 L464.88,64.22 L465.38,63.75 L465.88,63.26 L466.38,62.74 L466.88,62.21 L467.38,61.66 L467.88,61.1 L468.38,60.52 L468.88,59.93 L469.38,59.33 L469.89,58.73 L470.39,58.11 L470.89,57.49 L471.39,56.86 L471.89,56.24 L472.39,55.62 L472.89,55 L473.39,54.4 L473.89,53.8 L474.39,53.21 L474.9,52.65 L475.4,52.1 L475.9,51.57 L476.4,51.07 L476.9,50.59 L477.4,50.15 L477.9,49.74 L478.4,49.36 L478.9,49.02 L479.4,48.72 L479.9,48.46 L480.41,48.24 L480.91,48.06 L481.41,47.93 L481.91,47.84 L482.41,47.8 L482.91,47.81 L483.41,47.86 L483.91,47.96 L484.41,48.11 L484.91,48.3 L485.42,48.54 L485.92,48.82 L486.42,49.14 L486.92,49.51 L487.42,49.9 L487.92,50.34 L488.42,50.81 L488.92,51.3 L489.42,51.83 L489.92,52.37 L490.43,52.94 L490.93,53.53 L491.43,54.13 L491.93,54.75 L492.43,55.37 L492.93,56 L493.43,56.64 L493.93,57.27 L494.43,57.9 L494.93,58.53 L495.43,59.16 L495.94,59.77 L496.44,60.37 L496.94,60.96 L497.44,61.54 L497.94,62.1 L498.44,62.65 L498.94,63.17 L499.44,63.68 L499.94,64.16 L500.44,64.63 L500.95,65.08 L501.45,65.5 L501.95,65.9 L502.45,66.28 L502.95,66.64 L503.45,66.98 L503.95,67.3 L504.45,67.6 L504.95,67.88 L505.45,68.14 L505.96,68.39 L506.46,68.61 L506.96,68.82 L507.46,69.01 L507.96,69.19 L508.46,69.35 L508.96,69.5 L509.46,69.63 L509.96,69.76 L510.46,69.87 L510.97,69.97 L511.47,70.06 L511.97,70.15 L512.47,70.22 L512.97,70.29 L513.47,70.35 L513.97,70.41 L514.47,70.45 L514.97,70.5 L515.47,70.54 L515.97,70.57 L516.48,70.6 L516.98,70.63 L517.48,70.65 L517.98,70.67 L518.48,70.69 L518.98,70.7 L519.48,70.72 L519.98,70.73 L520.48,70.74 L520.98,70.75 L520.98,70.8 Z" fill="#72e3e6" fill-opacity="1" stroke="#72e3e6" stroke-width="0.4"/>
<path d="M446.84,70.8 L446.84,70.75 L447.34,70.74 L447.84,70.72 L448.34,70.71 L448.84,70.69 L449.35,70.67 L449.85,70.64 L450.35,70.61 L450.85,70.58 L451.35,70.54 L451.85,70.49 L452.35,70.44 L452.85,70.38 L453.35,70.32 L453.85,70.25 L454.36,70.17 L454.86,70.09 L455.36,70 L455.86,69.9 L456.36,69.79 L456.86,69.68 L457.36,69.56 L457.86,69.44 L458.36,69.31 L458.86,69.17 L459.37,69.03 L459.87,68.9 L460.37,68.76 L460.87,68.62 L461.37,68.48 L461.87,68.35 L462.37,68.23 L462.87,68.11 L463.37,68 L463.87,67.9 L464.37,67.82 L464.88,67.74 L465.38,67.68 L465.88,67.64 L466.38,67.61 L466.88,67.6 L467.38,67.6 L467.88,67.63 L468.38,67.66 L468.88,67.71 L469.38,67.78 L469.89,67.86 L470.39,67.95 L470.89,68.06 L471.39,68.17 L471.89,68.29 L472.39,68.42 L472.89,68.55 L473.39,68.69 L473.89,68.83 L474.39,68.97 L474.9,69.11 L475.4,69.24 L475.9,69.37 L476.4,69.5 L476.9,69.62 L477.4,69.74 L477.9,69.85 L478.4,69.95 L478.9,70.05 L479.4,70.13 L479.9,70.22 L480.41,70.29 L480.91,70.36 L481.41,70.42 L481.91,70.47 L482.41,70.52 L482.91,70.56 L483.41,70.6 L483.91,70.63 L484.41,70.66 L484.91,70.68 L485.42,70.7 L485.92,70.72 L486.42,70.73 L486.92,70.74 L486.92,70.8 Z" fill="#f08ad8" fill-opacity="0.95" stroke="#f08ad8" stroke-width="0.4"/>
<path d="M444.84,70.8 L444.84,70.75 L445.34,70.74 L445.84,70.74 L446.34,70.73 L446.84,70.72 L447.34,70.72 L447.84,70.71 L448.34,70.7 L448.84,70.7 L449.35,70.69 L449.85,70.68 L450.35,70.67 L450.85,70.66 L451.35,70.65 L451.85,70.64 L452.35,70.63 L452.85,70.62 L453.35,70.61 L453.85,70.6 L454.36,70.58 L454.86,70.57 L455.36,70.56 L455.86,70.54 L456.36,70.53 L456.86,70.51 L457.36,70.5 L457.86,70.48 L458.36,70.46 L458.86,70.45 L459.37,70.43 L459.87,70.41 L460.37,70.39 L460.87,70.37 L461.37,70.36 L461.87,70.34 L462.37,70.32 L462.87,70.3 L463.37,70.28 L463.87,70.26 L464.37,70.24 L464.88,70.22 L465.38,70.2 L465.88,70.18 L466.38,70.16 L466.88,70.14 L467.38,70.13 L467.88,70.11 L468.38,70.09 L468.88,70.07 L469.38,70.06 L469.89,70.04 L470.39,70.02 L470.89,70.01 L471.39,69.99 L471.89,69.98 L472.39,69.97 L472.89,69.96 L473.39,69.95 L473.89,69.94 L474.39,69.93 L474.9,69.92 L475.4,69.92 L475.9,69.91 L476.4,69.91 L476.9,69.9 L477.4,69.9 L477.9,69.9 L478.4,69.9 L478.9,69.9 L479.4,69.9 L479.9,69.91 L480.41,69.91 L480.91,69.92 L481.41,69.93 L481.91,69.93 L482.41,69.94 L482.91,69.95 L483.41,69.96 L483.91,69.98 L484.41,69.99 L484.91,70 L485.42,70.02 L485.92,70.03 L486.42,70.05 L486.92,70.07 L487.42,70.08 L487.92,70.1 L488.42,70.12 L488.92,70.14 L489.42,70.15 L489.92,70.17 L490.43,70.19 L490.93,70.21 L491.43,70.23 L491.93,70.25 L492.43,70.27 L492.93,70.29 L493.43,70.31 L493.93,70.33 L494.43,70.35 L494.93,70.37 L495.43,70.39 L495.94,70.4 L496.44,70.42 L496.94,70.44 L497.44,70.46 L497.94,70.47 L498.44,70.49 L498.94,70.51 L499.44,70.52 L499.94,70.54 L500.44,70.55 L500.95,70.57 L501.45,70.58 L501.95,70.59 L502.45,70.6 L502.95,70.62 L503.45,70.63 L503.95,70.64 L504.45,70.65 L504.95,70.66 L505.45,70.67 L505.96,70.68 L506.46,70.69 L506.96,70.69 L507.46,70.7 L507.96,70.71 L508.46,70.72 L508.96,70.72 L509.46,70.73 L509.96,70.73 L510.46,70.74 L510.97,70.74 L511.47,70.75 L511.47,70.8 Z" fill="#f5a623" fill-opacity="1" stroke="#f5a623" stroke-width="0.4"/>
<path d="M451.85,69.8 L452.35,69.67 L452.85,69.53 L453.35,69.37 L453.85,69.19 L454.36,68.99 L454.86,68.78 L455.36,68.54 L455.86,68.29 L456.36,68.01 L456.86,67.71 L457.36,67.39 L457.86,67.05 L458.36,66.68 L458.86,66.28 L459.37,65.86 L459.87,65.42 L460.37,64.96 L460.87,64.47 L461.37,63.96 L461.87,63.42 L462.37,62.87 L462.87,62.3 L463.37,61.71 L463.87,61.11 L464.37,60.5 L464.88,59.88 L465.38,59.25 L465.88,58.62 L466.38,57.99 L466.88,57.37 L467.38,56.75 L467.88,56.14 L468.38,55.54 L468.88,54.95 L469.38,54.38 L469.89,53.83 L470.39,53.29 L470.89,52.77 L471.39,52.28 L471.89,51.8 L472.39,51.34 L472.89,50.9 L473.39,50.48 L473.89,50.08 L474.39,49.7 L474.9,49.33 L475.4,48.98 L475.9,48.66 L476.4,48.35 L476.9,48.06 L477.4,47.79 L477.9,47.54 L478.4,47.32 L478.9,47.12 L479.4,46.95 L479.9,46.81 L480.41,46.7 L480.91,46.62 L481.41,46.58 L481.91,46.58 L482.41,46.61 L482.91,46.68" fill="none" stroke="#e81414" stroke-width="1.2" stroke-linejoin="round" stroke-linecap="round"/>
<line x1="425.8" y1="70.8" x2="529.0" y2="70.8" stroke="#e07fc8" stroke-width="0.8"/>
<path d="M426.6,70.33 L427.9,70.06 L429.2,70.85 L430.5,70.27 L431.8,70.01 L433.1,70.12 L434.4,69.89 L435.7,70.19 L437,70.41 L438.3,70.38 L439.6,71.28 L440.9,70.33 L442.2,70.73 L443.5,70.05 L444.8,70.34 L446.1,69.62 L447.4,69.99 L448.7,69.39 L450,70.64 L451.3,70.03 L452.6,68.98 L453.9,69.12 L455.2,69.49 L456.5,67.14 L457.8,67.73 L459.1,65.95 L460.4,64.91 L461.7,64.27 L463,61.94 L464.3,60.61 L465.6,59.35 L466.9,58.31 L468.2,55.44 L469.5,54.91 L470.8,53.28 L472.1,51.87 L473.4,50.28 L474.7,49.17 L476,47.7 L477.3,47.1 L478.6,46.38 L479.9,47.29 L481.2,46.11 L482.5,45.94 L483.8,46.07 L485.1,48.15 L486.4,49.05 L487.7,49.73 L489,50.26 L490.3,51.66 L491.6,53.36 L492.9,55.37 L494.2,56.46 L495.5,58.72 L496.8,59.96 L498.1,62.88 L499.4,64.3 L500.7,64.71 L502,65.23 L503.3,67.64 L504.6,67.16 L505.9,67.95 L507.2,67.81 L508.5,69.04 L509.8,69.6 L511.1,69.95 L512.4,69.57 L513.7,70.35 L515,69.48 L516.3,70.1 L517.6,69.82 L518.9,70.49 L520.2,69.81 L521.5,69.79 L522.8,70.37 L524.1,70.24 L525.4,70.96 L526.7,70.85 L528,71.29" fill="none" stroke="#333" stroke-width="0.45" stroke-dasharray="1.2 1.0"/>
<g fill="#111"><circle cx="426.6" cy="70.33" r="0.65"/><circle cx="427.9" cy="70.06" r="0.65"/><circle cx="429.2" cy="70.85" r="0.65"/><circle cx="430.5" cy="70.27" r="0.65"/><circle cx="431.8" cy="70.01" r="0.65"/><circle cx="433.1" cy="70.12" r="0.65"/><circle cx="434.4" cy="69.89" r="0.65"/><circle cx="435.7" cy="70.19" r="0.65"/><circle cx="437" cy="70.41" r="0.65"/><circle cx="438.3" cy="70.38" r="0.65"/><circle cx="439.6" cy="71.28" r="0.65"/><circle cx="440.9" cy="70.33" r="0.65"/><circle cx="442.2" cy="70.73" r="0.65"/><circle cx="443.5" cy="70.05" r="0.65"/><circle cx="444.8" cy="70.34" r="0.65"/><circle cx="446.1" cy="69.62" r="0.65"/><circle cx="447.4" cy="69.99" r="0.65"/><circle cx="448.7" cy="69.39" r="0.65"/><circle cx="450" cy="70.64" r="0.65"/><circle cx="451.3" cy="70.03" r="0.65"/><circle cx="452.6" cy="68.98" r="0.65"/><circle cx="453.9" cy="69.12" r="0.65"/><circle cx="455.2" cy="69.49" r="0.65"/><circle cx="456.5" cy="67.14" r="0.65"/><circle cx="457.8" cy="67.73" r="0.65"/><circle cx="459.1" cy="65.95" r="0.65"/><circle cx="460.4" cy="64.91" r="0.65"/><circle cx="461.7" cy="64.27" r="0.65"/><circle cx="463" cy="61.94" r="0.65"/><circle cx="464.3" cy="60.61" r="0.65"/><circle cx="465.6" cy="59.35" r="0.65"/><circle cx="466.9" cy="58.31" r="0.65"/><circle cx="468.2" cy="55.44" r="0.65"/><circle cx="469.5" cy="54.91" r="0.65"/><circle cx="470.8" cy="53.28" r="0.65"/><circle cx="472.1" cy="51.87" r="0.65"/><circle cx="473.4" cy="50.28" r="0.65"/><circle cx="474.7" cy="49.17" r="0.65"/><circle cx="476" cy="47.7" r="0.65"/><circle cx="477.3" cy="47.1" r="0.65"/><circle cx="478.6" cy="46.38" r="0.65"/><circle cx="479.9" cy="47.29" r="0.65"/><circle cx="481.2" cy="46.11" r="0.65"/><circle cx="482.5" cy="45.94" r="0.65"/><circle cx="483.8" cy="46.07" r="0.65"/><circle cx="485.1" cy="48.15" r="0.65"/><circle cx="486.4" cy="49.05" r="0.65"/><circle cx="487.7" cy="49.73" r="0.65"/><circle cx="489" cy="50.26" r="0.65"/><circle cx="490.3" cy="51.66" r="0.65"/><circle cx="491.6" cy="53.36" r="0.65"/><circle cx="492.9" cy="55.37" r="0.65"/><circle cx="494.2" cy="56.46" r="0.65"/><circle cx="495.5" cy="58.72" r="0.65"/><circle cx="496.8" cy="59.96" r="0.65"/><circle cx="498.1" cy="62.88" r="0.65"/><circle cx="499.4" cy="64.3" r="0.65"/><circle cx="500.7" cy="64.71" r="0.65"/><circle cx="502" cy="65.23" r="0.65"/><circle cx="503.3" cy="67.64" r="0.65"/><circle cx="504.6" cy="67.16" r="0.65"/><circle cx="505.9" cy="67.95" r="0.65"/><circle cx="507.2" cy="67.81" r="0.65"/><circle cx="508.5" cy="69.04" r="0.65"/><circle cx="509.8" cy="69.6" r="0.65"/><circle cx="511.1" cy="69.95" r="0.65"/><circle cx="512.4" cy="69.57" r="0.65"/><circle cx="513.7" cy="70.35" r="0.65"/><circle cx="515" cy="69.48" r="0.65"/><circle cx="516.3" cy="70.1" r="0.65"/><circle cx="517.6" cy="69.82" r="0.65"/><circle cx="518.9" cy="70.49" r="0.65"/><circle cx="520.2" cy="69.81" r="0.65"/><circle cx="521.5" cy="69.79" r="0.65"/><circle cx="522.8" cy="70.37" r="0.65"/><circle cx="524.1" cy="70.24" r="0.65"/><circle cx="525.4" cy="70.96" r="0.65"/><circle cx="526.7" cy="70.85" r="0.65"/><circle cx="528" cy="71.29" r="0.65"/></g>
</g>
<rect x="425.8" y="21.0" width="103.2" height="54.4" fill="none" stroke="#6f6f6f" stroke-width="1"/>
<line x1="423.8" y1="70.8" x2="425.8" y2="70.8" stroke="#333" stroke-width="0.7"/>
<text x="422.3" y="72.9" text-anchor="end" font-family="DejaVu Sans, Liberation Sans, sans-serif" font-size="5.7" fill="#2a2a2a" stroke="#2a2a2a" stroke-width="0.18" textLength="2.7" lengthAdjust="spacingAndGlyphs">0</text>
<line x1="423.8" y1="47.9" x2="425.8" y2="47.9" stroke="#333" stroke-width="0.7"/>
<text x="422.3" y="50" text-anchor="end" font-family="DejaVu Sans, Liberation Sans, sans-serif" font-size="5.7" fill="#2a2a2a" stroke="#2a2a2a" stroke-width="0.18" textLength="8.0" lengthAdjust="spacingAndGlyphs">200</text>
<line x1="423.8" y1="25" x2="425.8" y2="25" stroke="#333" stroke-width="0.7"/>
<text x="422.3" y="27.1" text-anchor="end" font-family="DejaVu Sans, Liberation Sans, sans-serif" font-size="5.7" fill="#2a2a2a" stroke="#2a2a2a" stroke-width="0.18" textLength="8.0" lengthAdjust="spacingAndGlyphs">400</text>
<text x="518.7" y="40.2" text-anchor="middle" font-family="DejaVu Sans, Liberation Sans, sans-serif" font-size="5.8" fill="#333" stroke="#333" stroke-width="0.12" textLength="9.8" lengthAdjust="spacingAndGlyphs">30Si</text>
<g clip-path="url(#clip31)">
<path d="M446.34,125.6 L446.34,125.55 L446.84,125.54 L447.34,125.53 L447.84,125.52 L448.34,125.5 L448.84,125.48 L449.35,125.46 L449.85,125.44 L450.35,125.42 L450.85,125.39 L451.35,125.35 L451.85,125.31 L452.35,125.27 L452.85,125.22 L453.35,125.16 L453.85,125.09 L454.36,125.02 L454.86,124.94 L455.36,124.84 L455.86,124.74 L456.36,124.62 L456.86,124.49 L457.36,124.34 L457.86,124.18 L458.36,124 L458.86,123.8 L459.37,123.58 L459.87,123.34 L460.37,123.08 L460.87,122.79 L461.37,122.48 L461.87,122.14 L462.37,121.77 L462.87,121.37 L463.37,120.93 L463.87,120.47 L464.37,119.97 L464.88,119.43 L465.38,118.86 L465.88,118.25 L466.38,117.6 L466.88,116.91 L467.38,116.19 L467.88,115.42 L468.38,114.62 L468.88,113.78 L469.38,112.9 L469.89,111.99 L470.39,111.05 L470.89,110.07 L471.39,109.06 L471.89,108.02 L472.39,106.96 L472.89,105.87 L473.39,104.77 L473.89,103.65 L474.39,102.53 L474.9,101.39 L475.4,100.26 L475.9,99.13 L476.4,98.01 L476.9,96.9 L477.4,95.82 L477.9,94.76 L478.4,93.73 L478.9,92.73 L479.4,91.78 L479.9,90.88 L480.41,90.03 L480.91,89.23 L481.41,88.5 L481.91,87.83 L482.41,87.24 L482.91,86.72 L483.41,86.27 L483.91,85.91 L484.41,85.63 L484.91,85.44 L485.42,85.33 L485.92,85.3 L486.42,85.37 L486.92,85.54 L487.42,85.8 L487.92,86.16 L488.42,86.61 L488.92,87.14 L489.42,87.76 L489.92,88.46 L490.43,89.24 L490.93,90.08 L491.43,90.99 L491.93,91.95 L492.43,92.97 L492.93,94.04 L493.43,95.14 L493.93,96.27 L494.43,97.43 L494.93,98.61 L495.43,99.8 L495.94,101 L496.44,102.2 L496.94,103.4 L497.44,104.58 L497.94,105.75 L498.44,106.9 L498.94,108.03 L499.44,109.12 L499.94,110.19 L500.44,111.22 L500.95,112.22 L501.45,113.17 L501.95,114.09 L502.45,114.96 L502.95,115.79 L503.45,116.58 L503.95,117.33 L504.45,118.03 L504.95,118.69 L505.45,119.3 L505.96,119.88 L506.46,120.41 L506.96,120.91 L507.46,121.37 L507.96,121.79 L508.46,122.18 L508.96,122.54 L509.46,122.87 L509.96,123.16 L510.46,123.43 L510.97,123.68 L511.47,123.9 L511.97,124.1 L512.47,124.28 L512.97,124.44 L513.47,124.58 L513.97,124.71 L514.47,124.82 L514.97,124.93 L515.47,125.01 L515.97,125.09 L516.48,125.16 L516.98,125.22 L517.48,125.28 L517.98,125.32 L518.48,125.36 L518.98,125.4 L519.48,125.43 L519.98,125.45 L520.48,125.48 L520.98,125.49 L521.49,125.51 L521.99,125.53 L522.49,125.54 L522.99,125.55 L522.99,125.6 Z" fill="#72e3e6" fill-opacity="1" stroke="#72e3e6" stroke-width="0.4"/>
<path d="M447.34,125.6 L447.34,125.55 L447.84,125.53 L448.34,125.51 L448.84,125.49 L449.35,125.46 L449.85,125.43 L450.35,125.39 L450.85,125.35 L451.35,125.3 L451.85,125.24 L452.35,125.17 L452.85,125.09 L453.35,125 L453.85,124.9 L454.36,124.79 L454.86,124.66 L455.36,124.53 L455.86,124.38 L456.36,124.23 L456.86,124.07 L457.36,123.9 L457.86,123.72 L458.36,123.54 L458.86,123.36 L459.37,123.18 L459.87,123 L460.37,122.83 L460.87,122.66 L461.37,122.51 L461.87,122.38 L462.37,122.26 L462.87,122.16 L463.37,122.09 L463.87,122.03 L464.37,122.01 L464.88,122 L465.38,122.02 L465.88,122.07 L466.38,122.14 L466.88,122.23 L467.38,122.34 L467.88,122.47 L468.38,122.62 L468.88,122.78 L469.38,122.95 L469.89,123.12 L470.39,123.3 L470.89,123.48 L471.39,123.67 L471.89,123.84 L472.39,124.02 L472.89,124.18 L473.39,124.34 L473.89,124.49 L474.39,124.62 L474.9,124.75 L475.4,124.87 L475.9,124.97 L476.4,125.06 L476.9,125.14 L477.4,125.22 L477.9,125.28 L478.4,125.33 L478.9,125.38 L479.4,125.42 L479.9,125.45 L480.41,125.48 L480.91,125.51 L481.41,125.53 L481.91,125.54 L481.91,125.6 Z" fill="#f08ad8" fill-opacity="0.95" stroke="#f08ad8" stroke-width="0.4"/>
<path d="M444.34,125.6 L444.34,125.55 L444.84,125.54 L445.34,125.54 L445.84,125.53 L446.34,125.53 L446.84,125.52 L447.34,125.52 L447.84,125.51 L448.34,125.5 L448.84,125.5 L449.35,125.49 L449.85,125.48 L450.35,125.47 L450.85,125.46 L451.35,125.45 L451.85,125.45 L452.35,125.44 L452.85,125.43 L453.35,125.41 L453.85,125.4 L454.36,125.39 L454.86,125.38 L455.36,125.37 L455.86,125.35 L456.36,125.34 L456.86,125.33 L457.36,125.31 L457.86,125.3 L458.36,125.28 L458.86,125.27 L459.37,125.25 L459.87,125.23 L460.37,125.22 L460.87,125.2 L461.37,125.18 L461.87,125.17 L462.37,125.15 L462.87,125.13 L463.37,125.11 L463.87,125.1 L464.37,125.08 L464.88,125.06 L465.38,125.04 L465.88,125.02 L466.38,125 L466.88,124.99 L467.38,124.97 L467.88,124.95 L468.38,124.93 L468.88,124.92 L469.38,124.9 L469.89,124.88 L470.39,124.87 L470.89,124.85 L471.39,124.84 L471.89,124.82 L472.39,124.81 L472.89,124.8 L473.39,124.78 L473.89,124.77 L474.39,124.76 L474.9,124.75 L475.4,124.74 L475.9,124.73 L476.4,124.73 L476.9,124.72 L477.4,124.71 L477.9,124.71 L478.4,124.71 L478.9,124.7 L479.4,124.7 L479.9,124.7 L480.41,124.7 L480.91,124.7 L481.41,124.7 L481.91,124.71 L482.41,124.71 L482.91,124.72 L483.41,124.72 L483.91,124.73 L484.41,124.74 L484.91,124.75 L485.42,124.76 L485.92,124.77 L486.42,124.78 L486.92,124.79 L487.42,124.8 L487.92,124.82 L488.42,124.83 L488.92,124.85 L489.42,124.86 L489.92,124.88 L490.43,124.89 L490.93,124.91 L491.43,124.93 L491.93,124.94 L492.43,124.96 L492.93,124.98 L493.43,125 L493.93,125.02 L494.43,125.03 L494.93,125.05 L495.43,125.07 L495.94,125.09 L496.44,125.11 L496.94,125.12 L497.44,125.14 L497.94,125.16 L498.44,125.18 L498.94,125.19 L499.44,125.21 L499.94,125.23 L500.44,125.24 L500.95,125.26 L501.45,125.28 L501.95,125.29 L502.45,125.31 L502.95,125.32 L503.45,125.33 L503.95,125.35 L504.45,125.36 L504.95,125.37 L505.45,125.39 L505.96,125.4 L506.46,125.41 L506.96,125.42 L507.46,125.43 L507.96,125.44 L508.46,125.45 L508.96,125.46 L509.46,125.47 L509.96,125.48 L510.46,125.49 L510.97,125.49 L511.47,125.5 L511.97,125.51 L512.47,125.51 L512.97,125.52 L513.47,125.53 L513.97,125.53 L514.47,125.54 L514.97,125.54 L515.47,125.55 L515.97,125.55 L515.97,125.6 Z" fill="#f5a623" fill-opacity="1" stroke="#f5a623" stroke-width="0.4"/>
<path d="M452.35,124.59 L452.85,124.43 L453.35,124.25 L453.85,124.05 L454.36,123.82 L454.86,123.57 L455.36,123.29 L455.86,122.98 L456.36,122.64 L456.86,122.27 L457.36,121.87 L457.86,121.45 L458.36,120.99 L458.86,120.5 L459.37,119.99 L459.87,119.46 L460.37,118.9 L460.87,118.32 L461.37,117.73 L461.87,117.12 L462.37,116.5 L462.87,115.87 L463.37,115.23 L463.87,114.58 L464.37,113.93 L464.88,113.28 L465.38,112.63 L465.88,111.98 L466.38,111.32 L466.88,110.67 L467.38,110.01 L467.88,109.35 L468.38,108.68 L468.88,108 L469.38,107.31 L469.89,106.61 L470.39,105.89 L470.89,105.15 L471.39,104.4 L471.89,103.62 L472.39,102.82 L472.89,102 L473.39,101.16 L473.89,100.29 L474.39,99.41 L474.9,98.51 L475.4,97.59 L475.9,96.67 L476.4,95.73 L476.9,94.8 L477.4,93.87 L477.9,92.96 L478.4,92.06 L478.9,91.18 L479.4,90.33 L479.9,89.51 L480.41,88.74 L480.91,88.01 L481.41,87.34 L481.91,86.72 L482.41,86.17 L482.91,85.69" fill="none" stroke="#e81414" stroke-width="1.2" stroke-linejoin="round" stroke-linecap="round"/>
<line x1="425.8" y1="125.6" x2="529.0" y2="125.6" stroke="#e07fc8" stroke-width="0.8"/>
<path d="M426.6,125.91 L427.9,126.03 L429.2,126.36 L430.5,125.38 L431.8,125.25 L433.1,126.56 L434.4,124.89 L435.7,126.04 L437,125.87 L438.3,124.67 L439.6,126.24 L440.9,126.35 L442.2,125.8 L443.5,125.99 L444.8,126.12 L446.1,124.73 L447.4,125.43 L448.7,125.28 L450,125.78 L451.3,125.47 L452.6,125.17 L453.9,124.2 L455.2,124.16 L456.5,122.9 L457.8,121.89 L459.1,119.73 L460.4,117.93 L461.7,116.59 L463,115.42 L464.3,113.24 L465.6,113.01 L466.9,110.76 L468.2,109.18 L469.5,107.4 L470.8,105.64 L472.1,103.27 L473.4,100.15 L474.7,99.45 L476,96.97 L477.3,94.07 L478.6,91.78 L479.9,89.84 L481.2,86.74 L482.5,86.56 L483.8,84.52 L485.1,83.63 L486.4,84.05 L487.7,85.65 L489,85.89 L490.3,88.8 L491.6,91.6 L492.9,93.34 L494.2,96.08 L495.5,99.39 L496.8,102.96 L498.1,106.22 L499.4,108.88 L500.7,111.67 L502,113.03 L503.3,115.38 L504.6,117.5 L505.9,120.1 L507.2,120.57 L508.5,122.2 L509.8,121.97 L511.1,122.76 L512.4,123.71 L513.7,124.92 L515,125.26 L516.3,125.44 L517.6,124.83 L518.9,125.39 L520.2,125.37 L521.5,125.42 L522.8,124.77 L524.1,126.34 L525.4,124.97 L526.7,126.54 L528,126.46" fill="none" stroke="#333" stroke-width="0.45" stroke-dasharray="1.2 1.0"/>
<g fill="#111"><circle cx="426.6" cy="125.91" r="0.65"/><circle cx="427.9" cy="126.03" r="0.65"/><circle cx="429.2" cy="126.36" r="0.65"/><circle cx="430.5" cy="125.38" r="0.65"/><circle cx="431.8" cy="125.25" r="0.65"/><circle cx="433.1" cy="126.56" r="0.65"/><circle cx="434.4" cy="124.89" r="0.65"/><circle cx="435.7" cy="126.04" r="0.65"/><circle cx="437" cy="125.87" r="0.65"/><circle cx="438.3" cy="124.67" r="0.65"/><circle cx="439.6" cy="126.24" r="0.65"/><circle cx="440.9" cy="126.35" r="0.65"/><circle cx="442.2" cy="125.8" r="0.65"/><circle cx="443.5" cy="125.99" r="0.65"/><circle cx="444.8" cy="126.12" r="0.65"/><circle cx="446.1" cy="124.73" r="0.65"/><circle cx="447.4" cy="125.43" r="0.65"/><circle cx="448.7" cy="125.28" r="0.65"/><circle cx="450" cy="125.78" r="0.65"/><circle cx="451.3" cy="125.47" r="0.65"/><circle cx="452.6" cy="125.17" r="0.65"/><circle cx="453.9" cy="124.2" r="0.65"/><circle cx="455.2" cy="124.16" r="0.65"/><circle cx="456.5" cy="122.9" r="0.65"/><circle cx="457.8" cy="121.89" r="0.65"/><circle cx="459.1" cy="119.73" r="0.65"/><circle cx="460.4" cy="117.93" r="0.65"/><circle cx="461.7" cy="116.59" r="0.65"/><circle cx="463" cy="115.42" r="0.65"/><circle cx="464.3" cy="113.24" r="0.65"/><circle cx="465.6" cy="113.01" r="0.65"/><circle cx="466.9" cy="110.76" r="0.65"/><circle cx="468.2" cy="109.18" r="0.65"/><circle cx="469.5" cy="107.4" r="0.65"/><circle cx="470.8" cy="105.64" r="0.65"/><circle cx="472.1" cy="103.27" r="0.65"/><circle cx="473.4" cy="100.15" r="0.65"/><circle cx="474.7" cy="99.45" r="0.65"/><circle cx="476" cy="96.97" r="0.65"/><circle cx="477.3" cy="94.07" r="0.65"/><circle cx="478.6" cy="91.78" r="0.65"/><circle cx="479.9" cy="89.84" r="0.65"/><circle cx="481.2" cy="86.74" r="0.65"/><circle cx="482.5" cy="86.56" r="0.65"/><circle cx="483.8" cy="84.52" r="0.65"/><circle cx="485.1" cy="83.63" r="0.65"/><circle cx="486.4" cy="84.05" r="0.65"/><circle cx="487.7" cy="85.65" r="0.65"/><circle cx="489" cy="85.89" r="0.65"/><circle cx="490.3" cy="88.8" r="0.65"/><circle cx="491.6" cy="91.6" r="0.65"/><circle cx="492.9" cy="93.34" r="0.65"/><circle cx="494.2" cy="96.08" r="0.65"/><circle cx="495.5" cy="99.39" r="0.65"/><circle cx="496.8" cy="102.96" r="0.65"/><circle cx="498.1" cy="106.22" r="0.65"/><circle cx="499.4" cy="108.88" r="0.65"/><circle cx="500.7" cy="111.67" r="0.65"/><circle cx="502" cy="113.03" r="0.65"/><circle cx="503.3" cy="115.38" r="0.65"/><circle cx="504.6" cy="117.5" r="0.65"/><circle cx="505.9" cy="120.1" r="0.65"/><circle cx="507.2" cy="120.57" r="0.65"/><circle cx="508.5" cy="122.2" r="0.65"/><circle cx="509.8" cy="121.97" r="0.65"/><circle cx="511.1" cy="122.76" r="0.65"/><circle cx="512.4" cy="123.71" r="0.65"/><circle cx="513.7" cy="124.92" r="0.65"/><circle cx="515" cy="125.26" r="0.65"/><circle cx="516.3" cy="125.44" r="0.65"/><circle cx="517.6" cy="124.83" r="0.65"/><circle cx="518.9" cy="125.39" r="0.65"/><circle cx="520.2" cy="125.37" r="0.65"/><circle cx="521.5" cy="125.42" r="0.65"/><circle cx="522.8" cy="124.77" r="0.65"/><circle cx="524.1" cy="126.34" r="0.65"/><circle cx="525.4" cy="124.97" r="0.65"/><circle cx="526.7" cy="126.54" r="0.65"/><circle cx="528" cy="126.46" r="0.65"/></g>
</g>
<rect x="425.8" y="75.4" width="103.2" height="55" fill="none" stroke="#6f6f6f" stroke-width="1"/>
<line x1="423.8" y1="125.6" x2="425.8" y2="125.6" stroke="#333" stroke-width="0.7"/>
<text x="422.3" y="127.7" text-anchor="end" font-family="DejaVu Sans, Liberation Sans, sans-serif" font-size="5.7" fill="#2a2a2a" stroke="#2a2a2a" stroke-width="0.18" textLength="2.7" lengthAdjust="spacingAndGlyphs">0</text>
<line x1="423.8" y1="102.7" x2="425.8" y2="102.7" stroke="#333" stroke-width="0.7"/>
<text x="422.3" y="104.8" text-anchor="end" font-family="DejaVu Sans, Liberation Sans, sans-serif" font-size="5.7" fill="#2a2a2a" stroke="#2a2a2a" stroke-width="0.18" textLength="8.0" lengthAdjust="spacingAndGlyphs">200</text>
<line x1="423.8" y1="79.8" x2="425.8" y2="79.8" stroke="#333" stroke-width="0.7"/>
<text x="422.3" y="81.9" text-anchor="end" font-family="DejaVu Sans, Liberation Sans, sans-serif" font-size="5.7" fill="#2a2a2a" stroke="#2a2a2a" stroke-width="0.18" textLength="8.0" lengthAdjust="spacingAndGlyphs">400</text>
<text x="518.7" y="94.6" text-anchor="middle" font-family="DejaVu Sans, Liberation Sans, sans-serif" font-size="5.8" fill="#333" stroke="#333" stroke-width="0.12" textLength="9.8" lengthAdjust="spacingAndGlyphs">15Si</text>
<g clip-path="url(#clip32)">
<path d="M436.32,180.6 L436.32,180.55 L436.82,180.54 L437.32,180.53 L437.82,180.52 L438.32,180.51 L438.83,180.49 L439.33,180.47 L439.83,180.45 L440.33,180.43 L440.83,180.41 L441.33,180.38 L441.83,180.34 L442.33,180.31 L442.83,180.26 L443.33,180.22 L443.83,180.16 L444.34,180.1 L444.84,180.03 L445.34,179.96 L445.84,179.87 L446.34,179.78 L446.84,179.67 L447.34,179.56 L447.84,179.43 L448.34,179.29 L448.84,179.13 L449.35,178.96 L449.85,178.77 L450.35,178.56 L450.85,178.33 L451.35,178.08 L451.85,177.81 L452.35,177.52 L452.85,177.2 L453.35,176.85 L453.85,176.48 L454.36,176.07 L454.86,175.64 L455.36,175.18 L455.86,174.68 L456.36,174.15 L456.86,173.58 L457.36,172.98 L457.86,172.34 L458.36,171.66 L458.86,170.95 L459.37,170.2 L459.87,169.4 L460.37,168.57 L460.87,167.71 L461.37,166.8 L461.87,165.86 L462.37,164.88 L462.87,163.86 L463.37,162.81 L463.87,161.73 L464.37,160.62 L464.88,159.49 L465.38,158.33 L465.88,157.15 L466.38,155.95 L466.88,154.73 L467.38,153.51 L467.88,152.27 L468.38,151.04 L468.88,149.8 L469.38,148.57 L469.89,147.36 L470.39,146.16 L470.89,144.98 L471.39,143.82 L471.89,142.7 L472.39,141.61 L472.89,140.57 L473.39,139.57 L473.89,138.62 L474.39,137.72 L474.9,136.89 L475.4,136.12 L475.9,135.42 L476.4,134.78 L476.9,134.23 L477.4,133.75 L477.9,133.35 L478.4,133.04 L478.9,132.81 L479.4,132.66 L479.9,132.6 L480.41,132.63 L480.91,132.75 L481.41,132.96 L481.91,133.26 L482.41,133.64 L482.91,134.11 L483.41,134.67 L483.91,135.3 L484.41,136.01 L484.91,136.79 L485.42,137.64 L485.92,138.55 L486.42,139.52 L486.92,140.55 L487.42,141.62 L487.92,142.74 L488.42,143.89 L488.92,145.08 L489.42,146.29 L489.92,147.52 L490.43,148.77 L490.93,150.04 L491.43,151.3 L491.93,152.57 L492.43,153.83 L492.93,155.09 L493.43,156.33 L493.93,157.56 L494.43,158.76 L494.93,159.94 L495.43,161.1 L495.94,162.22 L496.44,163.32 L496.94,164.38 L497.44,165.4 L497.94,166.38 L498.44,167.33 L498.94,168.24 L499.44,169.1 L499.94,169.93 L500.44,170.72 L500.95,171.46 L501.45,172.17 L501.95,172.83 L502.45,173.46 L502.95,174.05 L503.45,174.6 L503.95,175.11 L504.45,175.59 L504.95,176.04 L505.45,176.46 L505.96,176.84 L506.46,177.2 L506.96,177.52 L507.46,177.82 L507.96,178.1 L508.46,178.35 L508.96,178.59 L509.46,178.8 L509.96,178.99 L510.46,179.16 L510.97,179.32 L511.47,179.46 L511.97,179.59 L512.47,179.71 L512.97,179.81 L513.47,179.91 L513.97,179.99 L514.47,180.06 L514.97,180.13 L515.47,180.19 L515.97,180.24 L516.48,180.29 L516.98,180.33 L517.48,180.36 L517.98,180.39 L518.48,180.42 L518.98,180.45 L519.48,180.47 L519.98,180.49 L520.48,180.5 L520.98,180.52 L521.49,180.53 L521.99,180.54 L522.49,180.55 L522.49,180.6 Z" fill="#72e3e6" fill-opacity="1" stroke="#72e3e6" stroke-width="0.4"/>
<path d="M437.82,180.6 L437.82,180.55 L438.32,180.55 L438.83,180.54 L439.33,180.54 L439.83,180.53 L440.33,180.53 L440.83,180.52 L441.33,180.52 L441.83,180.51 L442.33,180.51 L442.83,180.5 L443.33,180.49 L443.83,180.49 L444.34,180.48 L444.84,180.47 L445.34,180.46 L445.84,180.45 L446.34,180.45 L446.84,180.44 L447.34,180.43 L447.84,180.42 L448.34,180.41 L448.84,180.39 L449.35,180.38 L449.85,180.37 L450.35,180.36 L450.85,180.35 L451.35,180.33 L451.85,180.32 L452.35,180.31 L452.85,180.29 L453.35,180.28 L453.85,180.26 L454.36,180.25 L454.86,180.23 L455.36,180.22 L455.86,180.2 L456.36,180.18 L456.86,180.16 L457.36,180.15 L457.86,180.13 L458.36,180.11 L458.86,180.09 L459.37,180.07 L459.87,180.05 L460.37,180.04 L460.87,180.02 L461.37,180 L461.87,179.98 L462.37,179.96 L462.87,179.94 L463.37,179.92 L463.87,179.9 L464.37,179.88 L464.88,179.86 L465.38,179.84 L465.88,179.82 L466.38,179.8 L466.88,179.78 L467.38,179.76 L467.88,179.75 L468.38,179.73 L468.88,179.71 L469.38,179.69 L469.89,179.68 L470.39,179.66 L470.89,179.65 L471.39,179.63 L471.89,179.62 L472.39,179.6 L472.89,179.59 L473.39,179.58 L473.89,179.57 L474.39,179.56 L474.9,179.55 L475.4,179.54 L475.9,179.53 L476.4,179.52 L476.9,179.52 L477.4,179.51 L477.9,179.51 L478.4,179.5 L478.9,179.5 L479.4,179.5 L479.9,179.5 L480.41,179.5 L480.91,179.5 L481.41,179.5 L481.91,179.51 L482.41,179.51 L482.91,179.52 L483.41,179.52 L483.91,179.53 L484.41,179.54 L484.91,179.55 L485.42,179.55 L485.92,179.56 L486.42,179.58 L486.92,179.59 L487.42,179.6 L487.92,179.61 L488.42,179.63 L488.92,179.64 L489.42,179.66 L489.92,179.67 L490.43,179.69 L490.93,179.71 L491.43,179.72 L491.93,179.74 L492.43,179.76 L492.93,179.78 L493.43,179.79 L493.93,179.81 L494.43,179.83 L494.93,179.85 L495.43,179.87 L495.94,179.89 L496.44,179.91 L496.94,179.93 L497.44,179.95 L497.94,179.97 L498.44,179.99 L498.94,180.01 L499.44,180.03 L499.94,180.05 L500.44,180.07 L500.95,180.09 L501.45,180.1 L501.95,180.12 L502.45,180.14 L502.95,180.16 L503.45,180.18 L503.95,180.19 L504.45,180.21 L504.95,180.23 L505.45,180.24 L505.96,180.26 L506.46,180.27 L506.96,180.29 L507.46,180.3 L507.96,180.32 L508.46,180.33 L508.96,180.34 L509.46,180.35 L509.96,180.37 L510.46,180.38 L510.97,180.39 L511.47,180.4 L511.97,180.41 L512.47,180.42 L512.97,180.43 L513.47,180.44 L513.97,180.45 L514.47,180.46 L514.97,180.47 L515.47,180.48 L515.97,180.48 L516.48,180.49 L516.98,180.5 L517.48,180.5 L517.98,180.51 L518.48,180.52 L518.98,180.52 L519.48,180.53 L519.98,180.53 L520.48,180.54 L520.98,180.54 L521.49,180.54 L521.99,180.55 L521.99,180.6 Z" fill="#f5a623" fill-opacity="1" stroke="#f5a623" stroke-width="0.4"/>
<line x1="425.8" y1="180.6" x2="529.0" y2="180.6" stroke="#e07fc8" stroke-width="0.8"/>
<path d="M426.6,179.63 L427.9,180.51 L429.2,181.22 L430.5,181.51 L431.8,180.47 L433.1,180.1 L434.4,179.96 L435.7,181.41 L437,179.91 L438.3,180.62 L439.6,179.68 L440.9,180.37 L442.2,181.13 L443.5,179.35 L444.8,180.55 L446.1,179.69 L447.4,180.14 L448.7,179.38 L450,177.94 L451.3,178.64 L452.6,177.03 L453.9,175.15 L455.2,173.95 L456.5,173.55 L457.8,171.85 L459.1,169.69 L460.4,167.23 L461.7,165.25 L463,162.56 L464.3,160.75 L465.6,156.04 L466.9,154.37 L468.2,151.3 L469.5,146.62 L470.8,145.08 L472.1,141.68 L473.4,139.33 L474.7,135.74 L476,133.95 L477.3,132.54 L478.6,132.84 L479.9,131.68 L481.2,131.48 L482.5,132.49 L483.8,133.63 L485.1,135.14 L486.4,137.66 L487.7,141.92 L489,143.88 L490.3,148.42 L491.6,150.37 L492.9,153.72 L494.2,157.45 L495.5,159.9 L496.8,163.16 L498.1,166.98 L499.4,169.23 L500.7,171.2 L502,172.68 L503.3,174.83 L504.6,176.22 L505.9,176.55 L507.2,177.81 L508.5,177.2 L509.8,179.16 L511.1,179.06 L512.4,180.02 L513.7,180.08 L515,179.57 L516.3,179.26 L517.6,181.13 L518.9,179.62 L520.2,180.37 L521.5,180.16 L522.8,180.1 L524.1,181.01 L525.4,181.5 L526.7,180.08 L528,180.88" fill="none" stroke="#333" stroke-width="0.45" stroke-dasharray="1.2 1.0"/>
<g fill="#111"><circle cx="426.6" cy="179.63" r="0.65"/><circle cx="427.9" cy="180.51" r="0.65"/><circle cx="429.2" cy="181.22" r="0.65"/><circle cx="430.5" cy="181.51" r="0.65"/><circle cx="431.8" cy="180.47" r="0.65"/><circle cx="433.1" cy="180.1" r="0.65"/><circle cx="434.4" cy="179.96" r="0.65"/><circle cx="435.7" cy="181.41" r="0.65"/><circle cx="437" cy="179.91" r="0.65"/><circle cx="438.3" cy="180.62" r="0.65"/><circle cx="439.6" cy="179.68" r="0.65"/><circle cx="440.9" cy="180.37" r="0.65"/><circle cx="442.2" cy="181.13" r="0.65"/><circle cx="443.5" cy="179.35" r="0.65"/><circle cx="444.8" cy="180.55" r="0.65"/><circle cx="446.1" cy="179.69" r="0.65"/><circle cx="447.4" cy="180.14" r="0.65"/><circle cx="448.7" cy="179.38" r="0.65"/><circle cx="450" cy="177.94" r="0.65"/><circle cx="451.3" cy="178.64" r="0.65"/><circle cx="452.6" cy="177.03" r="0.65"/><circle cx="453.9" cy="175.15" r="0.65"/><circle cx="455.2" cy="173.95" r="0.65"/><circle cx="456.5" cy="173.55" r="0.65"/><circle cx="457.8" cy="171.85" r="0.65"/><circle cx="459.1" cy="169.69" r="0.65"/><circle cx="460.4" cy="167.23" r="0.65"/><circle cx="461.7" cy="165.25" r="0.65"/><circle cx="463" cy="162.56" r="0.65"/><circle cx="464.3" cy="160.75" r="0.65"/><circle cx="465.6" cy="156.04" r="0.65"/><circle cx="466.9" cy="154.37" r="0.65"/><circle cx="468.2" cy="151.3" r="0.65"/><circle cx="469.5" cy="146.62" r="0.65"/><circle cx="470.8" cy="145.08" r="0.65"/><circle cx="472.1" cy="141.68" r="0.65"/><circle cx="473.4" cy="139.33" r="0.65"/><circle cx="474.7" cy="135.74" r="0.65"/><circle cx="476" cy="133.95" r="0.65"/><circle cx="477.3" cy="132.54" r="0.65"/><circle cx="478.6" cy="132.84" r="0.65"/><circle cx="479.9" cy="131.68" r="0.65"/><circle cx="481.2" cy="131.48" r="0.65"/><circle cx="482.5" cy="132.49" r="0.65"/><circle cx="483.8" cy="133.63" r="0.65"/><circle cx="485.1" cy="135.14" r="0.65"/><circle cx="486.4" cy="137.66" r="0.65"/><circle cx="487.7" cy="141.92" r="0.65"/><circle cx="489" cy="143.88" r="0.65"/><circle cx="490.3" cy="148.42" r="0.65"/><circle cx="491.6" cy="150.37" r="0.65"/><circle cx="492.9" cy="153.72" r="0.65"/><circle cx="494.2" cy="157.45" r="0.65"/><circle cx="495.5" cy="159.9" r="0.65"/><circle cx="496.8" cy="163.16" r="0.65"/><circle cx="498.1" cy="166.98" r="0.65"/><circle cx="499.4" cy="169.23" r="0.65"/><circle cx="500.7" cy="171.2" r="0.65"/><circle cx="502" cy="172.68" r="0.65"/><circle cx="503.3" cy="174.83" r="0.65"/><circle cx="504.6" cy="176.22" r="0.65"/><circle cx="505.9" cy="176.55" r="0.65"/><circle cx="507.2" cy="177.81" r="0.65"/><circle cx="508.5" cy="177.2" r="0.65"/><circle cx="509.8" cy="179.16" r="0.65"/><circle cx="511.1" cy="179.06" r="0.65"/><circle cx="512.4" cy="180.02" r="0.65"/><circle cx="513.7" cy="180.08" r="0.65"/><circle cx="515" cy="179.57" r="0.65"/><circle cx="516.3" cy="179.26" r="0.65"/><circle cx="517.6" cy="181.13" r="0.65"/><circle cx="518.9" cy="179.62" r="0.65"/><circle cx="520.2" cy="180.37" r="0.65"/><circle cx="521.5" cy="180.16" r="0.65"/><circle cx="522.8" cy="180.1" r="0.65"/><circle cx="524.1" cy="181.01" r="0.65"/><circle cx="525.4" cy="181.5" r="0.65"/><circle cx="526.7" cy="180.08" r="0.65"/><circle cx="528" cy="180.88" r="0.65"/></g>
</g>
<rect x="425.8" y="130.4" width="103.2" height="54.5" fill="none" stroke="#6f6f6f" stroke-width="1"/>
<line x1="423.8" y1="180.6" x2="425.8" y2="180.6" stroke="#333" stroke-width="0.7"/>
<text x="422.3" y="182.7" text-anchor="end" font-family="DejaVu Sans, Liberation Sans, sans-serif" font-size="5.7" fill="#2a2a2a" stroke="#2a2a2a" stroke-width="0.18" textLength="2.7" lengthAdjust="spacingAndGlyphs">0</text>
<line x1="423.8" y1="157.7" x2="425.8" y2="157.7" stroke="#333" stroke-width="0.7"/>
<text x="422.3" y="159.8" text-anchor="end" font-family="DejaVu Sans, Liberation Sans, sans-serif" font-size="5.7" fill="#2a2a2a" stroke="#2a2a2a" stroke-width="0.18" textLength="8.0" lengthAdjust="spacingAndGlyphs">200</text>
<line x1="423.8" y1="134.8" x2="425.8" y2="134.8" stroke="#333" stroke-width="0.7"/>
<text x="422.3" y="136.9" text-anchor="end" font-family="DejaVu Sans, Liberation Sans, sans-serif" font-size="5.7" fill="#2a2a2a" stroke="#2a2a2a" stroke-width="0.18" textLength="8.0" lengthAdjust="spacingAndGlyphs">400</text>
<text x="518.7" y="149.6" text-anchor="middle" font-family="DejaVu Sans, Liberation Sans, sans-serif" font-size="5.8" fill="#333" stroke="#333" stroke-width="0.12" textLength="9.8" lengthAdjust="spacingAndGlyphs">00Si</text>
<line x1="425.8" y1="184.9" x2="425.8" y2="186.9" stroke="#333" stroke-width="0.7"/>
<text x="425.8" y="192.8" text-anchor="middle" font-family="DejaVu Sans, Liberation Sans, sans-serif" font-size="5.8" fill="#2a2a2a" stroke="#2a2a2a" stroke-width="0.15" textLength="8.8" lengthAdjust="spacingAndGlyphs">140</text>
<line x1="446.4" y1="184.9" x2="446.4" y2="186.9" stroke="#333" stroke-width="0.7"/>
<text x="446.4" y="192.8" text-anchor="middle" font-family="DejaVu Sans, Liberation Sans, sans-serif" font-size="5.8" fill="#2a2a2a" stroke="#2a2a2a" stroke-width="0.15" textLength="8.8" lengthAdjust="spacingAndGlyphs">138</text>
<line x1="467.1" y1="184.9" x2="467.1" y2="186.9" stroke="#333" stroke-width="0.7"/>
<text x="467.1" y="192.8" text-anchor="middle" font-family="DejaVu Sans, Liberation Sans, sans-serif" font-size="5.8" fill="#2a2a2a" stroke="#2a2a2a" stroke-width="0.15" textLength="8.8" lengthAdjust="spacingAndGlyphs">136</text>
<line x1="487.7" y1="184.9" x2="487.7" y2="186.9" stroke="#333" stroke-width="0.7"/>
<text x="487.7" y="192.8" text-anchor="middle" font-family="DejaVu Sans, Liberation Sans, sans-serif" font-size="5.8" fill="#2a2a2a" stroke="#2a2a2a" stroke-width="0.15" textLength="8.8" lengthAdjust="spacingAndGlyphs">134</text>
<line x1="508.4" y1="184.9" x2="508.4" y2="186.9" stroke="#333" stroke-width="0.7"/>
<text x="508.4" y="192.8" text-anchor="middle" font-family="DejaVu Sans, Liberation Sans, sans-serif" font-size="5.8" fill="#2a2a2a" stroke="#2a2a2a" stroke-width="0.15" textLength="8.8" lengthAdjust="spacingAndGlyphs">132</text>
<line x1="529.0" y1="184.9" x2="529.0" y2="186.9" stroke="#333" stroke-width="0.7"/>
<text x="529" y="192.8" text-anchor="middle" font-family="DejaVu Sans, Liberation Sans, sans-serif" font-size="5.8" fill="#2a2a2a" stroke="#2a2a2a" stroke-width="0.15" textLength="8.8" lengthAdjust="spacingAndGlyphs">130</text>
<text x="477.4" y="199.5" text-anchor="middle" font-family="DejaVu Sans, Liberation Sans, sans-serif" font-size="5.6" fill="#222" stroke="#222" stroke-width="0.1" textLength="47" lengthAdjust="spacingAndGlyphs">Binding Energy(eV)</text>
<text x="121.2" y="38.6" text-anchor="middle" font-family="DejaVu Sans, Liberation Sans, sans-serif" font-weight="bold" font-size="5.5" fill="#111" stroke="#111" stroke-width="0.18" textLength="8.5" lengthAdjust="spacingAndGlyphs">C-C</text>
<text x="143.5" y="52.2" text-anchor="middle" font-family="DejaVu Sans, Liberation Sans, sans-serif" font-weight="bold" font-size="5.5" fill="#111" stroke="#111" stroke-width="0.18" textLength="12" lengthAdjust="spacingAndGlyphs">LixC6</text>
<text x="108.4" y="54.4" text-anchor="middle" font-family="DejaVu Sans, Liberation Sans, sans-serif" font-weight="bold" font-size="5.5" fill="#111" stroke="#111" stroke-width="0.18" textLength="8.5" lengthAdjust="spacingAndGlyphs">C-O</text>
<text x="100.1" y="59.6" text-anchor="middle" font-family="DejaVu Sans, Liberation Sans, sans-serif" font-weight="bold" font-size="5.5" fill="#111" stroke="#111" stroke-width="0.18" textLength="9.5" lengthAdjust="spacingAndGlyphs">C=O</text>
<text x="88.25" y="64.6" text-anchor="middle" font-family="DejaVu Sans, Liberation Sans, sans-serif" font-weight="bold" font-size="5.5" fill="#111" stroke="#111" stroke-width="0.18" textLength="17" lengthAdjust="spacingAndGlyphs">C-O=C</text>
<text x="75.2" y="67.2" text-anchor="middle" font-family="DejaVu Sans, Liberation Sans, sans-serif" font-weight="bold" font-size="5.5" fill="#111" stroke="#111" stroke-width="0.18" textLength="7" lengthAdjust="spacingAndGlyphs">CO3</text>
<text x="247.0" y="35.9" text-anchor="middle" font-family="DejaVu Sans, Liberation Sans, sans-serif" font-weight="bold" font-size="5.5" fill="#111" stroke="#111" stroke-width="0.18" textLength="26" lengthAdjust="spacingAndGlyphs">C=O,C-OLi</text>
<text x="215.6" y="45.2" text-anchor="middle" font-family="DejaVu Sans, Liberation Sans, sans-serif" font-weight="bold" font-size="5.5" fill="#111" stroke="#111" stroke-width="0.18" textLength="8.5" lengthAdjust="spacingAndGlyphs">C-O</text>
<text x="209.6" y="53.9" text-anchor="middle" font-family="DejaVu Sans, Liberation Sans, sans-serif" font-weight="bold" font-size="5.5" fill="#111" stroke="#111" stroke-width="0.18" textLength="8" lengthAdjust="spacingAndGlyphs">P-O</text>
<text x="358.35" y="51.3" text-anchor="middle" font-family="DejaVu Sans, Liberation Sans, sans-serif" font-weight="bold" font-size="5.5" fill="#111" stroke="#111" stroke-width="0.18" textLength="21.3" lengthAdjust="spacingAndGlyphs">LixPOyFz</text>
<text x="379.5" y="59.2" text-anchor="middle" font-family="DejaVu Sans, Liberation Sans, sans-serif" font-weight="bold" font-size="5.5" fill="#111" stroke="#111" stroke-width="0.18" textLength="5.8" lengthAdjust="spacingAndGlyphs">LiF</text>
<text x="331.65" y="66.0" text-anchor="middle" font-family="DejaVu Sans, Liberation Sans, sans-serif" font-weight="bold" font-size="5.5" fill="#111" stroke="#111" stroke-width="0.18" textLength="13.7" lengthAdjust="spacingAndGlyphs">CnFm</text>
<text x="478.1" y="45.9" text-anchor="middle" font-family="DejaVu Sans, Liberation Sans, sans-serif" font-weight="bold" font-size="5.5" fill="#111" stroke="#111" stroke-width="0.18" textLength="21.8" lengthAdjust="spacingAndGlyphs">LixPOyFz</text>
<text x="453.85" y="62.8" text-anchor="middle" font-family="DejaVu Sans, Liberation Sans, sans-serif" font-weight="bold" font-size="5.5" fill="#111" stroke="#111" stroke-width="0.18" textLength="14.7" lengthAdjust="spacingAndGlyphs">LixPFz</text>
<line x1="85.8" y1="282.2" x2="439" y2="282.2" stroke="#ececec" stroke-width="1"/>
<line x1="85.8" y1="344.4" x2="439" y2="344.4" stroke="#ececec" stroke-width="1"/>
<rect x="85.8" y="239.0" width="40" height="25.0" fill="#ffc08f"/>
<rect x="125.8" y="239.0" width="44.3" height="25.0" fill="#7fd9a1"/>
<rect x="170.1" y="239.0" width="20.6" height="25.0" fill="#c5b0da"/>
<rect x="190.7" y="239.0" width="8.4" height="25.0" fill="#ffff98"/>
<rect x="199.1" y="239.0" width="5.1" height="25.0" fill="#8cb5f0"/>
<rect x="204.2" y="239.0" width="1.2" height="25.0" fill="#ffb4f6"/>
<rect x="205.4" y="239.0" width="115.5" height="25.0" fill="#a9ab84"/>
<rect x="320.9" y="239.0" width="6.4" height="25.0" fill="#a6e2e9"/>
<rect x="327.3" y="239.0" width="49.6" height="25.0" fill="#0ee0d2"/>
<rect x="376.9" y="239.0" width="6.1" height="25.0" fill="#66d9a6"/>
<rect x="383" y="239.0" width="28" height="25.0" fill="#ff9d97"/>
<rect x="411" y="239.0" width="7.9" height="25.0" fill="#ff55ef"/>
<rect x="418.9" y="239.0" width="20.1" height="25.0" fill="#b89a8a"/>
<text x="106.6" y="255.1" text-anchor="middle" font-family="Liberation Sans, Arial, sans-serif" font-size="10.4" fill="#1a1a1a" stroke="#1a1a1a" stroke-width="0.2">11%</text>
<text x="148.75" y="255.1" text-anchor="middle" font-family="Liberation Sans, Arial, sans-serif" font-size="10.4" fill="#1a1a1a" stroke="#1a1a1a" stroke-width="0.2">13%</text>
<text x="181.2" y="255.1" text-anchor="middle" font-family="Liberation Sans, Arial, sans-serif" font-size="10.4" fill="#1a1a1a" stroke="#1a1a1a" stroke-width="0.2">6%</text>
<text x="195.7" y="255.1" text-anchor="middle" font-family="Liberation Sans, Arial, sans-serif" font-size="10.4" fill="#1a1a1a" stroke="#1a1a1a" stroke-width="0.2">2%</text>
<text x="263.95" y="255.1" text-anchor="middle" font-family="Liberation Sans, Arial, sans-serif" font-size="10.4" fill="#1a1a1a" stroke="#1a1a1a" stroke-width="0.2">33%</text>
<text x="352.9" y="255.1" text-anchor="middle" font-family="Liberation Sans, Arial, sans-serif" font-size="10.4" fill="#1a1a1a" stroke="#1a1a1a" stroke-width="0.2">14%</text>
<text x="397.8" y="255.1" text-anchor="middle" font-family="Liberation Sans, Arial, sans-serif" font-size="10.4" fill="#1a1a1a" stroke="#1a1a1a" stroke-width="0.2">8%</text>
<text x="415.75" y="255.1" text-anchor="middle" font-family="Liberation Sans, Arial, sans-serif" font-size="10.4" fill="#1a1a1a" stroke="#1a1a1a" stroke-width="0.2">2%</text>
<text x="429.75" y="255.1" text-anchor="middle" font-family="Liberation Sans, Arial, sans-serif" font-size="10.4" fill="#1a1a1a" stroke="#1a1a1a" stroke-width="0.2">6%</text>
<rect x="85.8" y="301.0" width="14.6" height="25.0" fill="#ffc08f"/>
<rect x="100.4" y="301.0" width="24.6" height="25.0" fill="#7fd9a1"/>
<rect x="125" y="301.0" width="12.9" height="25.0" fill="#c5b0da"/>
<rect x="137.9" y="301.0" width="5" height="25.0" fill="#ffff98"/>
<rect x="142.9" y="301.0" width="2.3" height="25.0" fill="#8cb5f0"/>
<rect x="145.2" y="301.0" width="3.5" height="25.0" fill="#ffb4f6"/>
<rect x="148.7" y="301.0" width="83.6" height="25.0" fill="#a9ab84"/>
<rect x="232.3" y="301.0" width="14.8" height="25.0" fill="#a6e2e9"/>
<rect x="247.1" y="301.0" width="98.4" height="25.0" fill="#0ee0d2"/>
<rect x="345.5" y="301.0" width="12.6" height="25.0" fill="#66d9a6"/>
<rect x="358.1" y="301.0" width="49.9" height="25.0" fill="#ff9d97"/>
<rect x="408" y="301.0" width="16.7" height="25.0" fill="#ff55ef"/>
<rect x="424.7" y="301.0" width="14.3" height="25.0" fill="#b89a8a"/>
<text x="93.9" y="317.1" text-anchor="middle" font-family="Liberation Sans, Arial, sans-serif" font-size="10.4" fill="#1a1a1a" stroke="#1a1a1a" stroke-width="0.2">4%</text>
<text x="113.5" y="317.1" text-anchor="middle" font-family="Liberation Sans, Arial, sans-serif" font-size="10.4" fill="#1a1a1a" stroke="#1a1a1a" stroke-width="0.2">7%</text>
<text x="132.25" y="317.1" text-anchor="middle" font-family="Liberation Sans, Arial, sans-serif" font-size="10.4" fill="#1a1a1a" stroke="#1a1a1a" stroke-width="0.2">4%</text>
<text x="191.3" y="317.1" text-anchor="middle" font-family="Liberation Sans, Arial, sans-serif" font-size="10.4" fill="#1a1a1a" stroke="#1a1a1a" stroke-width="0.2">24%</text>
<text x="240.5" y="317.1" text-anchor="middle" font-family="Liberation Sans, Arial, sans-serif" font-size="10.4" fill="#1a1a1a" stroke="#1a1a1a" stroke-width="0.2">4%</text>
<text x="297.1" y="317.1" text-anchor="middle" font-family="Liberation Sans, Arial, sans-serif" font-size="10.4" fill="#1a1a1a" stroke="#1a1a1a" stroke-width="0.2">28%</text>
<text x="352.6" y="317.1" text-anchor="middle" font-family="Liberation Sans, Arial, sans-serif" font-size="10.4" fill="#1a1a1a" stroke="#1a1a1a" stroke-width="0.2">3%</text>
<text x="383.85" y="317.1" text-anchor="middle" font-family="Liberation Sans, Arial, sans-serif" font-size="10.4" fill="#1a1a1a" stroke="#1a1a1a" stroke-width="0.2">14%</text>
<text x="417.15" y="317.1" text-anchor="middle" font-family="Liberation Sans, Arial, sans-serif" font-size="10.4" fill="#1a1a1a" stroke="#1a1a1a" stroke-width="0.2">5%</text>
<text x="432.65" y="317.1" text-anchor="middle" font-family="Liberation Sans, Arial, sans-serif" font-size="10.4" fill="#1a1a1a" stroke="#1a1a1a" stroke-width="0.2">4%</text>
<rect x="85.8" y="363.0" width="11.2" height="25.0" fill="#ffc08f"/>
<rect x="97" y="363.0" width="24.7" height="25.0" fill="#7fd9a1"/>
<rect x="121.7" y="363.0" width="10.5" height="25.0" fill="#c5b0da"/>
<rect x="132.2" y="363.0" width="2.9" height="25.0" fill="#ffff98"/>
<rect x="135.1" y="363.0" width="3.4" height="25.0" fill="#8cb5f0"/>
<rect x="138.5" y="363.0" width="1.7" height="25.0" fill="#ffb4f6"/>
<rect x="140.2" y="363.0" width="71.8" height="25.0" fill="#a9ab84"/>
<rect x="212" y="363.0" width="56.2" height="25.0" fill="#a6e2e9"/>
<rect x="268.2" y="363.0" width="37.4" height="25.0" fill="#0ee0d2"/>
<rect x="305.6" y="363.0" width="18.6" height="25.0" fill="#66d9a6"/>
<rect x="324.2" y="363.0" width="97" height="25.0" fill="#ff9d97"/>
<rect x="421.2" y="363.0" width="17.8" height="25.0" fill="#ff55ef"/>
<text x="92.2" y="379.1" text-anchor="middle" font-family="Liberation Sans, Arial, sans-serif" font-size="10.4" fill="#1a1a1a" stroke="#1a1a1a" stroke-width="0.2">3%</text>
<text x="110.15" y="379.1" text-anchor="middle" font-family="Liberation Sans, Arial, sans-serif" font-size="10.4" fill="#1a1a1a" stroke="#1a1a1a" stroke-width="0.2">7%</text>
<text x="127.75" y="379.1" text-anchor="middle" font-family="Liberation Sans, Arial, sans-serif" font-size="10.4" fill="#1a1a1a" stroke="#1a1a1a" stroke-width="0.2">3%</text>
<text x="176.9" y="379.1" text-anchor="middle" font-family="Liberation Sans, Arial, sans-serif" font-size="10.4" fill="#1a1a1a" stroke="#1a1a1a" stroke-width="0.2">20%</text>
<text x="240.9" y="379.1" text-anchor="middle" font-family="Liberation Sans, Arial, sans-serif" font-size="10.4" fill="#1a1a1a" stroke="#1a1a1a" stroke-width="0.2">16%</text>
<text x="287.7" y="379.1" text-anchor="middle" font-family="Liberation Sans, Arial, sans-serif" font-size="10.4" fill="#1a1a1a" stroke="#1a1a1a" stroke-width="0.2">11%</text>
<text x="315.7" y="379.1" text-anchor="middle" font-family="Liberation Sans, Arial, sans-serif" font-size="10.4" fill="#1a1a1a" stroke="#1a1a1a" stroke-width="0.2">5%</text>
<text x="373.5" y="379.1" text-anchor="middle" font-family="Liberation Sans, Arial, sans-serif" font-size="10.4" fill="#1a1a1a" stroke="#1a1a1a" stroke-width="0.2">27%</text>
<text x="430.9" y="379.1" text-anchor="middle" font-family="Liberation Sans, Arial, sans-serif" font-size="10.4" fill="#1a1a1a" stroke="#1a1a1a" stroke-width="0.2">5%</text>
<text x="48.6" y="255.4" font-family="Liberation Sans, Arial, sans-serif" font-size="14.8" fill="#111" stroke="#111" stroke-width="0.35">30Si</text>
<text x="48.6" y="317.4" font-family="Liberation Sans, Arial, sans-serif" font-size="14.8" fill="#111" stroke="#111" stroke-width="0.35">15Si</text>
<text x="48.6" y="379.4" font-family="Liberation Sans, Arial, sans-serif" font-size="14.8" fill="#111" stroke="#111" stroke-width="0.35">00Si</text>
<line x1="85.8" y1="406.2" x2="439.0" y2="406.2" stroke="#222" stroke-width="1"/>
<line x1="85.8" y1="406.2" x2="85.8" y2="402" stroke="#222" stroke-width="1"/>
<line x1="99.93" y1="406.2" x2="99.93" y2="404.2" stroke="#222" stroke-width="1"/>
<line x1="114.06" y1="406.2" x2="114.06" y2="404.2" stroke="#222" stroke-width="1"/>
<line x1="128.18" y1="406.2" x2="128.18" y2="404.2" stroke="#222" stroke-width="1"/>
<line x1="142.31" y1="406.2" x2="142.31" y2="404.2" stroke="#222" stroke-width="1"/>
<line x1="156.44" y1="406.2" x2="156.44" y2="402" stroke="#222" stroke-width="1"/>
<line x1="170.57" y1="406.2" x2="170.57" y2="404.2" stroke="#222" stroke-width="1"/>
<line x1="184.7" y1="406.2" x2="184.7" y2="404.2" stroke="#222" stroke-width="1"/>
<line x1="198.82" y1="406.2" x2="198.82" y2="404.2" stroke="#222" stroke-width="1"/>
<line x1="212.95" y1="406.2" x2="212.95" y2="404.2" stroke="#222" stroke-width="1"/>
<line x1="227.08" y1="406.2" x2="227.08" y2="402" stroke="#222" stroke-width="1"/>
<line x1="241.21" y1="406.2" x2="241.21" y2="404.2" stroke="#222" stroke-width="1"/>
<line x1="255.34" y1="406.2" x2="255.34" y2="404.2" stroke="#222" stroke-width="1"/>
<line x1="269.46" y1="406.2" x2="269.46" y2="404.2" stroke="#222" stroke-width="1"/>
<line x1="283.59" y1="406.2" x2="283.59" y2="404.2" stroke="#222" stroke-width="1"/>
<line x1="297.72" y1="406.2" x2="297.72" y2="402" stroke="#222" stroke-width="1"/>
<line x1="311.85" y1="406.2" x2="311.85" y2="404.2" stroke="#222" stroke-width="1"/>
<line x1="325.98" y1="406.2" x2="325.98" y2="404.2" stroke="#222" stroke-width="1"/>
<line x1="340.1" y1="406.2" x2="340.1" y2="404.2" stroke="#222" stroke-width="1"/>
<line x1="354.23" y1="406.2" x2="354.23" y2="404.2" stroke="#222" stroke-width="1"/>
<line x1="368.36" y1="406.2" x2="368.36" y2="402" stroke="#222" stroke-width="1"/>
<line x1="382.49" y1="406.2" x2="382.49" y2="404.2" stroke="#222" stroke-width="1"/>
<line x1="396.62" y1="406.2" x2="396.62" y2="404.2" stroke="#222" stroke-width="1"/>
<line x1="410.74" y1="406.2" x2="410.74" y2="404.2" stroke="#222" stroke-width="1"/>
<line x1="424.87" y1="406.2" x2="424.87" y2="404.2" stroke="#222" stroke-width="1"/>
<line x1="439" y1="406.2" x2="439" y2="402" stroke="#222" stroke-width="1"/>
<text x="85.8" y="422.7" text-anchor="middle" font-family="Liberation Sans, Arial, sans-serif" font-size="13.8" fill="#111" stroke="#111" stroke-width="0.3">0</text>
<text x="156.44" y="422.7" text-anchor="middle" font-family="Liberation Sans, Arial, sans-serif" font-size="13.8" fill="#111" stroke="#111" stroke-width="0.3">20</text>
<text x="227.08" y="422.7" text-anchor="middle" font-family="Liberation Sans, Arial, sans-serif" font-size="13.8" fill="#111" stroke="#111" stroke-width="0.3">40</text>
<text x="297.72" y="422.7" text-anchor="middle" font-family="Liberation Sans, Arial, sans-serif" font-size="13.8" fill="#111" stroke="#111" stroke-width="0.3">60</text>
<text x="368.36" y="422.7" text-anchor="middle" font-family="Liberation Sans, Arial, sans-serif" font-size="13.8" fill="#111" stroke="#111" stroke-width="0.3">80</text>
<text x="439" y="422.7" text-anchor="middle" font-family="Liberation Sans, Arial, sans-serif" font-size="13.8" fill="#111" stroke="#111" stroke-width="0.3">100</text>
<text x="216.9" y="442.6" font-family="Liberation Sans, Arial, sans-serif" font-size="14.6" fill="#111" stroke="#111" stroke-width="0.3" textLength="141.6" lengthAdjust="spacingAndGlyphs">SEI composition(at%)</text>
<rect x="457.6" y="219.8" width="27.2" height="13.2" fill="#ff9d97"/>
<text x="488.7" y="230.7" font-family="Liberation Sans, Arial, sans-serif" font-size="12.4" fill="#111" stroke="#111" stroke-width="0.2">Li</text>
<rect x="457.6" y="235.0" width="27.2" height="13.2" fill="#66d9a6"/>
<text x="488.7" y="245.9" font-family="Liberation Sans, Arial, sans-serif" font-size="12.4" fill="#111" stroke="#111" stroke-width="0.2">P/<tspan font-size="8.3" dy="3.3">LixPOy</tspan></text>
<rect x="457.6" y="252.3" width="27.2" height="13.2" fill="#0ee0d2"/>
<text x="492.1" y="263.2" font-family="Liberation Sans, Arial, sans-serif" font-size="12.4" fill="#111" stroke="#111" stroke-width="0.2">F/<tspan font-size="8.3" dy="3.3">LixPOyFz</tspan></text>
<rect x="457.6" y="270.0" width="27.2" height="13.2" fill="#a6e2e9"/>
<text x="492.1" y="280.9" font-family="Liberation Sans, Arial, sans-serif" font-size="12.4" fill="#111" stroke="#111" stroke-width="0.2">F/<tspan font-size="8.3" dy="3.3">LiF</tspan></text>
<rect x="457.6" y="287.8" width="27.2" height="13.2" fill="#a9ab84"/>
<text x="492.1" y="298.7" font-family="Liberation Sans, Arial, sans-serif" font-size="12.4" fill="#111" stroke="#111" stroke-width="0.2">O</text>
<rect x="457.6" y="303.8" width="27.2" height="13.2" fill="#ffb4f6"/>
<text x="492.1" y="314.7" font-family="Liberation Sans, Arial, sans-serif" font-size="12.4" fill="#111" stroke="#111" stroke-width="0.2">C/<tspan font-size="8.3" dy="3.3">CO3</tspan></text>
<rect x="457.6" y="320.9" width="27.2" height="13.2" fill="#8cb5f0"/>
<text x="492.1" y="331.8" font-family="Liberation Sans, Arial, sans-serif" font-size="12.4" fill="#111" stroke="#111" stroke-width="0.2">C/<tspan font-size="8.3" dy="3.3">O-C=O</tspan></text>
<rect x="457.6" y="338.6" width="27.2" height="13.2" fill="#ffff98"/>
<text x="492.1" y="349.5" font-family="Liberation Sans, Arial, sans-serif" font-size="12.4" fill="#111" stroke="#111" stroke-width="0.2">C/<tspan font-size="8.3" dy="3.3">C=O</tspan></text>
<rect x="457.6" y="356.1" width="27.2" height="13.2" fill="#c5b0da"/>
<text x="492.1" y="367" font-family="Liberation Sans, Arial, sans-serif" font-size="12.4" fill="#111" stroke="#111" stroke-width="0.2">C/<tspan font-size="8.3" dy="3.3">C-O</tspan></text>
<rect x="457.6" y="374.0" width="27.2" height="13.2" fill="#7fd9a1"/>
<text x="492.1" y="384.9" font-family="Liberation Sans, Arial, sans-serif" font-size="12.4" fill="#111" stroke="#111" stroke-width="0.2">C/<tspan font-size="8.3" dy="3.3">C-C</tspan></text>
<rect x="457.6" y="391.6" width="27.2" height="13.2" fill="#ffc08f"/>
<text x="492.1" y="402.5" font-family="Liberation Sans, Arial, sans-serif" font-size="12.4" fill="#111" stroke="#111" stroke-width="0.2">C/<tspan font-size="8.3" dy="3.3">LixC6</tspan></text>
<rect x="457.6" y="410.0" width="27.2" height="13.2" fill="#ff55ef"/>
<text x="488.7" y="420.9" font-family="Liberation Sans, Arial, sans-serif" font-size="12.4" fill="#111" stroke="#111" stroke-width="0.2">Ni</text>
<rect x="457.6" y="425.2" width="27.2" height="13.2" fill="#b89a8a"/>
<text x="488.7" y="436.1" font-family="Liberation Sans, Arial, sans-serif" font-size="12.4" fill="#111" stroke="#111" stroke-width="0.2">Si</text></svg></body></html>
